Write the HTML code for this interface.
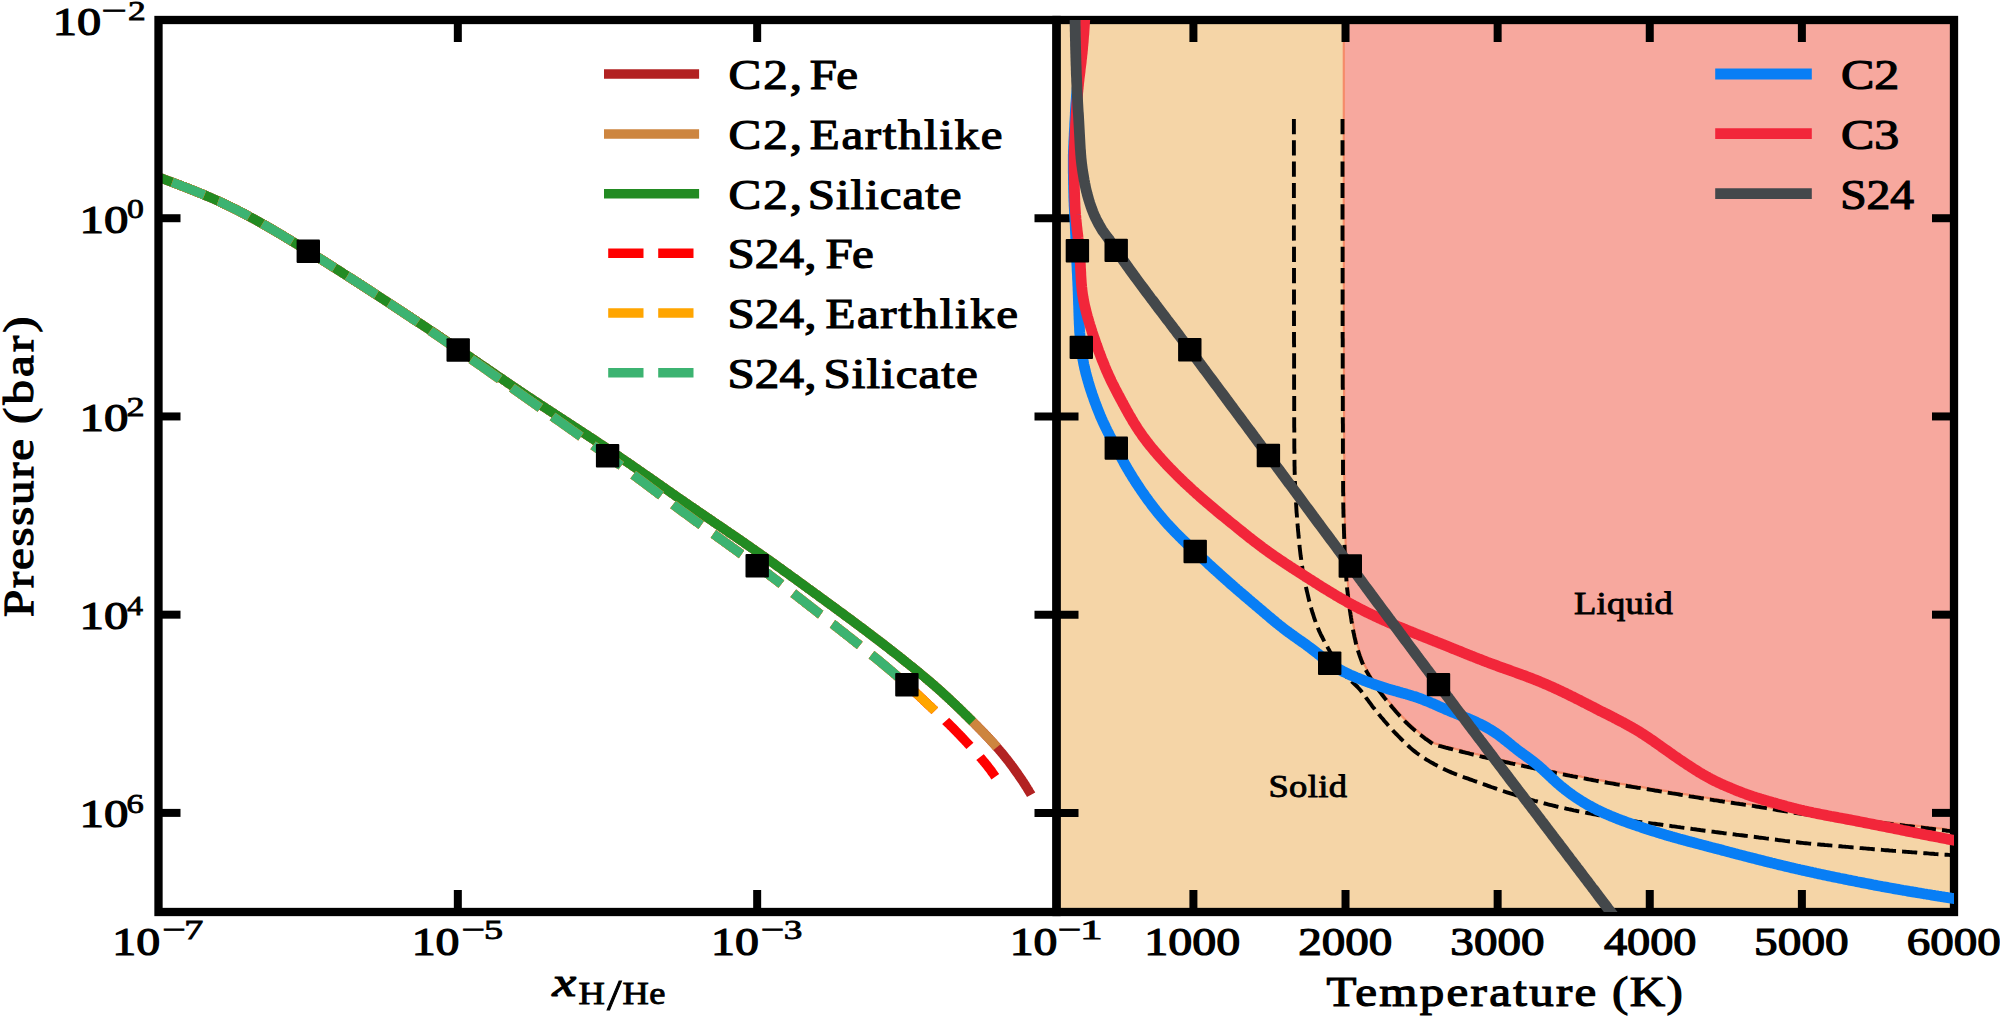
<!DOCTYPE html>
<html><head><meta charset="utf-8"><title>Pressure profiles</title>
<style>html,body{margin:0;padding:0;background:#fff}svg{display:block}</style></head>
<body>
<svg width="2000" height="1017" viewBox="0 0 2000 1017">
<defs>
<clipPath id="cl"><rect x="158.5" y="20.0" width="898.0" height="892.0"/></clipPath>
<clipPath id="cr"><rect x="1056.5" y="20.0" width="897.5" height="892.0"/></clipPath>
</defs>
<rect width="2000" height="1017" fill="#fff"/>
<rect x="1056.5" y="20.0" width="897.5" height="892.0" fill="#F5D5A7"/>
<path d="M1343.8,20.0 L1343.8,119.0 L1343.8,120.6 L1343.8,122.3 L1343.8,123.9 L1343.8,125.6 L1343.8,127.2 L1343.8,128.9 L1343.8,130.5 L1343.8,132.1 L1343.8,133.8 L1343.8,135.4 L1343.8,137.1 L1343.8,138.7 L1343.8,140.3 L1343.8,142.0 L1343.8,143.6 L1343.8,145.3 L1343.8,146.9 L1343.8,148.6 L1343.8,150.2 L1343.8,151.8 L1343.8,153.5 L1343.8,155.1 L1343.8,156.8 L1343.8,158.4 L1343.8,160.1 L1343.8,161.7 L1343.8,163.3 L1343.8,165.0 L1343.8,166.6 L1343.8,168.3 L1343.8,169.9 L1343.8,171.5 L1343.8,173.2 L1343.8,174.8 L1343.8,176.5 L1343.8,178.1 L1343.8,179.8 L1343.8,181.4 L1343.8,183.0 L1343.8,184.7 L1343.8,186.3 L1343.8,188.0 L1343.8,189.6 L1343.8,191.3 L1343.8,192.9 L1343.8,194.5 L1343.8,196.2 L1343.8,197.8 L1343.8,199.5 L1343.8,201.1 L1343.8,202.7 L1343.8,204.4 L1343.8,206.0 L1343.8,207.7 L1343.8,209.3 L1343.8,211.0 L1343.8,212.6 L1343.8,214.2 L1343.8,215.9 L1343.8,217.5 L1343.8,219.2 L1343.8,220.8 L1343.8,222.4 L1343.8,224.1 L1343.8,225.7 L1343.8,227.4 L1343.8,229.0 L1343.8,230.7 L1343.8,232.3 L1343.8,233.9 L1343.8,235.6 L1343.8,237.2 L1343.8,238.9 L1343.9,240.5 L1343.9,242.2 L1343.9,243.8 L1343.9,245.4 L1343.9,247.1 L1343.9,248.7 L1343.9,250.4 L1343.9,252.0 L1343.9,253.6 L1343.9,255.3 L1343.9,256.9 L1343.9,258.6 L1343.9,260.2 L1343.9,261.9 L1343.9,263.5 L1343.9,265.1 L1343.9,266.8 L1343.9,268.4 L1343.9,270.1 L1343.9,271.7 L1343.9,273.4 L1343.9,275.0 L1343.9,276.6 L1343.9,278.3 L1343.9,279.9 L1343.9,281.6 L1343.9,283.2 L1343.9,284.8 L1343.9,286.5 L1343.9,288.1 L1343.9,289.8 L1343.9,291.4 L1343.9,293.1 L1343.9,294.7 L1343.9,296.3 L1343.9,298.0 L1343.9,299.6 L1343.9,301.3 L1343.9,302.9 L1343.9,304.6 L1343.9,306.2 L1343.9,307.8 L1343.9,309.5 L1343.9,311.1 L1343.9,312.8 L1343.9,314.4 L1343.9,316.0 L1343.9,317.7 L1343.9,319.3 L1343.9,321.0 L1343.9,322.6 L1343.9,324.3 L1343.9,325.9 L1343.9,327.5 L1343.9,329.2 L1343.9,330.8 L1343.9,332.5 L1343.9,334.1 L1343.9,335.7 L1343.9,337.4 L1344.0,339.0 L1344.0,340.7 L1344.0,342.3 L1344.0,344.0 L1344.0,345.6 L1344.0,347.2 L1344.0,348.9 L1344.0,350.5 L1344.0,352.2 L1344.0,353.8 L1344.0,355.5 L1344.0,357.1 L1344.0,358.7 L1344.0,360.4 L1344.0,362.0 L1344.0,363.7 L1344.0,365.3 L1344.0,366.9 L1344.0,368.6 L1344.0,370.2 L1344.0,371.9 L1344.0,373.5 L1344.0,375.2 L1344.0,376.8 L1344.0,378.4 L1344.0,380.1 L1344.0,381.7 L1344.0,383.4 L1344.0,385.0 L1344.0,386.7 L1344.1,388.3 L1344.1,389.9 L1344.1,391.6 L1344.1,393.2 L1344.1,394.9 L1344.1,396.5 L1344.1,398.1 L1344.1,399.8 L1344.1,401.4 L1344.1,403.1 L1344.1,404.7 L1344.1,406.4 L1344.1,408.0 L1344.1,409.6 L1344.1,411.3 L1344.1,412.9 L1344.1,414.6 L1344.1,416.2 L1344.1,417.9 L1344.1,419.5 L1344.1,421.1 L1344.1,422.8 L1344.2,424.4 L1344.2,426.1 L1344.2,427.7 L1344.2,429.3 L1344.2,431.0 L1344.2,432.6 L1344.2,434.3 L1344.2,435.9 L1344.2,437.6 L1344.2,439.2 L1344.2,440.8 L1344.2,442.5 L1344.2,444.1 L1344.2,445.8 L1344.2,447.4 L1344.2,449.0 L1344.2,450.7 L1344.2,452.3 L1344.2,454.0 L1344.3,455.6 L1344.3,457.3 L1344.3,458.9 L1344.3,460.5 L1344.3,462.2 L1344.3,463.8 L1344.3,465.5 L1344.3,467.1 L1344.3,468.8 L1344.3,470.4 L1344.3,472.0 L1344.3,473.7 L1344.3,475.3 L1344.3,477.0 L1344.4,478.6 L1344.4,480.2 L1344.4,481.9 L1344.4,483.5 L1344.4,485.2 L1344.4,486.8 L1344.4,488.5 L1344.4,490.1 L1344.4,491.7 L1344.5,493.4 L1344.5,495.0 L1344.5,496.7 L1344.5,498.3 L1344.5,499.9 L1344.5,501.6 L1344.5,503.2 L1344.6,504.9 L1344.6,506.5 L1344.6,508.1 L1344.7,509.8 L1344.7,511.4 L1344.7,513.1 L1344.8,514.7 L1344.8,516.3 L1344.9,518.0 L1344.9,519.6 L1345.0,521.3 L1345.0,522.9 L1345.1,524.5 L1345.1,526.2 L1345.2,527.8 L1345.2,529.5 L1345.3,531.1 L1345.3,532.7 L1345.4,534.4 L1345.4,536.0 L1345.5,537.7 L1345.6,539.3 L1345.6,540.9 L1345.7,542.6 L1345.7,544.2 L1345.8,545.9 L1345.9,547.5 L1345.9,549.1 L1346.0,550.8 L1346.1,552.4 L1346.1,554.1 L1346.2,555.7 L1346.3,557.3 L1346.4,559.0 L1346.5,560.6 L1346.6,562.3 L1346.6,563.9 L1346.7,565.5 L1346.8,567.2 L1346.9,568.8 L1347.0,570.4 L1347.1,572.1 L1347.2,573.7 L1347.4,575.4 L1347.5,577.0 L1347.6,578.6 L1347.7,580.3 L1347.8,581.9 L1348.0,583.5 L1348.1,585.1 L1348.3,586.8 L1348.4,588.4 L1348.6,590.0 L1348.8,591.6 L1348.9,593.3 L1349.1,594.9 L1349.3,596.5 L1349.5,598.2 L1349.7,599.8 L1350.0,601.4 L1350.2,603.0 L1350.4,604.7 L1350.6,606.3 L1350.9,607.9 L1351.1,609.5 L1351.3,611.1 L1351.6,612.8 L1351.8,614.4 L1352.0,616.0 L1352.3,617.6 L1352.5,619.3 L1352.8,620.9 L1353.1,622.5 L1353.3,624.1 L1353.6,625.7 L1353.9,627.3 L1354.2,629.0 L1354.5,630.6 L1354.8,632.2 L1355.1,633.8 L1355.5,635.4 L1355.8,637.0 L1356.2,638.5 L1356.5,640.1 L1356.9,641.7 L1357.3,643.3 L1357.7,644.9 L1358.1,646.4 L1358.6,648.0 L1359.0,649.6 L1359.5,651.2 L1360.0,652.7 L1360.5,654.3 L1361.1,655.8 L1361.6,657.3 L1362.2,658.9 L1362.8,660.4 L1363.3,661.9 L1364.0,663.3 L1364.6,664.8 L1365.3,666.2 L1366.1,667.7 L1366.8,669.1 L1367.6,670.5 L1368.4,672.0 L1369.3,673.4 L1370.1,674.8 L1371.0,676.2 L1371.8,677.6 L1372.7,679.0 L1373.6,680.3 L1374.4,681.7 L1375.3,683.1 L1376.2,684.4 L1377.2,685.8 L1378.1,687.1 L1379.0,688.4 L1380.0,689.8 L1381.0,691.1 L1382.0,692.4 L1382.9,693.7 L1383.9,695.0 L1385.0,696.3 L1386.0,697.6 L1387.0,698.9 L1388.0,700.1 L1389.0,701.4 L1390.1,702.7 L1391.1,703.9 L1392.2,705.2 L1393.2,706.4 L1394.3,707.7 L1395.3,708.9 L1396.4,710.2 L1397.5,711.4 L1398.6,712.6 L1399.7,713.8 L1400.8,715.1 L1401.9,716.3 L1403.0,717.4 L1404.2,718.6 L1405.3,719.8 L1406.5,720.9 L1407.6,722.1 L1408.8,723.2 L1410.0,724.3 L1411.2,725.4 L1412.4,726.5 L1413.6,727.6 L1414.8,728.6 L1416.0,729.7 L1417.3,730.7 L1418.5,731.7 L1419.8,732.8 L1421.1,733.8 L1422.4,734.8 L1423.7,735.8 L1425.0,736.8 L1426.3,737.7 L1427.6,738.7 L1429.0,739.6 L1430.3,740.6 L1431.7,741.5 L1433.0,742.4 L1434.2,743.2 L1435.7,743.6 L1437.4,744.1 L1439.2,744.5 L1440.9,745.0 L1442.6,745.4 L1444.3,745.9 L1446.0,746.3 L1447.7,746.8 L1449.4,747.2 L1451.1,747.6 L1452.8,748.1 L1454.5,748.5 L1456.2,749.0 L1457.9,749.4 L1459.7,749.8 L1461.4,750.3 L1463.1,750.7 L1464.8,751.1 L1466.5,751.6 L1468.2,752.0 L1469.9,752.4 L1471.6,752.8 L1473.3,753.2 L1475.1,753.7 L1476.8,754.1 L1478.5,754.5 L1480.2,754.9 L1481.9,755.3 L1483.6,755.7 L1485.4,756.1 L1487.1,756.5 L1488.8,756.9 L1490.5,757.3 L1492.2,757.7 L1494.0,758.1 L1495.7,758.5 L1497.4,758.9 L1499.1,759.3 L1500.8,759.7 L1502.6,760.1 L1504.3,760.5 L1506.0,760.8 L1507.7,761.2 L1509.4,761.6 L1511.2,762.0 L1512.9,762.4 L1514.6,762.8 L1516.3,763.1 L1518.1,763.5 L1519.8,763.9 L1521.5,764.3 L1523.2,764.6 L1525.0,765.0 L1526.7,765.4 L1528.4,765.8 L1530.1,766.1 L1531.9,766.5 L1533.6,766.9 L1535.3,767.2 L1537.0,767.6 L1538.8,768.0 L1540.5,768.3 L1542.2,768.7 L1544.0,769.1 L1545.7,769.4 L1547.4,769.8 L1549.1,770.1 L1550.9,770.5 L1552.6,770.9 L1554.3,771.2 L1556.1,771.6 L1557.8,771.9 L1559.5,772.3 L1561.2,772.6 L1563.0,773.0 L1564.7,773.4 L1566.4,773.7 L1568.2,774.1 L1569.9,774.4 L1571.6,774.7 L1573.4,775.1 L1575.1,775.4 L1576.8,775.8 L1578.6,776.1 L1580.3,776.4 L1582.0,776.8 L1583.8,777.1 L1585.5,777.4 L1587.2,777.8 L1589.0,778.1 L1590.7,778.4 L1592.4,778.7 L1594.2,779.1 L1595.9,779.4 L1597.6,779.7 L1599.4,780.0 L1601.1,780.3 L1602.8,780.6 L1604.6,780.9 L1606.3,781.2 L1608.0,781.5 L1609.8,781.8 L1611.5,782.1 L1613.3,782.4 L1615.0,782.7 L1616.7,783.0 L1618.5,783.3 L1620.2,783.6 L1622.0,783.8 L1623.7,784.1 L1625.5,784.4 L1627.2,784.7 L1628.9,785.0 L1630.7,785.3 L1632.4,785.5 L1634.2,785.8 L1635.9,786.1 L1637.7,786.4 L1639.4,786.6 L1641.1,786.9 L1642.9,787.2 L1644.6,787.5 L1646.4,787.8 L1648.1,788.0 L1649.9,788.3 L1651.6,788.6 L1653.4,788.9 L1655.1,789.2 L1656.8,789.5 L1658.6,789.7 L1660.3,790.0 L1662.1,790.3 L1663.8,790.6 L1665.6,790.9 L1667.3,791.2 L1669.0,791.5 L1670.8,791.8 L1672.5,792.1 L1674.3,792.4 L1676.0,792.7 L1677.8,792.9 L1679.5,793.2 L1681.2,793.5 L1683.0,793.8 L1684.7,794.1 L1686.5,794.4 L1688.2,794.7 L1689.9,795.0 L1691.7,795.3 L1693.4,795.6 L1695.2,795.8 L1696.9,796.1 L1698.7,796.4 L1700.4,796.7 L1702.1,797.0 L1703.9,797.3 L1705.6,797.5 L1707.4,797.8 L1709.1,798.1 L1710.9,798.4 L1712.6,798.6 L1714.3,798.9 L1716.1,799.2 L1717.8,799.4 L1719.6,799.7 L1721.3,799.9 L1723.1,800.2 L1724.8,800.5 L1726.6,800.7 L1728.3,801.0 L1730.1,801.2 L1731.8,801.5 L1733.5,801.8 L1735.3,802.0 L1737.0,802.3 L1738.8,802.5 L1740.5,802.8 L1742.3,803.0 L1744.0,803.3 L1745.8,803.6 L1747.5,803.8 L1749.3,804.1 L1751.0,804.4 L1752.8,804.6 L1754.5,804.9 L1756.3,805.2 L1758.0,805.5 L1759.8,805.7 L1761.5,806.0 L1763.2,806.3 L1765.0,806.6 L1766.7,806.9 L1768.5,807.2 L1770.2,807.5 L1772.0,807.8 L1773.7,808.1 L1775.4,808.4 L1777.2,808.7 L1778.9,809.0 L1780.7,809.3 L1782.4,809.6 L1784.1,809.8 L1785.9,810.1 L1787.6,810.4 L1789.4,810.7 L1791.1,811.0 L1792.8,811.2 L1794.6,811.5 L1796.3,811.8 L1798.1,812.0 L1799.8,812.3 L1801.6,812.5 L1803.3,812.7 L1805.1,813.0 L1806.8,813.2 L1808.5,813.4 L1810.3,813.6 L1812.0,813.8 L1813.8,814.0 L1815.6,814.2 L1817.3,814.4 L1819.1,814.6 L1820.8,814.8 L1822.6,815.0 L1824.3,815.2 L1826.1,815.4 L1827.8,815.6 L1829.6,815.8 L1831.3,816.0 L1833.1,816.2 L1834.9,816.4 L1836.6,816.6 L1838.4,816.7 L1840.1,816.9 L1841.9,817.1 L1843.6,817.3 L1845.4,817.5 L1847.1,817.7 L1848.9,817.9 L1850.7,818.1 L1852.4,818.3 L1854.2,818.5 L1855.9,818.7 L1857.7,818.9 L1859.4,819.1 L1861.2,819.3 L1862.9,819.5 L1864.7,819.7 L1866.5,819.9 L1868.2,820.1 L1870.0,820.3 L1871.7,820.5 L1873.5,820.7 L1875.2,820.9 L1877.0,821.1 L1878.7,821.3 L1880.5,821.5 L1882.2,821.7 L1884.0,821.9 L1885.8,822.1 L1887.5,822.3 L1889.3,822.5 L1891.0,822.7 L1892.8,822.9 L1894.5,823.1 L1896.3,823.3 L1898.0,823.5 L1899.8,823.7 L1901.5,823.9 L1903.3,824.2 L1905.1,824.4 L1906.8,824.6 L1908.6,824.8 L1910.3,825.0 L1912.1,825.2 L1913.8,825.4 L1915.6,825.6 L1917.3,825.8 L1919.1,826.0 L1920.8,826.2 L1922.6,826.4 L1924.3,826.6 L1926.1,826.8 L1927.9,827.1 L1929.6,827.3 L1931.4,827.5 L1933.1,827.7 L1934.9,827.9 L1936.6,828.1 L1938.4,828.3 L1940.1,828.5 L1941.9,828.7 L1943.6,828.9 L1945.4,829.2 L1947.1,829.4 L1948.9,829.6 L1950.6,829.8 L1952.4,830.0 L1954.2,830.2 L1974.0,833.2 L1974.0,20.0Z" fill="#F7A89E" stroke="#F58C69" stroke-width="2.2" clip-path="url(#cr)"/>
<path d="M1293.9,119.0 L1293.9,120.7 L1293.9,122.5 L1293.9,124.2 L1293.9,126.0 L1293.9,127.7 L1293.9,129.5 L1293.9,131.2 L1293.9,133.0 L1293.9,134.7 L1293.9,136.5 L1293.9,138.2 L1293.9,140.0 L1293.9,141.7 L1293.9,143.5 L1293.9,145.2 L1293.9,147.0 L1293.9,148.7 L1293.9,150.5 L1293.9,152.2 L1293.9,154.0 L1293.9,155.7 L1293.9,157.5 L1293.9,159.2 L1293.9,161.0 L1293.9,162.7 L1293.9,164.5 L1293.9,166.2 L1293.9,168.0 L1293.9,169.7 L1293.9,171.5 L1293.9,173.2 L1293.9,175.0 L1293.9,176.7 L1293.9,178.5 L1293.9,180.2 L1293.9,182.0 L1293.9,183.7 L1293.9,185.5 L1293.9,187.2 L1293.9,189.0 L1293.9,190.7 L1293.9,192.5 L1293.9,194.2 L1293.9,196.0 L1293.9,197.7 L1293.9,199.5 L1293.9,201.2 L1293.9,203.0 L1293.9,204.7 L1293.9,206.5 L1293.9,208.2 L1293.9,210.0 L1293.9,211.7 L1293.9,213.5 L1293.9,215.2 L1293.9,217.0 L1293.9,218.7 L1293.9,220.5 L1293.9,222.2 L1293.9,224.0 L1293.9,225.7 L1293.9,227.5 L1293.9,229.2 L1293.9,231.0 L1293.9,232.7 L1293.9,234.5 L1293.9,236.2 L1293.9,238.0 L1293.9,239.7 L1294.0,241.5 L1294.0,243.2 L1294.0,245.0 L1294.0,246.7 L1294.0,248.5 L1294.0,250.2 L1294.0,252.0 L1294.0,253.7 L1294.0,255.5 L1294.0,257.2 L1294.0,259.0 L1294.0,260.7 L1294.0,262.5 L1294.0,264.2 L1294.0,266.0 L1294.0,267.7 L1294.0,269.5 L1294.0,271.2 L1294.0,273.0 L1294.0,274.7 L1294.0,276.5 L1294.0,278.2 L1294.0,280.0 L1294.0,281.7 L1294.0,283.5 L1294.0,285.2 L1294.0,287.0 L1294.0,288.7 L1294.0,290.5 L1294.0,292.2 L1294.0,294.0 L1294.0,295.7 L1294.0,297.5 L1294.0,299.2 L1294.0,301.0 L1294.0,302.7 L1294.0,304.5 L1294.0,306.2 L1294.0,308.0 L1294.0,309.7 L1294.0,311.5 L1294.0,313.2 L1294.0,315.0 L1294.0,316.7 L1294.0,318.5 L1294.0,320.2 L1294.0,322.0 L1294.0,323.7 L1294.0,325.5 L1294.0,327.2 L1294.0,329.0 L1294.0,330.7 L1294.0,332.5 L1294.0,334.2 L1294.0,336.0 L1294.0,337.7 L1294.0,339.5 L1294.0,341.2 L1294.0,343.0 L1294.1,344.7 L1294.1,346.5 L1294.1,348.2 L1294.1,350.0 L1294.1,351.7 L1294.1,353.5 L1294.1,355.2 L1294.1,357.0 L1294.1,358.7 L1294.1,360.5 L1294.1,362.2 L1294.1,364.0 L1294.1,365.7 L1294.1,367.5 L1294.1,369.2 L1294.1,371.0 L1294.1,372.7 L1294.1,374.5 L1294.1,376.2 L1294.1,378.0 L1294.1,379.7 L1294.1,381.5 L1294.1,383.2 L1294.1,385.0 L1294.1,386.7 L1294.1,388.5 L1294.1,390.2 L1294.1,392.0 L1294.1,393.7 L1294.2,395.5 L1294.2,397.2 L1294.2,399.0 L1294.2,400.7 L1294.2,402.5 L1294.2,404.2 L1294.2,406.0 L1294.2,407.7 L1294.2,409.5 L1294.2,411.2 L1294.2,413.0 L1294.2,414.7 L1294.2,416.5 L1294.2,418.2 L1294.2,420.0 L1294.2,421.7 L1294.2,423.5 L1294.2,425.2 L1294.2,426.9 L1294.3,428.7 L1294.3,430.4 L1294.3,432.2 L1294.3,433.9 L1294.3,435.7 L1294.3,437.4 L1294.3,439.2 L1294.3,440.9 L1294.3,442.7 L1294.3,444.4 L1294.3,446.2 L1294.3,447.9 L1294.4,449.7 L1294.4,451.4 L1294.4,453.2 L1294.4,454.9 L1294.4,456.7 L1294.4,458.4 L1294.5,460.2 L1294.5,461.9 L1294.5,463.7 L1294.5,465.4 L1294.6,467.2 L1294.6,468.9 L1294.6,470.7 L1294.7,472.4 L1294.7,474.2 L1294.8,475.9 L1294.8,477.7 L1294.9,479.4 L1294.9,481.2 L1295.0,482.9 L1295.1,484.7 L1295.2,486.4 L1295.2,488.2 L1295.3,489.9 L1295.4,491.7 L1295.5,493.4 L1295.6,495.2 L1295.7,496.9 L1295.8,498.7 L1295.9,500.4 L1296.0,502.2 L1296.1,503.9 L1296.2,505.6 L1296.3,507.4 L1296.4,509.1 L1296.5,510.9 L1296.6,512.6 L1296.8,514.4 L1296.9,516.1 L1297.0,517.9 L1297.2,519.6 L1297.3,521.4 L1297.4,523.1 L1297.6,524.8 L1297.7,526.6 L1297.9,528.3 L1298.0,530.1 L1298.2,531.8 L1298.4,533.6 L1298.5,535.3 L1298.7,537.0 L1298.8,538.8 L1299.0,540.5 L1299.2,542.3 L1299.4,544.0 L1299.5,545.8 L1299.7,547.5 L1299.9,549.2 L1300.1,551.0 L1300.3,552.7 L1300.5,554.5 L1300.7,556.2 L1301.0,557.9 L1301.2,559.7 L1301.4,561.4 L1301.7,563.1 L1301.9,564.9 L1302.2,566.6 L1302.4,568.3 L1302.7,570.0 L1303.0,571.8 L1303.3,573.5 L1303.6,575.2 L1303.9,576.9 L1304.2,578.7 L1304.6,580.4 L1304.9,582.1 L1305.3,583.8 L1305.6,585.5 L1306.0,587.2 L1306.4,589.0 L1306.8,590.7 L1307.2,592.4 L1307.6,594.1 L1308.0,595.8 L1308.4,597.5 L1308.8,599.2 L1309.2,600.9 L1309.7,602.6 L1310.1,604.2 L1310.6,605.9 L1311.1,607.6 L1311.5,609.3 L1312.0,611.0 L1312.5,612.7 L1313.1,614.4 L1313.6,616.0 L1314.1,617.7 L1314.7,619.4 L1315.3,621.0 L1315.8,622.7 L1316.4,624.3 L1317.0,625.9 L1317.7,627.5 L1318.4,629.1 L1319.0,630.7 L1319.8,632.3 L1320.5,633.9 L1321.3,635.5 L1322.1,637.0 L1322.9,638.6 L1323.7,640.2 L1324.5,641.7 L1325.4,643.3 L1326.2,644.8 L1327.1,646.3 L1327.9,647.9 L1328.8,649.4 L1329.6,650.9 L1330.5,652.4 L1331.4,654.0 L1332.2,655.5 L1333.1,657.1 L1334.0,658.6 L1334.9,660.1 L1335.8,661.6 L1336.7,663.1 L1337.6,664.6 L1338.6,666.1 L1339.5,667.6 L1340.5,669.0 L1341.5,670.5 L1342.5,671.9 L1343.6,673.2 L1344.7,674.6 L1345.8,675.9 L1346.9,677.1 L1348.2,678.4 L1349.5,679.6 L1350.8,680.7 L1352.1,681.9 L1353.4,683.1 L1354.7,684.3 L1356.0,685.5 L1357.3,686.7 L1358.4,688.0 L1359.6,689.3 L1360.7,690.6 L1361.8,692.0 L1362.9,693.4 L1363.9,694.7 L1365.0,696.1 L1366.0,697.6 L1367.0,699.0 L1368.1,700.4 L1369.1,701.8 L1370.1,703.2 L1371.2,704.7 L1372.2,706.1 L1373.3,707.5 L1374.4,708.8 L1375.5,710.2 L1376.6,711.6 L1377.7,712.9 L1378.8,714.3 L1379.9,715.6 L1381.0,717.0 L1382.2,718.3 L1383.3,719.6 L1384.4,721.0 L1385.6,722.3 L1386.7,723.6 L1387.9,725.0 L1389.0,726.3 L1390.2,727.6 L1391.4,728.9 L1392.6,730.2 L1393.7,731.4 L1394.9,732.7 L1396.2,734.0 L1397.4,735.2 L1398.6,736.5 L1399.8,737.7 L1401.1,739.0 L1402.3,740.2 L1403.6,741.5 L1404.8,742.7 L1406.1,743.9 L1407.4,745.1 L1408.7,746.3 L1410.0,747.5 L1411.3,748.6 L1412.6,749.8 L1414.0,750.9 L1415.3,751.9 L1416.7,753.0 L1418.1,754.0 L1419.5,755.0 L1420.9,756.0 L1422.4,756.9 L1423.8,757.9 L1425.3,758.8 L1426.8,759.8 L1428.3,760.7 L1429.8,761.6 L1431.4,762.5 L1432.9,763.3 L1434.4,764.2 L1436.0,765.0 L1437.6,765.9 L1439.1,766.7 L1440.7,767.5 L1442.3,768.3 L1443.8,769.0 L1445.4,769.8 L1447.0,770.5 L1448.6,771.2 L1450.2,771.9 L1451.8,772.6 L1453.4,773.2 L1455.0,773.9 L1456.6,774.5 L1458.3,775.1 L1459.9,775.8 L1461.5,776.4 L1463.2,777.0 L1464.9,777.6 L1466.5,778.1 L1468.2,778.7 L1469.8,779.3 L1471.5,779.9 L1473.1,780.5 L1474.8,781.1 L1476.4,781.6 L1478.1,782.2 L1479.7,782.8 L1481.4,783.4 L1483.0,784.0 L1484.7,784.6 L1486.3,785.2 L1488.0,785.8 L1489.6,786.4 L1491.3,787.0 L1492.9,787.5 L1494.6,788.1 L1496.2,788.7 L1497.9,789.3 L1499.5,789.8 L1501.2,790.4 L1502.8,791.0 L1504.5,791.5 L1506.2,792.1 L1507.8,792.6 L1509.5,793.1 L1511.2,793.7 L1512.8,794.2 L1514.5,794.7 L1516.2,795.3 L1517.8,795.8 L1519.5,796.3 L1521.2,796.8 L1522.8,797.3 L1524.5,797.8 L1526.2,798.3 L1527.9,798.8 L1529.6,799.3 L1531.2,799.8 L1532.9,800.3 L1534.6,800.8 L1536.3,801.2 L1538.0,801.7 L1539.7,802.1 L1541.4,802.6 L1543.0,803.0 L1544.7,803.5 L1546.4,803.9 L1548.1,804.4 L1549.8,804.8 L1551.5,805.2 L1553.2,805.6 L1554.9,806.0 L1556.6,806.5 L1558.3,806.9 L1560.0,807.3 L1561.7,807.6 L1563.5,808.0 L1565.2,808.4 L1566.9,808.8 L1568.6,809.2 L1570.3,809.5 L1572.0,809.9 L1573.7,810.3 L1575.4,810.6 L1577.1,811.0 L1578.9,811.3 L1580.6,811.6 L1582.3,812.0 L1584.0,812.3 L1585.7,812.7 L1587.4,813.0 L1589.2,813.3 L1590.9,813.6 L1592.6,814.0 L1594.3,814.3 L1596.0,814.6 L1597.8,815.0 L1599.5,815.3 L1601.2,815.6 L1602.9,816.0 L1604.6,816.3 L1606.3,816.6 L1608.1,817.0 L1609.8,817.3 L1611.5,817.6 L1613.2,817.9 L1614.9,818.2 L1616.7,818.5 L1618.4,818.9 L1620.1,819.1 L1621.8,819.4 L1623.6,819.7 L1625.3,820.0 L1627.0,820.2 L1628.8,820.5 L1630.5,820.7 L1632.2,821.0 L1633.9,821.2 L1635.7,821.4 L1637.4,821.7 L1639.2,821.9 L1640.9,822.1 L1642.6,822.3 L1644.4,822.5 L1646.1,822.8 L1647.8,823.0 L1649.6,823.2 L1651.3,823.4 L1653.1,823.6 L1654.8,823.8 L1656.5,824.0 L1658.3,824.3 L1660.0,824.5 L1661.7,824.7 L1663.5,825.0 L1665.2,825.2 L1666.9,825.4 L1668.7,825.7 L1670.4,825.9 L1672.1,826.2 L1673.9,826.4 L1675.6,826.6 L1677.3,826.9 L1679.1,827.1 L1680.8,827.4 L1682.5,827.6 L1684.3,827.9 L1686.0,828.1 L1687.7,828.3 L1689.5,828.6 L1691.2,828.8 L1692.9,829.1 L1694.7,829.3 L1696.4,829.5 L1698.1,829.8 L1699.9,830.0 L1701.6,830.3 L1703.3,830.5 L1705.1,830.7 L1706.8,830.9 L1708.5,831.2 L1710.3,831.4 L1712.0,831.6 L1713.7,831.8 L1715.5,832.1 L1717.2,832.3 L1718.9,832.5 L1720.7,832.7 L1722.4,832.9 L1724.2,833.2 L1725.9,833.4 L1727.6,833.6 L1729.4,833.8 L1731.1,834.0 L1732.8,834.2 L1734.6,834.4 L1736.3,834.7 L1738.0,834.9 L1739.8,835.1 L1741.5,835.3 L1743.3,835.5 L1745.0,835.7 L1746.7,835.9 L1748.5,836.2 L1750.2,836.4 L1751.9,836.6 L1753.7,836.8 L1755.4,837.0 L1757.1,837.2 L1758.9,837.5 L1760.6,837.7 L1762.3,837.9 L1764.1,838.1 L1765.8,838.4 L1767.6,838.6 L1769.3,838.8 L1771.0,839.1 L1772.8,839.3 L1774.5,839.5 L1776.2,839.7 L1778.0,840.0 L1779.7,840.2 L1781.4,840.4 L1783.2,840.6 L1784.9,840.9 L1786.6,841.1 L1788.4,841.3 L1790.1,841.5 L1791.9,841.7 L1793.6,841.9 L1795.3,842.1 L1797.1,842.3 L1798.8,842.5 L1800.5,842.7 L1802.3,842.9 L1804.0,843.1 L1805.8,843.2 L1807.5,843.4 L1809.2,843.6 L1811.0,843.7 L1812.7,843.9 L1814.5,844.1 L1816.2,844.2 L1818.0,844.4 L1819.7,844.5 L1821.4,844.7 L1823.2,844.8 L1824.9,845.0 L1826.7,845.1 L1828.4,845.3 L1830.2,845.4 L1831.9,845.6 L1833.6,845.7 L1835.4,845.9 L1837.1,846.0 L1838.9,846.2 L1840.6,846.3 L1842.4,846.5 L1844.1,846.6 L1845.9,846.8 L1847.6,846.9 L1849.3,847.1 L1851.1,847.2 L1852.8,847.4 L1854.6,847.5 L1856.3,847.7 L1858.1,847.8 L1859.8,848.0 L1861.5,848.1 L1863.3,848.3 L1865.0,848.4 L1866.8,848.6 L1868.5,848.7 L1870.3,848.9 L1872.0,849.0 L1873.7,849.2 L1875.5,849.3 L1877.2,849.5 L1879.0,849.6 L1880.7,849.8 L1882.5,849.9 L1884.2,850.1 L1886.0,850.2 L1887.7,850.3 L1889.4,850.5 L1891.2,850.6 L1892.9,850.8 L1894.7,850.9 L1896.4,851.0 L1898.2,851.2 L1899.9,851.3 L1901.6,851.5 L1903.4,851.6 L1905.1,851.7 L1906.9,851.9 L1908.6,852.0 L1910.4,852.1 L1912.1,852.3 L1913.9,852.4 L1915.6,852.5 L1917.4,852.7 L1919.1,852.8 L1920.8,852.9 L1922.6,853.1 L1924.3,853.2 L1926.1,853.3 L1927.8,853.4 L1929.6,853.6 L1931.3,853.7 L1933.1,853.8 L1934.8,854.0 L1936.5,854.1 L1938.3,854.2 L1940.0,854.3 L1941.8,854.5 L1943.5,854.6 L1945.3,854.7 L1947.0,854.8 L1948.8,854.9 L1950.5,855.1 L1952.3,855.2 L1954.0,855.3" fill="none" stroke="#000" stroke-width="3.9" stroke-dasharray="15.2 6.1" clip-path="url(#cr)"/>
<path d="M1342.5,119.0 L1342.5,120.6 L1342.5,122.3 L1342.5,123.9 L1342.5,125.6 L1342.5,127.2 L1342.5,128.9 L1342.5,130.5 L1342.5,132.1 L1342.5,133.8 L1342.5,135.4 L1342.5,137.1 L1342.5,138.7 L1342.5,140.3 L1342.5,142.0 L1342.5,143.6 L1342.5,145.3 L1342.5,146.9 L1342.5,148.6 L1342.5,150.2 L1342.5,151.8 L1342.5,153.5 L1342.5,155.1 L1342.5,156.8 L1342.5,158.4 L1342.5,160.1 L1342.5,161.7 L1342.5,163.3 L1342.5,165.0 L1342.5,166.6 L1342.5,168.3 L1342.5,169.9 L1342.5,171.5 L1342.5,173.2 L1342.5,174.8 L1342.5,176.5 L1342.5,178.1 L1342.5,179.8 L1342.5,181.4 L1342.5,183.0 L1342.5,184.7 L1342.5,186.3 L1342.5,188.0 L1342.5,189.6 L1342.5,191.3 L1342.5,192.9 L1342.5,194.5 L1342.5,196.2 L1342.5,197.8 L1342.5,199.5 L1342.5,201.1 L1342.5,202.7 L1342.5,204.4 L1342.5,206.0 L1342.5,207.7 L1342.5,209.3 L1342.5,211.0 L1342.5,212.6 L1342.5,214.2 L1342.5,215.9 L1342.5,217.5 L1342.5,219.2 L1342.5,220.8 L1342.5,222.4 L1342.5,224.1 L1342.5,225.7 L1342.5,227.4 L1342.5,229.0 L1342.5,230.7 L1342.5,232.3 L1342.5,233.9 L1342.5,235.6 L1342.5,237.2 L1342.5,238.9 L1342.6,240.5 L1342.6,242.2 L1342.6,243.8 L1342.6,245.4 L1342.6,247.1 L1342.6,248.7 L1342.6,250.4 L1342.6,252.0 L1342.6,253.6 L1342.6,255.3 L1342.6,256.9 L1342.6,258.6 L1342.6,260.2 L1342.6,261.9 L1342.6,263.5 L1342.6,265.1 L1342.6,266.8 L1342.6,268.4 L1342.6,270.1 L1342.6,271.7 L1342.6,273.4 L1342.6,275.0 L1342.6,276.6 L1342.6,278.3 L1342.6,279.9 L1342.6,281.6 L1342.6,283.2 L1342.6,284.8 L1342.6,286.5 L1342.6,288.1 L1342.6,289.8 L1342.6,291.4 L1342.6,293.1 L1342.6,294.7 L1342.6,296.3 L1342.6,298.0 L1342.6,299.6 L1342.6,301.3 L1342.6,302.9 L1342.6,304.6 L1342.6,306.2 L1342.6,307.8 L1342.6,309.5 L1342.6,311.1 L1342.6,312.8 L1342.6,314.4 L1342.6,316.0 L1342.6,317.7 L1342.6,319.3 L1342.6,321.0 L1342.6,322.6 L1342.6,324.3 L1342.6,325.9 L1342.6,327.5 L1342.6,329.2 L1342.6,330.8 L1342.6,332.5 L1342.6,334.1 L1342.6,335.8 L1342.6,337.4 L1342.7,339.0 L1342.7,340.7 L1342.7,342.3 L1342.7,344.0 L1342.7,345.6 L1342.7,347.2 L1342.7,348.9 L1342.7,350.5 L1342.7,352.2 L1342.7,353.8 L1342.7,355.5 L1342.7,357.1 L1342.7,358.7 L1342.7,360.4 L1342.7,362.0 L1342.7,363.7 L1342.7,365.3 L1342.7,367.0 L1342.7,368.6 L1342.7,370.2 L1342.7,371.9 L1342.7,373.5 L1342.7,375.2 L1342.7,376.8 L1342.7,378.4 L1342.7,380.1 L1342.7,381.7 L1342.7,383.4 L1342.7,385.0 L1342.7,386.7 L1342.8,388.3 L1342.8,389.9 L1342.8,391.6 L1342.8,393.2 L1342.8,394.9 L1342.8,396.5 L1342.8,398.2 L1342.8,399.8 L1342.8,401.4 L1342.8,403.1 L1342.8,404.7 L1342.8,406.4 L1342.8,408.0 L1342.8,409.6 L1342.8,411.3 L1342.8,412.9 L1342.8,414.6 L1342.8,416.2 L1342.8,417.9 L1342.8,419.5 L1342.8,421.1 L1342.8,422.8 L1342.9,424.4 L1342.9,426.1 L1342.9,427.7 L1342.9,429.3 L1342.9,431.0 L1342.9,432.6 L1342.9,434.3 L1342.9,435.9 L1342.9,437.6 L1342.9,439.2 L1342.9,440.8 L1342.9,442.5 L1342.9,444.1 L1342.9,445.8 L1342.9,447.4 L1342.9,449.1 L1342.9,450.7 L1342.9,452.3 L1342.9,454.0 L1343.0,455.6 L1343.0,457.3 L1343.0,458.9 L1343.0,460.5 L1343.0,462.2 L1343.0,463.8 L1343.0,465.5 L1343.0,467.1 L1343.0,468.8 L1343.0,470.4 L1343.0,472.0 L1343.0,473.7 L1343.0,475.3 L1343.0,477.0 L1343.1,478.6 L1343.1,480.3 L1343.1,481.9 L1343.1,483.5 L1343.1,485.2 L1343.1,486.8 L1343.1,488.5 L1343.1,490.1 L1343.1,491.7 L1343.2,493.4 L1343.2,495.0 L1343.2,496.7 L1343.2,498.3 L1343.2,500.0 L1343.2,501.6 L1343.2,503.2 L1343.3,504.9 L1343.3,506.5 L1343.3,508.2 L1343.4,509.8 L1343.4,511.4 L1343.4,513.1 L1343.5,514.7 L1343.5,516.4 L1343.6,518.0 L1343.6,519.7 L1343.7,521.3 L1343.7,522.9 L1343.8,524.6 L1343.8,526.2 L1343.9,527.9 L1343.9,529.5 L1344.0,531.1 L1344.0,532.8 L1344.1,534.4 L1344.1,536.1 L1344.2,537.7 L1344.3,539.4 L1344.3,541.0 L1344.4,542.6 L1344.4,544.3 L1344.5,545.9 L1344.6,547.6 L1344.6,549.2 L1344.7,550.8 L1344.8,552.5 L1344.8,554.1 L1344.9,555.8 L1345.0,557.4 L1345.1,559.0 L1345.2,560.7 L1345.3,562.3 L1345.3,564.0 L1345.4,565.6 L1345.5,567.2 L1345.6,568.9 L1345.7,570.5 L1345.8,572.2 L1345.9,573.8 L1346.1,575.4 L1346.2,577.1 L1346.3,578.7 L1346.4,580.3 L1346.5,582.0 L1346.7,583.6 L1346.8,585.3 L1347.0,586.9 L1347.1,588.5 L1347.3,590.2 L1347.5,591.8 L1347.7,593.4 L1347.8,595.1 L1348.0,596.7 L1348.2,598.3 L1348.5,599.9 L1348.7,601.6 L1348.9,603.2 L1349.1,604.8 L1349.3,606.5 L1349.6,608.1 L1349.8,609.7 L1350.0,611.3 L1350.3,613.0 L1350.5,614.6 L1350.8,616.2 L1351.0,617.8 L1351.3,619.5 L1351.5,621.1 L1351.8,622.7 L1352.1,624.3 L1352.3,626.0 L1352.6,627.6 L1352.9,629.2 L1353.2,630.8 L1353.5,632.4 L1353.9,634.0 L1354.2,635.6 L1354.5,637.2 L1354.9,638.8 L1355.3,640.4 L1355.6,642.0 L1356.0,643.6 L1356.4,645.2 L1356.9,646.8 L1357.3,648.4 L1357.8,650.0 L1358.3,651.6 L1358.8,653.1 L1359.3,654.7 L1359.8,656.2 L1360.4,657.8 L1361.0,659.3 L1361.5,660.8 L1362.1,662.4 L1362.8,663.8 L1363.5,665.3 L1364.2,666.8 L1364.9,668.3 L1365.7,669.7 L1366.5,671.2 L1367.3,672.6 L1368.1,674.0 L1369.0,675.5 L1369.9,676.9 L1370.7,678.3 L1371.6,679.7 L1372.5,681.0 L1373.3,682.4 L1374.2,683.8 L1375.2,685.1 L1376.1,686.5 L1377.0,687.8 L1378.0,689.2 L1378.9,690.5 L1379.9,691.8 L1380.9,693.2 L1381.9,694.5 L1382.9,695.8 L1383.9,697.1 L1384.9,698.4 L1386.0,699.7 L1387.0,700.9 L1388.0,702.2 L1389.1,703.5 L1390.1,704.7 L1391.2,706.0 L1392.2,707.3 L1393.3,708.5 L1394.4,709.8 L1395.4,711.0 L1396.5,712.3 L1397.6,713.5 L1398.7,714.7 L1399.8,715.9 L1401.0,717.1 L1402.1,718.3 L1403.2,719.5 L1404.4,720.7 L1405.5,721.9 L1406.7,723.0 L1407.9,724.1 L1409.1,725.3 L1410.3,726.4 L1411.5,727.5 L1412.7,728.5 L1413.9,729.6 L1415.2,730.7 L1416.4,731.7 L1417.7,732.7 L1419.0,733.8 L1420.3,734.8 L1421.6,735.8 L1422.9,736.8 L1424.2,737.8 L1425.5,738.8 L1426.9,739.7 L1428.2,740.7 L1429.6,741.6 L1430.9,742.6 L1432.3,743.5 L1433.7,744.4 L1435.4,744.9 L1437.1,745.3 L1438.8,745.8 L1440.5,746.2 L1442.2,746.7 L1443.9,747.1 L1445.7,747.6 L1447.4,748.0 L1449.1,748.5 L1450.8,748.9 L1452.5,749.3 L1454.2,749.8 L1455.9,750.2 L1457.6,750.7 L1459.3,751.1 L1461.0,751.5 L1462.8,752.0 L1464.5,752.4 L1466.2,752.8 L1467.9,753.2 L1469.6,753.7 L1471.3,754.1 L1473.0,754.5 L1474.8,754.9 L1476.5,755.3 L1478.2,755.7 L1479.9,756.2 L1481.6,756.6 L1483.3,757.0 L1485.1,757.4 L1486.8,757.8 L1488.5,758.2 L1490.2,758.6 L1491.9,759.0 L1493.7,759.4 L1495.4,759.8 L1497.1,760.2 L1498.8,760.6 L1500.5,761.0 L1502.3,761.3 L1504.0,761.7 L1505.7,762.1 L1507.4,762.5 L1509.2,762.9 L1510.9,763.3 L1512.6,763.7 L1514.3,764.0 L1516.1,764.4 L1517.8,764.8 L1519.5,765.2 L1521.2,765.5 L1523.0,765.9 L1524.7,766.3 L1526.4,766.7 L1528.1,767.0 L1529.9,767.4 L1531.6,767.8 L1533.3,768.1 L1535.1,768.5 L1536.8,768.9 L1538.5,769.2 L1540.2,769.6 L1542.0,770.0 L1543.7,770.3 L1545.4,770.7 L1547.1,771.1 L1548.9,771.4 L1550.6,771.8 L1552.3,772.1 L1554.1,772.5 L1555.8,772.9 L1557.5,773.2 L1559.3,773.6 L1561.0,773.9 L1562.7,774.3 L1564.4,774.6 L1566.2,775.0 L1567.9,775.3 L1569.6,775.7 L1571.4,776.0 L1573.1,776.4 L1574.8,776.7 L1576.6,777.0 L1578.3,777.4 L1580.0,777.7 L1581.8,778.1 L1583.5,778.4 L1585.2,778.7 L1587.0,779.0 L1588.7,779.4 L1590.4,779.7 L1592.2,780.0 L1593.9,780.3 L1595.7,780.7 L1597.4,781.0 L1599.1,781.3 L1600.9,781.6 L1602.6,781.9 L1604.3,782.2 L1606.1,782.5 L1607.8,782.8 L1609.6,783.1 L1611.3,783.4 L1613.1,783.7 L1614.8,784.0 L1616.5,784.3 L1618.3,784.6 L1620.0,784.8 L1621.8,785.1 L1623.5,785.4 L1625.2,785.7 L1627.0,786.0 L1628.7,786.3 L1630.5,786.5 L1632.2,786.8 L1634.0,787.1 L1635.7,787.4 L1637.5,787.7 L1639.2,787.9 L1640.9,788.2 L1642.7,788.5 L1644.4,788.8 L1646.2,789.1 L1647.9,789.3 L1649.7,789.6 L1651.4,789.9 L1653.1,790.2 L1654.9,790.5 L1656.6,790.7 L1658.4,791.0 L1660.1,791.3 L1661.9,791.6 L1663.6,791.9 L1665.3,792.2 L1667.1,792.5 L1668.8,792.8 L1670.6,793.1 L1672.3,793.4 L1674.1,793.6 L1675.8,793.9 L1677.5,794.2 L1679.3,794.5 L1681.0,794.8 L1682.8,795.1 L1684.5,795.4 L1686.2,795.7 L1688.0,796.0 L1689.7,796.3 L1691.5,796.6 L1693.2,796.8 L1695.0,797.1 L1696.7,797.4 L1698.4,797.7 L1700.2,798.0 L1701.9,798.3 L1703.7,798.5 L1705.4,798.8 L1707.2,799.1 L1708.9,799.4 L1710.7,799.6 L1712.4,799.9 L1714.1,800.2 L1715.9,800.4 L1717.6,800.7 L1719.4,801.0 L1721.1,801.2 L1722.9,801.5 L1724.6,801.7 L1726.4,802.0 L1728.1,802.3 L1729.9,802.5 L1731.6,802.8 L1733.4,803.0 L1735.1,803.3 L1736.9,803.6 L1738.6,803.8 L1740.3,804.1 L1742.1,804.3 L1743.8,804.6 L1745.6,804.9 L1747.3,805.1 L1749.1,805.4 L1750.8,805.6 L1752.6,805.9 L1754.3,806.2 L1756.1,806.5 L1757.8,806.7 L1759.5,807.0 L1761.3,807.3 L1763.0,807.6 L1764.8,807.9 L1766.5,808.2 L1768.3,808.5 L1770.0,808.8 L1771.7,809.1 L1773.5,809.4 L1775.2,809.7 L1777.0,810.0 L1778.7,810.3 L1780.4,810.6 L1782.2,810.8 L1783.9,811.1 L1785.7,811.4 L1787.4,811.7 L1789.2,812.0 L1790.9,812.3 L1792.7,812.5 L1794.4,812.8 L1796.1,813.0 L1797.9,813.3 L1799.6,813.5 L1801.4,813.8 L1803.1,814.0 L1804.9,814.2 L1806.6,814.5 L1808.4,814.7 L1810.1,814.9 L1811.9,815.1 L1813.6,815.3 L1815.4,815.5 L1817.2,815.7 L1818.9,815.9 L1820.7,816.1 L1822.4,816.3 L1824.2,816.5 L1825.9,816.7 L1827.7,816.9 L1829.4,817.1 L1831.2,817.3 L1833.0,817.5 L1834.7,817.7 L1836.5,817.8 L1838.2,818.0 L1840.0,818.2 L1841.7,818.4 L1843.5,818.6 L1845.2,818.8 L1847.0,819.0 L1848.8,819.2 L1850.5,819.4 L1852.3,819.6 L1854.0,819.8 L1855.8,820.0 L1857.5,820.2 L1859.3,820.4 L1861.0,820.6 L1862.8,820.8 L1864.5,821.0 L1866.3,821.2 L1868.1,821.4 L1869.8,821.6 L1871.6,821.8 L1873.3,822.0 L1875.1,822.2 L1876.8,822.4 L1878.6,822.6 L1880.3,822.8 L1882.1,823.0 L1883.9,823.2 L1885.6,823.4 L1887.4,823.6 L1889.1,823.8 L1890.9,824.0 L1892.6,824.2 L1894.4,824.4 L1896.1,824.6 L1897.9,824.8 L1899.6,825.0 L1901.4,825.2 L1903.1,825.4 L1904.9,825.7 L1906.7,825.9 L1908.4,826.1 L1910.2,826.3 L1911.9,826.5 L1913.7,826.7 L1915.4,826.9 L1917.2,827.1 L1918.9,827.3 L1920.7,827.5 L1922.4,827.7 L1924.2,827.9 L1925.9,828.1 L1927.7,828.3 L1929.5,828.6 L1931.2,828.8 L1933.0,829.0 L1934.7,829.2 L1936.5,829.4 L1938.2,829.6 L1940.0,829.8 L1941.7,830.0 L1943.5,830.2 L1945.2,830.4 L1947.0,830.7 L1948.7,830.9 L1950.5,831.1 L1952.2,831.3 L1954.0,831.5" fill="none" stroke="#000" stroke-width="3.9" stroke-dasharray="15.2 6.1" clip-path="url(#cr)"/>
<g clip-path="url(#cl)" fill="none" stroke-linejoin="round">
<path d="M140.0,170.0 L141.1,170.4 L142.3,170.9 L143.4,171.3 L144.5,171.8 L145.7,172.2 L146.8,172.7 L147.9,173.1 L149.1,173.5 L150.2,174.0 L151.4,174.4 L152.5,174.9 L153.6,175.3 L154.8,175.7 L155.9,176.2 L157.1,176.6 L158.2,177.0 L159.3,177.4 L160.5,177.9 L161.6,178.3 L162.8,178.7 L163.9,179.2 L165.0,179.6 L166.2,180.0 L167.3,180.5 L168.5,180.9 L169.6,181.3 L170.8,181.7 L171.9,182.2 L173.0,182.6 L174.2,183.0 L175.3,183.5 L176.5,183.9 L177.6,184.3 L178.7,184.8 L179.9,185.2 L181.0,185.6 L182.2,186.1 L183.3,186.5 L184.4,186.9 L185.6,187.4 L186.7,187.8 L187.8,188.3 L189.0,188.7 L190.1,189.2 L191.3,189.6 L192.4,190.1 L193.5,190.5 L194.7,191.0 L195.8,191.4 L196.9,191.9 L198.0,192.3 L199.2,192.8 L200.3,193.2 L201.4,193.7 L202.6,194.2 L203.7,194.6 L204.8,195.1 L205.9,195.6 L207.0,196.1 L208.2,196.6 L209.3,197.0 L210.4,197.5 L211.5,198.0 L212.6,198.5 L213.8,199.0 L214.9,199.5 L216.0,200.0 L217.1,200.5 L218.2,201.0 L219.3,201.5 L220.4,202.0 L221.5,202.5 L222.6,203.1 L223.7,203.6 L224.8,204.1 L225.9,204.6 L227.0,205.2 L228.1,205.7 L229.2,206.2 L230.3,206.8 L231.4,207.3 L232.5,207.8 L233.6,208.4 L234.7,208.9 L235.8,209.5 L236.9,210.0 L238.0,210.6 L239.0,211.1 L240.1,211.7 L241.2,212.2 L242.3,212.8 L243.4,213.4 L244.5,213.9 L245.5,214.5 L246.6,215.1 L247.7,215.7 L248.8,216.2 L249.8,216.8 L250.9,217.4 L252.0,218.0 L253.1,218.5 L254.1,219.1 L255.2,219.7 L256.3,220.3 L257.3,220.9 L258.4,221.5 L259.5,222.1 L260.5,222.7 L261.6,223.3 L262.6,223.9 L263.7,224.5 L264.8,225.1 L265.8,225.7 L266.9,226.3 L267.9,226.9 L269.0,227.5 L270.1,228.1 L271.1,228.7 L272.2,229.3 L273.2,230.0 L274.3,230.6 L275.3,231.2 L276.4,231.8 L277.4,232.4 L278.5,233.1 L279.5,233.7 L280.6,234.3 L281.6,234.9 L282.7,235.6 L283.7,236.2 L284.7,236.8 L285.8,237.4 L286.8,238.1 L287.9,238.7 L288.9,239.3 L290.0,240.0 L291.0,240.6 L292.0,241.2 L293.1,241.9 L294.1,242.5 L295.2,243.2 L296.2,243.8 L297.2,244.4 L298.3,245.1 L299.3,245.7 L300.4,246.4 L301.4,247.0 L302.4,247.6 L303.5,248.3 L304.5,248.9 L305.5,249.6 L306.6,250.2 L307.6,250.9 L308.6,251.5 L309.7,252.2 L310.7,252.8 L311.7,253.4 L312.8,254.1 L313.8,254.7 L314.8,255.4 L315.9,256.0 L316.9,256.7 L317.9,257.3 L319.0,258.0 L320.0,258.6 L321.0,259.3 L322.1,259.9 L323.1,260.6 L324.1,261.2 L325.2,261.9 L326.2,262.5 L327.2,263.2 L328.2,263.8 L329.3,264.5 L330.3,265.2 L331.3,265.8 L332.4,266.5 L333.4,267.1 L334.4,267.8 L335.4,268.4 L336.5,269.1 L337.5,269.7 L338.5,270.4 L339.6,271.0 L340.6,271.7 L341.6,272.4 L342.6,273.0 L343.7,273.7 L344.7,274.3 L345.7,275.0 L346.7,275.6 L347.8,276.3 L348.8,277.0 L349.8,277.6 L350.9,278.3 L351.9,278.9 L352.9,279.6 L353.9,280.3 L355.0,280.9 L356.0,281.6 L357.0,282.2 L358.0,282.9 L359.1,283.6 L360.1,284.2 L361.1,284.9 L362.1,285.5 L363.1,286.2 L364.2,286.9 L365.2,287.5 L366.2,288.2 L367.2,288.9 L368.3,289.5 L369.3,290.2 L370.3,290.8 L371.3,291.5 L372.4,292.2 L373.4,292.8 L374.4,293.5 L375.4,294.2 L376.4,294.8 L377.5,295.5 L378.5,296.2 L379.5,296.8 L380.5,297.5 L381.6,298.2 L382.6,298.8 L383.6,299.5 L384.6,300.2 L385.6,300.8 L386.7,301.5 L387.7,302.2 L388.7,302.8 L389.7,303.5 L390.7,304.2 L391.8,304.8 L392.8,305.5 L393.8,306.2 L394.8,306.8 L395.8,307.5 L396.9,308.2 L397.9,308.8 L398.9,309.5 L399.9,310.2 L400.9,310.8 L402.0,311.5 L403.0,312.2 L404.0,312.9 L405.0,313.5 L406.0,314.2 L407.1,314.9 L408.1,315.5 L409.1,316.2 L410.1,316.9 L411.1,317.5 L412.1,318.2 L413.2,318.9 L414.2,319.6 L415.2,320.2 L416.2,320.9 L417.2,321.6 L418.2,322.3 L419.3,322.9 L420.3,323.6 L421.3,324.3 L422.3,324.9 L423.3,325.6 L424.3,326.3 L425.4,327.0 L426.4,327.6 L427.4,328.3 L428.4,329.0 L429.4,329.7 L430.4,330.3 L431.4,331.0 L432.5,331.7 L433.5,332.4 L434.5,333.1 L435.5,333.7 L436.5,334.4 L437.5,335.1 L438.5,335.8 L439.6,336.4 L440.6,337.1 L441.6,337.8 L442.6,338.5 L443.6,339.2 L444.6,339.8 L445.6,340.5 L446.6,341.2 L447.7,341.9 L448.7,342.6 L449.7,343.2 L450.7,343.9 L451.7,344.6 L452.7,345.3 L453.7,346.0 L454.7,346.6 L455.7,347.3 L456.8,348.0 L457.8,348.7 L458.8,349.4 L459.8,350.1 L460.8,350.8 L461.8,351.4 L462.8,352.1 L463.8,352.8 L464.8,353.5 L465.8,354.2 L466.8,354.9 L467.8,355.6 L468.9,356.2 L469.9,356.9 L470.9,357.6 L471.9,358.3 L472.9,359.0 L473.9,359.7 L474.9,360.4 L475.9,361.1 L476.9,361.7 L477.9,362.4 L478.9,363.1 L479.9,363.8 L480.9,364.5 L481.9,365.2 L482.9,365.9 L484.0,366.6 L485.0,367.2 L486.0,367.9 L487.0,368.6 L488.0,369.3 L489.0,370.0 L490.0,370.7 L491.0,371.4 L492.0,372.1 L493.0,372.8 L494.0,373.4 L495.0,374.1 L496.0,374.8 L497.0,375.5 L498.0,376.2 L499.1,376.9 L500.1,377.6 L501.1,378.3 L502.1,378.9 L503.1,379.6 L504.1,380.3 L505.1,381.0 L506.1,381.7 L507.1,382.4 L508.1,383.1 L509.1,383.7 L510.1,384.4 L511.2,385.1 L512.2,385.8 L513.2,386.5 L514.2,387.2 L515.2,387.8 L516.2,388.5 L517.2,389.2 L518.2,389.9 L519.2,390.6 L520.2,391.2 L521.3,391.9 L522.3,392.6 L523.3,393.3 L524.3,394.0 L525.3,394.6 L526.3,395.3 L527.3,396.0 L528.3,396.7 L529.4,397.4 L530.4,398.0 L531.4,398.7 L532.4,399.4 L533.4,400.1 L534.4,400.7 L535.5,401.4 L536.5,402.1 L537.5,402.7 L538.5,403.4 L539.5,404.1 L540.5,404.8 L541.6,405.4 L542.6,406.1 L543.6,406.8 L544.6,407.4 L545.6,408.1 L546.7,408.8 L547.7,409.4 L548.7,410.1 L549.7,410.8 L550.7,411.4 L551.8,412.1 L552.8,412.8 L553.8,413.4 L554.8,414.1 L555.8,414.8 L556.9,415.4 L557.9,416.1 L558.9,416.8 L559.9,417.4 L561.0,418.1 L562.0,418.8 L563.0,419.4 L564.0,420.1 L565.0,420.8 L566.1,421.4 L567.1,422.1 L568.1,422.8 L569.1,423.4 L570.2,424.1 L571.2,424.8 L572.2,425.4 L573.2,426.1 L574.2,426.8 L575.3,427.4 L576.3,428.1 L577.3,428.8 L578.3,429.4 L579.3,430.1 L580.4,430.8 L581.4,431.4 L582.4,432.1 L583.4,432.8 L584.4,433.4 L585.5,434.1 L586.5,434.8 L587.5,435.4 L588.5,436.1 L589.5,436.8 L590.6,437.4 L591.6,438.1 L592.6,438.8 L593.6,439.4 L594.6,440.1 L595.6,440.8 L596.7,441.5 L597.7,442.1 L598.7,442.8 L599.7,443.5 L600.7,444.2 L601.7,444.8 L602.8,445.5 L603.8,446.2 L604.8,446.9 L605.8,447.6 L606.8,448.2 L607.8,448.9 L608.8,449.6 L609.8,450.3 L610.9,451.0 L611.9,451.6 L612.9,452.3 L613.9,453.0 L614.9,453.7 L615.9,454.4 L616.9,455.1 L617.9,455.7 L618.9,456.4 L619.9,457.1 L620.9,457.8 L621.9,458.5 L622.9,459.2 L623.9,459.9 L625.0,460.6 L626.0,461.3 L627.0,462.0 L628.0,462.6 L629.0,463.3 L630.0,464.0 L631.0,464.7 L632.0,465.4 L633.0,466.1 L634.0,466.8 L635.0,467.5 L636.0,468.2 L637.0,468.9 L638.0,469.6 L639.0,470.3 L640.0,471.0 L641.0,471.7 L642.0,472.4 L643.0,473.1 L644.0,473.8 L645.0,474.5 L646.0,475.2 L647.0,475.9 L648.0,476.5 L649.0,477.2 L650.0,477.9 L651.0,478.6 L652.0,479.3 L653.0,480.0 L654.0,480.7 L655.0,481.4 L656.0,482.1 L657.0,482.8 L658.0,483.5 L659.0,484.2 L660.0,484.9 L661.0,485.6 L662.0,486.3 L663.0,487.0 L664.0,487.7 L665.0,488.4 L666.0,489.1 L667.0,489.8 L668.0,490.5 L669.0,491.2 L670.0,491.9 L671.0,492.6 L672.0,493.3 L673.0,494.0 L674.0,494.7 L675.0,495.4 L676.0,496.1 L677.0,496.8 L678.0,497.5 L679.0,498.2 L680.0,498.9 L681.0,499.6 L682.0,500.3 L683.0,500.9 L684.0,501.6 L685.0,502.3 L686.0,503.0 L687.0,503.7 L688.0,504.4 L689.0,505.1 L690.0,505.8 L691.0,506.5 L692.1,507.2 L693.1,507.9 L694.1,508.5 L695.1,509.2 L696.1,509.9 L697.1,510.6 L698.1,511.3 L699.1,512.0 L700.1,512.7 L701.1,513.4 L702.1,514.0 L703.1,514.7 L704.1,515.4 L705.1,516.1 L706.1,516.8 L707.2,517.5 L708.2,518.2 L709.2,518.9 L710.2,519.5 L711.2,520.2 L712.2,520.9 L713.2,521.6 L714.2,522.3 L715.2,523.0 L716.2,523.6 L717.2,524.3 L718.2,525.0 L719.3,525.7 L720.3,526.4 L721.3,527.1 L722.3,527.8 L723.3,528.4 L724.3,529.1 L725.3,529.8 L726.3,530.5 L727.3,531.2 L728.3,531.9 L729.3,532.6 L730.3,533.3 L731.4,533.9 L732.4,534.6 L733.4,535.3 L734.4,536.0 L735.4,536.7 L736.4,537.4 L737.4,538.1 L738.4,538.8 L739.4,539.4 L740.4,540.1 L741.4,540.8 L742.4,541.5 L743.4,542.2 L744.4,542.9 L745.4,543.6 L746.4,544.3 L747.4,545.0 L748.4,545.7 L749.4,546.4 L750.4,547.1 L751.4,547.8 L752.4,548.5 L753.4,549.2 L754.4,549.9 L755.4,550.6 L756.4,551.3 L757.4,552.0 L758.4,552.7 L759.4,553.4 L760.4,554.1 L761.4,554.8 L762.4,555.5 L763.4,556.2 L764.4,556.9 L765.4,557.6 L766.4,558.3 L767.4,559.0 L768.4,559.7 L769.4,560.4 L770.4,561.1 L771.4,561.8 L772.4,562.5 L773.3,563.2 L774.3,563.9 L775.3,564.7 L776.3,565.4 L777.3,566.1 L778.3,566.8 L779.3,567.5 L780.3,568.2 L781.3,568.9 L782.3,569.6 L783.2,570.4 L784.2,571.1 L785.2,571.8 L786.2,572.5 L787.2,573.2 L788.2,573.9 L789.2,574.6 L790.2,575.4 L791.1,576.1 L792.1,576.8 L793.1,577.5 L794.1,578.2 L795.1,578.9 L796.1,579.7 L797.1,580.4 L798.1,581.1 L799.0,581.8 L800.0,582.5 L801.0,583.2 L802.0,584.0 L803.0,584.7 L804.0,585.4 L805.0,586.1 L805.9,586.8 L806.9,587.5 L807.9,588.3 L808.9,589.0 L809.9,589.7 L810.9,590.4 L811.9,591.1 L812.8,591.8 L813.8,592.6 L814.8,593.3 L815.8,594.0 L816.8,594.7 L817.8,595.4 L818.8,596.1 L819.7,596.9 L820.7,597.6 L821.7,598.3 L822.7,599.0 L823.7,599.7 L824.7,600.5 L825.7,601.2 L826.6,601.9 L827.6,602.6 L828.6,603.3 L829.6,604.0 L830.6,604.8 L831.6,605.5 L832.6,606.2 L833.5,606.9 L834.5,607.6 L835.5,608.4 L836.5,609.1 L837.5,609.8 L838.5,610.5 L839.4,611.3 L840.4,612.0 L841.4,612.7 L842.4,613.4 L843.4,614.1 L844.3,614.9 L845.3,615.6 L846.3,616.3 L847.3,617.0 L848.3,617.8 L849.3,618.5 L850.2,619.2 L851.2,619.9 L852.2,620.7 L853.2,621.4 L854.1,622.1 L855.1,622.8 L856.1,623.6 L857.1,624.3 L858.1,625.0 L859.0,625.8 L860.0,626.5 L861.0,627.2 L862.0,628.0 L862.9,628.7 L863.9,629.4 L864.9,630.2 L865.9,630.9 L866.8,631.6 L867.8,632.4 L868.8,633.1 L869.8,633.8 L870.7,634.6 L871.7,635.3 L872.7,636.0 L873.6,636.8 L874.6,637.5 L875.6,638.3 L876.5,639.0 L877.5,639.7 L878.5,640.5 L879.5,641.2 L880.4,642.0 L881.4,642.7 L882.4,643.4 L883.3,644.2 L884.3,644.9 L885.2,645.7 L886.2,646.4 L887.2,647.2 L888.1,647.9 L889.1,648.7 L890.1,649.4 L891.0,650.2 L892.0,650.9 L892.9,651.7 L893.9,652.4 L894.9,653.2 L895.8,653.9 L896.8,654.7 L897.7,655.4 L898.7,656.2 L899.7,656.9 L900.6,657.7 L901.6,658.5 L902.5,659.2 L903.5,660.0 L904.4,660.7 L905.4,661.5 L906.3,662.3 L907.3,663.0 L908.2,663.8 L909.2,664.5 L910.1,665.3 L911.1,666.1 L912.0,666.8 L913.0,667.6 L913.9,668.4 L914.9,669.2 L915.8,669.9 L916.8,670.7 L917.7,671.5 L918.7,672.2 L919.6,673.0 L920.5,673.8 L921.5,674.6 L922.4,675.4 L923.3,676.1 L924.3,676.9 L925.2,677.7 L926.1,678.5 L927.1,679.3 L928.0,680.1 L928.9,680.9 L929.9,681.6 L930.8,682.4 L931.7,683.2 L932.6,684.0 L933.6,684.8 L934.5,685.6 L935.4,686.4 L936.3,687.2 L937.2,688.0 L938.1,688.8 L939.1,689.7 L940.0,690.5 L940.9,691.3 L941.8,692.1 L942.7,692.9 L943.6,693.7 L944.5,694.6 L945.4,695.4 L946.3,696.2 L947.2,697.0 L948.1,697.9 L949.0,698.7 L949.9,699.5 L950.7,700.4 L951.6,701.2 L952.5,702.0 L953.4,702.9 L954.3,703.7 L955.2,704.5 L956.1,705.4 L956.9,706.2 L957.8,707.1 L958.7,707.9 L959.6,708.8 L960.4,709.6 L961.3,710.5 L962.2,711.3 L963.1,712.2 L963.9,713.0 L964.8,713.9 L965.7,714.7 L966.5,715.6 L967.4,716.4 L968.3,717.3 L969.1,718.2 L970.0,719.0 L970.9,719.9 L971.7,720.7 L972.6,721.6 L973.5,722.5 L974.3,723.3 L975.2,724.2 L976.1,725.1 L976.9,725.9 L977.8,726.8 L978.6,727.7 L979.5,728.5 L980.3,729.4 L981.2,730.3 L982.0,731.2 L982.9,732.0 L983.7,732.9 L984.6,733.8 L985.4,734.7 L986.3,735.6 L987.1,736.4 L987.9,737.3 L988.8,738.2 L989.6,739.1 L990.4,740.0 L991.2,740.9 L992.1,741.8 L992.9,742.7 L993.7,743.6 L994.5,744.5 L995.3,745.4 L996.1,746.3 L996.9,747.3 L997.7,748.2 L998.5,749.1 L999.3,750.0 L1000.1,751.0 L1000.9,751.9 L1001.7,752.8 L1002.5,753.8 L1003.2,754.7 L1004.0,755.7 L1004.8,756.6 L1005.5,757.6 L1006.3,758.5 L1007.1,759.5 L1007.8,760.4 L1008.6,761.4 L1009.3,762.4 L1010.0,763.3 L1010.8,764.3 L1011.5,765.3 L1012.2,766.2 L1013.0,767.2 L1013.7,768.2 L1014.4,769.2 L1015.1,770.2 L1015.8,771.2 L1016.5,772.2 L1017.3,773.2 L1018.0,774.2 L1018.6,775.2 L1019.3,776.2 L1020.0,777.2 L1020.7,778.2 L1021.4,779.2 L1022.1,780.2 L1022.7,781.2 L1023.4,782.3 L1024.1,783.3 L1024.7,784.3 L1025.4,785.3 L1026.0,786.4 L1026.7,787.4 L1027.3,788.4 L1028.0,789.5 L1028.6,790.5 L1029.2,791.6 L1029.9,792.6 L1030.5,793.6 L1031.1,794.7" stroke="#B22222" stroke-width="9.4"/>
<path d="M140.0,170.0 L141.1,170.4 L142.3,170.9 L143.4,171.3 L144.5,171.8 L145.7,172.2 L146.8,172.7 L147.9,173.1 L149.1,173.5 L150.2,174.0 L151.4,174.4 L152.5,174.9 L153.6,175.3 L154.8,175.7 L155.9,176.2 L157.1,176.6 L158.2,177.0 L159.3,177.4 L160.5,177.9 L161.6,178.3 L162.8,178.7 L163.9,179.2 L165.0,179.6 L166.2,180.0 L167.3,180.5 L168.5,180.9 L169.6,181.3 L170.8,181.7 L171.9,182.2 L173.0,182.6 L174.2,183.0 L175.3,183.5 L176.5,183.9 L177.6,184.3 L178.7,184.8 L179.9,185.2 L181.0,185.6 L182.2,186.1 L183.3,186.5 L184.4,186.9 L185.6,187.4 L186.7,187.8 L187.8,188.3 L189.0,188.7 L190.1,189.2 L191.3,189.6 L192.4,190.1 L193.5,190.5 L194.7,191.0 L195.8,191.4 L196.9,191.9 L198.0,192.3 L199.2,192.8 L200.3,193.2 L201.4,193.7 L202.6,194.2 L203.7,194.6 L204.8,195.1 L205.9,195.6 L207.0,196.1 L208.2,196.6 L209.3,197.0 L210.4,197.5 L211.5,198.0 L212.6,198.5 L213.8,199.0 L214.9,199.5 L216.0,200.0 L217.1,200.5 L218.2,201.0 L219.3,201.5 L220.4,202.0 L221.5,202.5 L222.6,203.1 L223.7,203.6 L224.8,204.1 L225.9,204.6 L227.0,205.2 L228.1,205.7 L229.2,206.2 L230.3,206.8 L231.4,207.3 L232.5,207.8 L233.6,208.4 L234.7,208.9 L235.8,209.5 L236.9,210.0 L238.0,210.6 L239.0,211.1 L240.1,211.7 L241.2,212.2 L242.3,212.8 L243.4,213.4 L244.5,213.9 L245.5,214.5 L246.6,215.1 L247.7,215.7 L248.8,216.2 L249.8,216.8 L250.9,217.4 L252.0,218.0 L253.1,218.5 L254.1,219.1 L255.2,219.7 L256.3,220.3 L257.3,220.9 L258.4,221.5 L259.5,222.1 L260.5,222.7 L261.6,223.3 L262.6,223.9 L263.7,224.5 L264.8,225.1 L265.8,225.7 L266.9,226.3 L267.9,226.9 L269.0,227.5 L270.1,228.1 L271.1,228.7 L272.2,229.3 L273.2,230.0 L274.3,230.6 L275.3,231.2 L276.4,231.8 L277.4,232.4 L278.5,233.1 L279.5,233.7 L280.6,234.3 L281.6,234.9 L282.7,235.6 L283.7,236.2 L284.7,236.8 L285.8,237.4 L286.8,238.1 L287.9,238.7 L288.9,239.3 L290.0,240.0 L291.0,240.6 L292.0,241.2 L293.1,241.9 L294.1,242.5 L295.2,243.2 L296.2,243.8 L297.2,244.4 L298.3,245.1 L299.3,245.7 L300.4,246.4 L301.4,247.0 L302.4,247.6 L303.5,248.3 L304.5,248.9 L305.5,249.6 L306.6,250.2 L307.6,250.9 L308.6,251.5 L309.7,252.2 L310.7,252.8 L311.7,253.4 L312.8,254.1 L313.8,254.7 L314.8,255.4 L315.9,256.0 L316.9,256.7 L317.9,257.3 L319.0,258.0 L320.0,258.6 L321.0,259.3 L322.1,259.9 L323.1,260.6 L324.1,261.2 L325.2,261.9 L326.2,262.5 L327.2,263.2 L328.2,263.8 L329.3,264.5 L330.3,265.2 L331.3,265.8 L332.4,266.5 L333.4,267.1 L334.4,267.8 L335.4,268.4 L336.5,269.1 L337.5,269.7 L338.5,270.4 L339.6,271.0 L340.6,271.7 L341.6,272.4 L342.6,273.0 L343.7,273.7 L344.7,274.3 L345.7,275.0 L346.7,275.6 L347.8,276.3 L348.8,277.0 L349.8,277.6 L350.9,278.3 L351.9,278.9 L352.9,279.6 L353.9,280.3 L355.0,280.9 L356.0,281.6 L357.0,282.2 L358.0,282.9 L359.1,283.6 L360.1,284.2 L361.1,284.9 L362.1,285.5 L363.1,286.2 L364.2,286.9 L365.2,287.5 L366.2,288.2 L367.2,288.9 L368.3,289.5 L369.3,290.2 L370.3,290.8 L371.3,291.5 L372.4,292.2 L373.4,292.8 L374.4,293.5 L375.4,294.2 L376.4,294.8 L377.5,295.5 L378.5,296.2 L379.5,296.8 L380.5,297.5 L381.6,298.2 L382.6,298.8 L383.6,299.5 L384.6,300.2 L385.6,300.8 L386.7,301.5 L387.7,302.2 L388.7,302.8 L389.7,303.5 L390.7,304.2 L391.8,304.8 L392.8,305.5 L393.8,306.2 L394.8,306.8 L395.8,307.5 L396.9,308.2 L397.9,308.8 L398.9,309.5 L399.9,310.2 L400.9,310.8 L402.0,311.5 L403.0,312.2 L404.0,312.9 L405.0,313.5 L406.0,314.2 L407.1,314.9 L408.1,315.5 L409.1,316.2 L410.1,316.9 L411.1,317.5 L412.1,318.2 L413.2,318.9 L414.2,319.6 L415.2,320.2 L416.2,320.9 L417.2,321.6 L418.2,322.3 L419.3,322.9 L420.3,323.6 L421.3,324.3 L422.3,324.9 L423.3,325.6 L424.3,326.3 L425.4,327.0 L426.4,327.6 L427.4,328.3 L428.4,329.0 L429.4,329.7 L430.4,330.3 L431.4,331.0 L432.5,331.7 L433.5,332.4 L434.5,333.1 L435.5,333.7 L436.5,334.4 L437.5,335.1 L438.5,335.8 L439.6,336.4 L440.6,337.1 L441.6,337.8 L442.6,338.5 L443.6,339.2 L444.6,339.8 L445.6,340.5 L446.6,341.2 L447.7,341.9 L448.7,342.6 L449.7,343.2 L450.7,343.9 L451.7,344.6 L452.7,345.3 L453.7,346.0 L454.7,346.6 L455.7,347.3 L456.8,348.0 L457.8,348.7 L458.8,349.4 L459.8,350.1 L460.8,350.8 L461.8,351.4 L462.8,352.1 L463.8,352.8 L464.8,353.5 L465.8,354.2 L466.8,354.9 L467.8,355.6 L468.9,356.2 L469.9,356.9 L470.9,357.6 L471.9,358.3 L472.9,359.0 L473.9,359.7 L474.9,360.4 L475.9,361.1 L476.9,361.7 L477.9,362.4 L478.9,363.1 L479.9,363.8 L480.9,364.5 L481.9,365.2 L482.9,365.9 L484.0,366.6 L485.0,367.2 L486.0,367.9 L487.0,368.6 L488.0,369.3 L489.0,370.0 L490.0,370.7 L491.0,371.4 L492.0,372.1 L493.0,372.8 L494.0,373.4 L495.0,374.1 L496.0,374.8 L497.0,375.5 L498.0,376.2 L499.1,376.9 L500.1,377.6 L501.1,378.3 L502.1,378.9 L503.1,379.6 L504.1,380.3 L505.1,381.0 L506.1,381.7 L507.1,382.4 L508.1,383.1 L509.1,383.7 L510.1,384.4 L511.2,385.1 L512.2,385.8 L513.2,386.5 L514.2,387.2 L515.2,387.8 L516.2,388.5 L517.2,389.2 L518.2,389.9 L519.2,390.6 L520.2,391.2 L521.3,391.9 L522.3,392.6 L523.3,393.3 L524.3,394.0 L525.3,394.6 L526.3,395.3 L527.3,396.0 L528.3,396.7 L529.4,397.4 L530.4,398.0 L531.4,398.7 L532.4,399.4 L533.4,400.1 L534.4,400.7 L535.5,401.4 L536.5,402.1 L537.5,402.7 L538.5,403.4 L539.5,404.1 L540.5,404.8 L541.6,405.4 L542.6,406.1 L543.6,406.8 L544.6,407.4 L545.6,408.1 L546.7,408.8 L547.7,409.4 L548.7,410.1 L549.7,410.8 L550.7,411.4 L551.8,412.1 L552.8,412.8 L553.8,413.4 L554.8,414.1 L555.8,414.8 L556.9,415.4 L557.9,416.1 L558.9,416.8 L559.9,417.4 L561.0,418.1 L562.0,418.8 L563.0,419.4 L564.0,420.1 L565.0,420.8 L566.1,421.4 L567.1,422.1 L568.1,422.8 L569.1,423.4 L570.2,424.1 L571.2,424.8 L572.2,425.4 L573.2,426.1 L574.2,426.8 L575.3,427.4 L576.3,428.1 L577.3,428.8 L578.3,429.4 L579.3,430.1 L580.4,430.8 L581.4,431.4 L582.4,432.1 L583.4,432.8 L584.4,433.4 L585.5,434.1 L586.5,434.8 L587.5,435.4 L588.5,436.1 L589.5,436.8 L590.6,437.4 L591.6,438.1 L592.6,438.8 L593.6,439.4 L594.6,440.1 L595.6,440.8 L596.7,441.5 L597.7,442.1 L598.7,442.8 L599.7,443.5 L600.7,444.2 L601.7,444.8 L602.8,445.5 L603.8,446.2 L604.8,446.9 L605.8,447.6 L606.8,448.2 L607.8,448.9 L608.8,449.6 L609.8,450.3 L610.9,451.0 L611.9,451.6 L612.9,452.3 L613.9,453.0 L614.9,453.7 L615.9,454.4 L616.9,455.1 L617.9,455.7 L618.9,456.4 L619.9,457.1 L620.9,457.8 L621.9,458.5 L622.9,459.2 L623.9,459.9 L625.0,460.6 L626.0,461.3 L627.0,462.0 L628.0,462.6 L629.0,463.3 L630.0,464.0 L631.0,464.7 L632.0,465.4 L633.0,466.1 L634.0,466.8 L635.0,467.5 L636.0,468.2 L637.0,468.9 L638.0,469.6 L639.0,470.3 L640.0,471.0 L641.0,471.7 L642.0,472.4 L643.0,473.1 L644.0,473.8 L645.0,474.5 L646.0,475.2 L647.0,475.9 L648.0,476.5 L649.0,477.2 L650.0,477.9 L651.0,478.6 L652.0,479.3 L653.0,480.0 L654.0,480.7 L655.0,481.4 L656.0,482.1 L657.0,482.8 L658.0,483.5 L659.0,484.2 L660.0,484.9 L661.0,485.6 L662.0,486.3 L663.0,487.0 L664.0,487.7 L665.0,488.4 L666.0,489.1 L667.0,489.8 L668.0,490.5 L669.0,491.2 L670.0,491.9 L671.0,492.6 L672.0,493.3 L673.0,494.0 L674.0,494.7 L675.0,495.4 L676.0,496.1 L677.0,496.8 L678.0,497.5 L679.0,498.2 L680.0,498.9 L681.0,499.6 L682.0,500.3 L683.0,500.9 L684.0,501.6 L685.0,502.3 L686.0,503.0 L687.0,503.7 L688.0,504.4 L689.0,505.1 L690.0,505.8 L691.0,506.5 L692.1,507.2 L693.1,507.9 L694.1,508.5 L695.1,509.2 L696.1,509.9 L697.1,510.6 L698.1,511.3 L699.1,512.0 L700.1,512.7 L701.1,513.4 L702.1,514.0 L703.1,514.7 L704.1,515.4 L705.1,516.1 L706.1,516.8 L707.2,517.5 L708.2,518.2 L709.2,518.9 L710.2,519.5 L711.2,520.2 L712.2,520.9 L713.2,521.6 L714.2,522.3 L715.2,523.0 L716.2,523.6 L717.2,524.3 L718.2,525.0 L719.3,525.7 L720.3,526.4 L721.3,527.1 L722.3,527.8 L723.3,528.4 L724.3,529.1 L725.3,529.8 L726.3,530.5 L727.3,531.2 L728.3,531.9 L729.3,532.6 L730.3,533.3 L731.4,533.9 L732.4,534.6 L733.4,535.3 L734.4,536.0 L735.4,536.7 L736.4,537.4 L737.4,538.1 L738.4,538.8 L739.4,539.4 L740.4,540.1 L741.4,540.8 L742.4,541.5 L743.4,542.2 L744.4,542.9 L745.4,543.6 L746.4,544.3 L747.4,545.0 L748.4,545.7 L749.4,546.4 L750.4,547.1 L751.4,547.8 L752.4,548.5 L753.4,549.2 L754.4,549.9 L755.4,550.6 L756.4,551.3 L757.4,552.0 L758.4,552.7 L759.4,553.4 L760.4,554.1 L761.4,554.8 L762.4,555.5 L763.4,556.2 L764.4,556.9 L765.4,557.6 L766.4,558.3 L767.4,559.0 L768.4,559.7 L769.4,560.4 L770.4,561.1 L771.4,561.8 L772.4,562.5 L773.3,563.2 L774.3,563.9 L775.3,564.7 L776.3,565.4 L777.3,566.1 L778.3,566.8 L779.3,567.5 L780.3,568.2 L781.3,568.9 L782.3,569.6 L783.2,570.4 L784.2,571.1 L785.2,571.8 L786.2,572.5 L787.2,573.2 L788.2,573.9 L789.2,574.6 L790.2,575.4 L791.1,576.1 L792.1,576.8 L793.1,577.5 L794.1,578.2 L795.1,578.9 L796.1,579.7 L797.1,580.4 L798.1,581.1 L799.0,581.8 L800.0,582.5 L801.0,583.2 L802.0,584.0 L803.0,584.7 L804.0,585.4 L805.0,586.1 L805.9,586.8 L806.9,587.5 L807.9,588.3 L808.9,589.0 L809.9,589.7 L810.9,590.4 L811.9,591.1 L812.8,591.8 L813.8,592.6 L814.8,593.3 L815.8,594.0 L816.8,594.7 L817.8,595.4 L818.8,596.1 L819.7,596.9 L820.7,597.6 L821.7,598.3 L822.7,599.0 L823.7,599.7 L824.7,600.5 L825.7,601.2 L826.6,601.9 L827.6,602.6 L828.6,603.3 L829.6,604.0 L830.6,604.8 L831.6,605.5 L832.6,606.2 L833.5,606.9 L834.5,607.6 L835.5,608.4 L836.5,609.1 L837.5,609.8 L838.5,610.5 L839.4,611.3 L840.4,612.0 L841.4,612.7 L842.4,613.4 L843.4,614.1 L844.3,614.9 L845.3,615.6 L846.3,616.3 L847.3,617.0 L848.3,617.8 L849.3,618.5 L850.2,619.2 L851.2,619.9 L852.2,620.7 L853.2,621.4 L854.1,622.1 L855.1,622.8 L856.1,623.6 L857.1,624.3 L858.1,625.0 L859.0,625.8 L860.0,626.5 L861.0,627.2 L862.0,628.0 L862.9,628.7 L863.9,629.4 L864.9,630.2 L865.9,630.9 L866.8,631.6 L867.8,632.4 L868.8,633.1 L869.8,633.8 L870.7,634.6 L871.7,635.3 L872.7,636.0 L873.6,636.8 L874.6,637.5 L875.6,638.3 L876.5,639.0 L877.5,639.7 L878.5,640.5 L879.5,641.2 L880.4,642.0 L881.4,642.7 L882.4,643.4 L883.3,644.2 L884.3,644.9 L885.2,645.7 L886.2,646.4 L887.2,647.2 L888.1,647.9 L889.1,648.7 L890.1,649.4 L891.0,650.2 L892.0,650.9 L892.9,651.7 L893.9,652.4 L894.9,653.2 L895.8,653.9 L896.8,654.7 L897.7,655.4 L898.7,656.2 L899.7,656.9 L900.6,657.7 L901.6,658.5 L902.5,659.2 L903.5,660.0 L904.4,660.7 L905.4,661.5 L906.3,662.3 L907.3,663.0 L908.2,663.8 L909.2,664.5 L910.1,665.3 L911.1,666.1 L912.0,666.8 L913.0,667.6 L913.9,668.4 L914.9,669.2 L915.8,669.9 L916.8,670.7 L917.7,671.5 L918.7,672.2 L919.6,673.0 L920.5,673.8 L921.5,674.6 L922.4,675.4 L923.3,676.1 L924.3,676.9 L925.2,677.7 L926.1,678.5 L927.1,679.3 L928.0,680.1 L928.9,680.9 L929.9,681.6 L930.8,682.4 L931.7,683.2 L932.6,684.0 L933.6,684.8 L934.5,685.6 L935.4,686.4 L936.3,687.2 L937.2,688.0 L938.1,688.8 L939.1,689.7 L940.0,690.5 L940.9,691.3 L941.8,692.1 L942.7,692.9 L943.6,693.7 L944.5,694.6 L945.4,695.4 L946.3,696.2 L947.2,697.0 L948.1,697.9 L949.0,698.7 L949.9,699.5 L950.7,700.4 L951.6,701.2 L952.5,702.0 L953.4,702.9 L954.3,703.7 L955.2,704.5 L956.1,705.4 L956.9,706.2 L957.8,707.1 L958.7,707.9 L959.6,708.8 L960.4,709.6 L961.3,710.5 L962.2,711.3 L963.1,712.2 L963.9,713.0 L964.8,713.9 L965.7,714.7 L966.5,715.6 L967.4,716.4 L968.3,717.3 L969.1,718.2 L970.0,719.0 L970.9,719.9 L971.7,720.7 L972.6,721.6 L973.5,722.5 L974.3,723.3 L975.2,724.2 L976.1,725.1 L976.9,725.9 L977.8,726.8 L978.6,727.7 L979.5,728.5 L980.3,729.4 L981.2,730.3 L982.0,731.2 L982.9,732.0 L983.7,732.9 L984.6,733.8 L985.4,734.7 L986.3,735.6 L987.1,736.4 L987.9,737.3 L988.8,738.2 L989.6,739.1 L990.4,740.0 L991.2,740.9 L992.1,741.8 L992.9,742.7 L993.7,743.6 L994.5,744.5 L995.3,745.4 L996.1,746.3 L996.9,747.3" stroke="#CD853F" stroke-width="9.4"/>
<path d="M140.0,170.0 L141.1,170.4 L142.3,170.9 L143.4,171.3 L144.5,171.8 L145.7,172.2 L146.8,172.7 L147.9,173.1 L149.1,173.5 L150.2,174.0 L151.4,174.4 L152.5,174.9 L153.6,175.3 L154.8,175.7 L155.9,176.2 L157.1,176.6 L158.2,177.0 L159.3,177.4 L160.5,177.9 L161.6,178.3 L162.8,178.7 L163.9,179.2 L165.0,179.6 L166.2,180.0 L167.3,180.5 L168.5,180.9 L169.6,181.3 L170.8,181.7 L171.9,182.2 L173.0,182.6 L174.2,183.0 L175.3,183.5 L176.5,183.9 L177.6,184.3 L178.7,184.8 L179.9,185.2 L181.0,185.6 L182.2,186.1 L183.3,186.5 L184.4,186.9 L185.6,187.4 L186.7,187.8 L187.8,188.3 L189.0,188.7 L190.1,189.2 L191.3,189.6 L192.4,190.1 L193.5,190.5 L194.7,191.0 L195.8,191.4 L196.9,191.9 L198.0,192.3 L199.2,192.8 L200.3,193.2 L201.4,193.7 L202.6,194.2 L203.7,194.6 L204.8,195.1 L205.9,195.6 L207.0,196.1 L208.2,196.6 L209.3,197.0 L210.4,197.5 L211.5,198.0 L212.6,198.5 L213.8,199.0 L214.9,199.5 L216.0,200.0 L217.1,200.5 L218.2,201.0 L219.3,201.5 L220.4,202.0 L221.5,202.5 L222.6,203.1 L223.7,203.6 L224.8,204.1 L225.9,204.6 L227.0,205.2 L228.1,205.7 L229.2,206.2 L230.3,206.8 L231.4,207.3 L232.5,207.8 L233.6,208.4 L234.7,208.9 L235.8,209.5 L236.9,210.0 L238.0,210.6 L239.0,211.1 L240.1,211.7 L241.2,212.2 L242.3,212.8 L243.4,213.4 L244.5,213.9 L245.5,214.5 L246.6,215.1 L247.7,215.7 L248.8,216.2 L249.8,216.8 L250.9,217.4 L252.0,218.0 L253.1,218.5 L254.1,219.1 L255.2,219.7 L256.3,220.3 L257.3,220.9 L258.4,221.5 L259.5,222.1 L260.5,222.7 L261.6,223.3 L262.6,223.9 L263.7,224.5 L264.8,225.1 L265.8,225.7 L266.9,226.3 L267.9,226.9 L269.0,227.5 L270.1,228.1 L271.1,228.7 L272.2,229.3 L273.2,230.0 L274.3,230.6 L275.3,231.2 L276.4,231.8 L277.4,232.4 L278.5,233.1 L279.5,233.7 L280.6,234.3 L281.6,234.9 L282.7,235.6 L283.7,236.2 L284.7,236.8 L285.8,237.4 L286.8,238.1 L287.9,238.7 L288.9,239.3 L290.0,240.0 L291.0,240.6 L292.0,241.2 L293.1,241.9 L294.1,242.5 L295.2,243.2 L296.2,243.8 L297.2,244.4 L298.3,245.1 L299.3,245.7 L300.4,246.4 L301.4,247.0 L302.4,247.6 L303.5,248.3 L304.5,248.9 L305.5,249.6 L306.6,250.2 L307.6,250.9 L308.6,251.5 L309.7,252.2 L310.7,252.8 L311.7,253.4 L312.8,254.1 L313.8,254.7 L314.8,255.4 L315.9,256.0 L316.9,256.7 L317.9,257.3 L319.0,258.0 L320.0,258.6 L321.0,259.3 L322.1,259.9 L323.1,260.6 L324.1,261.2 L325.2,261.9 L326.2,262.5 L327.2,263.2 L328.2,263.8 L329.3,264.5 L330.3,265.2 L331.3,265.8 L332.4,266.5 L333.4,267.1 L334.4,267.8 L335.4,268.4 L336.5,269.1 L337.5,269.7 L338.5,270.4 L339.6,271.0 L340.6,271.7 L341.6,272.4 L342.6,273.0 L343.7,273.7 L344.7,274.3 L345.7,275.0 L346.7,275.6 L347.8,276.3 L348.8,277.0 L349.8,277.6 L350.9,278.3 L351.9,278.9 L352.9,279.6 L353.9,280.3 L355.0,280.9 L356.0,281.6 L357.0,282.2 L358.0,282.9 L359.1,283.6 L360.1,284.2 L361.1,284.9 L362.1,285.5 L363.1,286.2 L364.2,286.9 L365.2,287.5 L366.2,288.2 L367.2,288.9 L368.3,289.5 L369.3,290.2 L370.3,290.8 L371.3,291.5 L372.4,292.2 L373.4,292.8 L374.4,293.5 L375.4,294.2 L376.4,294.8 L377.5,295.5 L378.5,296.2 L379.5,296.8 L380.5,297.5 L381.6,298.2 L382.6,298.8 L383.6,299.5 L384.6,300.2 L385.6,300.8 L386.7,301.5 L387.7,302.2 L388.7,302.8 L389.7,303.5 L390.7,304.2 L391.8,304.8 L392.8,305.5 L393.8,306.2 L394.8,306.8 L395.8,307.5 L396.9,308.2 L397.9,308.8 L398.9,309.5 L399.9,310.2 L400.9,310.8 L402.0,311.5 L403.0,312.2 L404.0,312.9 L405.0,313.5 L406.0,314.2 L407.1,314.9 L408.1,315.5 L409.1,316.2 L410.1,316.9 L411.1,317.5 L412.1,318.2 L413.2,318.9 L414.2,319.6 L415.2,320.2 L416.2,320.9 L417.2,321.6 L418.2,322.3 L419.3,322.9 L420.3,323.6 L421.3,324.3 L422.3,324.9 L423.3,325.6 L424.3,326.3 L425.4,327.0 L426.4,327.6 L427.4,328.3 L428.4,329.0 L429.4,329.7 L430.4,330.3 L431.4,331.0 L432.5,331.7 L433.5,332.4 L434.5,333.1 L435.5,333.7 L436.5,334.4 L437.5,335.1 L438.5,335.8 L439.6,336.4 L440.6,337.1 L441.6,337.8 L442.6,338.5 L443.6,339.2 L444.6,339.8 L445.6,340.5 L446.6,341.2 L447.7,341.9 L448.7,342.6 L449.7,343.2 L450.7,343.9 L451.7,344.6 L452.7,345.3 L453.7,346.0 L454.7,346.6 L455.7,347.3 L456.8,348.0 L457.8,348.7 L458.8,349.4 L459.8,350.1 L460.8,350.8 L461.8,351.4 L462.8,352.1 L463.8,352.8 L464.8,353.5 L465.8,354.2 L466.8,354.9 L467.8,355.6 L468.9,356.2 L469.9,356.9 L470.9,357.6 L471.9,358.3 L472.9,359.0 L473.9,359.7 L474.9,360.4 L475.9,361.1 L476.9,361.7 L477.9,362.4 L478.9,363.1 L479.9,363.8 L480.9,364.5 L481.9,365.2 L482.9,365.9 L484.0,366.6 L485.0,367.2 L486.0,367.9 L487.0,368.6 L488.0,369.3 L489.0,370.0 L490.0,370.7 L491.0,371.4 L492.0,372.1 L493.0,372.8 L494.0,373.4 L495.0,374.1 L496.0,374.8 L497.0,375.5 L498.0,376.2 L499.1,376.9 L500.1,377.6 L501.1,378.3 L502.1,378.9 L503.1,379.6 L504.1,380.3 L505.1,381.0 L506.1,381.7 L507.1,382.4 L508.1,383.1 L509.1,383.7 L510.1,384.4 L511.2,385.1 L512.2,385.8 L513.2,386.5 L514.2,387.2 L515.2,387.8 L516.2,388.5 L517.2,389.2 L518.2,389.9 L519.2,390.6 L520.2,391.2 L521.3,391.9 L522.3,392.6 L523.3,393.3 L524.3,394.0 L525.3,394.6 L526.3,395.3 L527.3,396.0 L528.3,396.7 L529.4,397.4 L530.4,398.0 L531.4,398.7 L532.4,399.4 L533.4,400.1 L534.4,400.7 L535.5,401.4 L536.5,402.1 L537.5,402.7 L538.5,403.4 L539.5,404.1 L540.5,404.8 L541.6,405.4 L542.6,406.1 L543.6,406.8 L544.6,407.4 L545.6,408.1 L546.7,408.8 L547.7,409.4 L548.7,410.1 L549.7,410.8 L550.7,411.4 L551.8,412.1 L552.8,412.8 L553.8,413.4 L554.8,414.1 L555.8,414.8 L556.9,415.4 L557.9,416.1 L558.9,416.8 L559.9,417.4 L561.0,418.1 L562.0,418.8 L563.0,419.4 L564.0,420.1 L565.0,420.8 L566.1,421.4 L567.1,422.1 L568.1,422.8 L569.1,423.4 L570.2,424.1 L571.2,424.8 L572.2,425.4 L573.2,426.1 L574.2,426.8 L575.3,427.4 L576.3,428.1 L577.3,428.8 L578.3,429.4 L579.3,430.1 L580.4,430.8 L581.4,431.4 L582.4,432.1 L583.4,432.8 L584.4,433.4 L585.5,434.1 L586.5,434.8 L587.5,435.4 L588.5,436.1 L589.5,436.8 L590.6,437.4 L591.6,438.1 L592.6,438.8 L593.6,439.4 L594.6,440.1 L595.6,440.8 L596.7,441.5 L597.7,442.1 L598.7,442.8 L599.7,443.5 L600.7,444.2 L601.7,444.8 L602.8,445.5 L603.8,446.2 L604.8,446.9 L605.8,447.6 L606.8,448.2 L607.8,448.9 L608.8,449.6 L609.8,450.3 L610.9,451.0 L611.9,451.6 L612.9,452.3 L613.9,453.0 L614.9,453.7 L615.9,454.4 L616.9,455.1 L617.9,455.7 L618.9,456.4 L619.9,457.1 L620.9,457.8 L621.9,458.5 L622.9,459.2 L623.9,459.9 L625.0,460.6 L626.0,461.3 L627.0,462.0 L628.0,462.6 L629.0,463.3 L630.0,464.0 L631.0,464.7 L632.0,465.4 L633.0,466.1 L634.0,466.8 L635.0,467.5 L636.0,468.2 L637.0,468.9 L638.0,469.6 L639.0,470.3 L640.0,471.0 L641.0,471.7 L642.0,472.4 L643.0,473.1 L644.0,473.8 L645.0,474.5 L646.0,475.2 L647.0,475.9 L648.0,476.5 L649.0,477.2 L650.0,477.9 L651.0,478.6 L652.0,479.3 L653.0,480.0 L654.0,480.7 L655.0,481.4 L656.0,482.1 L657.0,482.8 L658.0,483.5 L659.0,484.2 L660.0,484.9 L661.0,485.6 L662.0,486.3 L663.0,487.0 L664.0,487.7 L665.0,488.4 L666.0,489.1 L667.0,489.8 L668.0,490.5 L669.0,491.2 L670.0,491.9 L671.0,492.6 L672.0,493.3 L673.0,494.0 L674.0,494.7 L675.0,495.4 L676.0,496.1 L677.0,496.8 L678.0,497.5 L679.0,498.2 L680.0,498.9 L681.0,499.6 L682.0,500.3 L683.0,500.9 L684.0,501.6 L685.0,502.3 L686.0,503.0 L687.0,503.7 L688.0,504.4 L689.0,505.1 L690.0,505.8 L691.0,506.5 L692.1,507.2 L693.1,507.9 L694.1,508.5 L695.1,509.2 L696.1,509.9 L697.1,510.6 L698.1,511.3 L699.1,512.0 L700.1,512.7 L701.1,513.4 L702.1,514.0 L703.1,514.7 L704.1,515.4 L705.1,516.1 L706.1,516.8 L707.2,517.5 L708.2,518.2 L709.2,518.9 L710.2,519.5 L711.2,520.2 L712.2,520.9 L713.2,521.6 L714.2,522.3 L715.2,523.0 L716.2,523.6 L717.2,524.3 L718.2,525.0 L719.3,525.7 L720.3,526.4 L721.3,527.1 L722.3,527.8 L723.3,528.4 L724.3,529.1 L725.3,529.8 L726.3,530.5 L727.3,531.2 L728.3,531.9 L729.3,532.6 L730.3,533.3 L731.4,533.9 L732.4,534.6 L733.4,535.3 L734.4,536.0 L735.4,536.7 L736.4,537.4 L737.4,538.1 L738.4,538.8 L739.4,539.4 L740.4,540.1 L741.4,540.8 L742.4,541.5 L743.4,542.2 L744.4,542.9 L745.4,543.6 L746.4,544.3 L747.4,545.0 L748.4,545.7 L749.4,546.4 L750.4,547.1 L751.4,547.8 L752.4,548.5 L753.4,549.2 L754.4,549.9 L755.4,550.6 L756.4,551.3 L757.4,552.0 L758.4,552.7 L759.4,553.4 L760.4,554.1 L761.4,554.8 L762.4,555.5 L763.4,556.2 L764.4,556.9 L765.4,557.6 L766.4,558.3 L767.4,559.0 L768.4,559.7 L769.4,560.4 L770.4,561.1 L771.4,561.8 L772.4,562.5 L773.3,563.2 L774.3,563.9 L775.3,564.7 L776.3,565.4 L777.3,566.1 L778.3,566.8 L779.3,567.5 L780.3,568.2 L781.3,568.9 L782.3,569.6 L783.2,570.4 L784.2,571.1 L785.2,571.8 L786.2,572.5 L787.2,573.2 L788.2,573.9 L789.2,574.6 L790.2,575.4 L791.1,576.1 L792.1,576.8 L793.1,577.5 L794.1,578.2 L795.1,578.9 L796.1,579.7 L797.1,580.4 L798.1,581.1 L799.0,581.8 L800.0,582.5 L801.0,583.2 L802.0,584.0 L803.0,584.7 L804.0,585.4 L805.0,586.1 L805.9,586.8 L806.9,587.5 L807.9,588.3 L808.9,589.0 L809.9,589.7 L810.9,590.4 L811.9,591.1 L812.8,591.8 L813.8,592.6 L814.8,593.3 L815.8,594.0 L816.8,594.7 L817.8,595.4 L818.8,596.1 L819.7,596.9 L820.7,597.6 L821.7,598.3 L822.7,599.0 L823.7,599.7 L824.7,600.5 L825.7,601.2 L826.6,601.9 L827.6,602.6 L828.6,603.3 L829.6,604.0 L830.6,604.8 L831.6,605.5 L832.6,606.2 L833.5,606.9 L834.5,607.6 L835.5,608.4 L836.5,609.1 L837.5,609.8 L838.5,610.5 L839.4,611.3 L840.4,612.0 L841.4,612.7 L842.4,613.4 L843.4,614.1 L844.3,614.9 L845.3,615.6 L846.3,616.3 L847.3,617.0 L848.3,617.8 L849.3,618.5 L850.2,619.2 L851.2,619.9 L852.2,620.7 L853.2,621.4 L854.1,622.1 L855.1,622.8 L856.1,623.6 L857.1,624.3 L858.1,625.0 L859.0,625.8 L860.0,626.5 L861.0,627.2 L862.0,628.0 L862.9,628.7 L863.9,629.4 L864.9,630.2 L865.9,630.9 L866.8,631.6 L867.8,632.4 L868.8,633.1 L869.8,633.8 L870.7,634.6 L871.7,635.3 L872.7,636.0 L873.6,636.8 L874.6,637.5 L875.6,638.3 L876.5,639.0 L877.5,639.7 L878.5,640.5 L879.5,641.2 L880.4,642.0 L881.4,642.7 L882.4,643.4 L883.3,644.2 L884.3,644.9 L885.2,645.7 L886.2,646.4 L887.2,647.2 L888.1,647.9 L889.1,648.7 L890.1,649.4 L891.0,650.2 L892.0,650.9 L892.9,651.7 L893.9,652.4 L894.9,653.2 L895.8,653.9 L896.8,654.7 L897.7,655.4 L898.7,656.2 L899.7,656.9 L900.6,657.7 L901.6,658.5 L902.5,659.2 L903.5,660.0 L904.4,660.7 L905.4,661.5 L906.3,662.3 L907.3,663.0 L908.2,663.8 L909.2,664.5 L910.1,665.3 L911.1,666.1 L912.0,666.8 L913.0,667.6 L913.9,668.4 L914.9,669.2 L915.8,669.9 L916.8,670.7 L917.7,671.5 L918.7,672.2 L919.6,673.0 L920.5,673.8 L921.5,674.6 L922.4,675.4 L923.3,676.1 L924.3,676.9 L925.2,677.7 L926.1,678.5 L927.1,679.3 L928.0,680.1 L928.9,680.9 L929.9,681.6 L930.8,682.4 L931.7,683.2 L932.6,684.0 L933.6,684.8 L934.5,685.6 L935.4,686.4 L936.3,687.2 L937.2,688.0 L938.1,688.8 L939.1,689.7 L940.0,690.5 L940.9,691.3 L941.8,692.1 L942.7,692.9 L943.6,693.7 L944.5,694.6 L945.4,695.4 L946.3,696.2 L947.2,697.0 L948.1,697.9 L949.0,698.7 L949.9,699.5 L950.7,700.4 L951.6,701.2 L952.5,702.0 L953.4,702.9 L954.3,703.7 L955.2,704.5 L956.1,705.4 L956.9,706.2 L957.8,707.1 L958.7,707.9 L959.6,708.8 L960.4,709.6 L961.3,710.5 L962.2,711.3 L963.1,712.2 L963.9,713.0 L964.8,713.9 L965.7,714.7 L966.5,715.6 L967.4,716.4 L968.3,717.3 L969.1,718.2 L970.0,719.0 L970.9,719.9 L971.7,720.7 L972.6,721.6" stroke="#228B22" stroke-width="9.4"/>
<path d="M140.0,170.0 L141.1,170.4 L142.2,170.9 L143.3,171.3 L144.4,171.7 L145.5,172.1 L146.6,172.6 L147.6,173.0 L148.7,173.4 L149.8,173.8 L150.9,174.3 L152.0,174.7 L153.1,175.1 L154.2,175.5 L155.3,175.9 L156.4,176.3 L157.5,176.8 L158.6,177.2 L159.7,177.6 L160.8,178.0 L161.9,178.4 L163.0,178.8 L164.1,179.2 L165.2,179.7 L166.3,180.1 L167.4,180.5 L168.5,180.9 L169.6,181.3 L170.7,181.7 L171.8,182.1 L172.9,182.5 L174.0,183.0 L175.1,183.4 L176.2,183.8 L177.3,184.2 L178.4,184.6 L179.5,185.0 L180.6,185.5 L181.7,185.9 L182.8,186.3 L183.9,186.7 L185.0,187.1 L186.0,187.6 L187.1,188.0 L188.2,188.4 L189.3,188.8 L190.4,189.3 L191.5,189.7 L192.6,190.1 L193.7,190.6 L194.8,191.0 L195.9,191.4 L197.0,191.9 L198.0,192.3 L199.1,192.8 L200.2,193.2 L201.3,193.7 L202.4,194.1 L203.5,194.6 L204.5,195.0 L205.6,195.5 L206.7,195.9 L207.8,196.4 L208.9,196.9 L209.9,197.3 L211.0,197.8 L212.1,198.3 L213.2,198.7 L214.2,199.2 L215.3,199.7 L216.4,200.2 L217.4,200.7 L218.5,201.1 L219.6,201.6 L220.6,202.1 L221.7,202.6 L222.8,203.1 L223.8,203.6 L224.9,204.1 L225.9,204.6 L227.0,205.1 L228.1,205.7 L229.1,206.2 L230.2,206.7 L231.2,207.2 L232.3,207.7 L233.3,208.2 L234.4,208.8 L235.4,209.3 L236.5,209.8 L237.5,210.4 L238.6,210.9 L239.6,211.4 L240.7,212.0 L241.7,212.5 L242.7,213.0 L243.8,213.6 L244.8,214.1 L245.9,214.7 L246.9,215.2 L247.9,215.8 L249.0,216.3 L250.0,216.9 L251.0,217.4 L252.1,218.0 L253.1,218.6 L254.1,219.1 L255.1,219.7 L256.2,220.3 L257.2,220.8 L258.2,221.4 L259.3,222.0 L260.3,222.5 L261.3,223.1 L262.3,223.7 L263.3,224.3 L264.4,224.9 L265.4,225.4 L266.4,226.0 L267.4,226.6 L268.4,227.2 L269.5,227.8 L270.5,228.4 L271.5,229.0 L272.5,229.5 L273.5,230.1 L274.5,230.7 L275.5,231.3 L276.5,231.9 L277.5,232.5 L278.6,233.1 L279.6,233.7 L280.6,234.3 L281.6,234.9 L282.6,235.5 L283.6,236.1 L284.6,236.7 L285.6,237.3 L286.6,238.0 L287.6,238.6 L288.6,239.2 L289.6,239.8 L290.6,240.4 L291.6,241.0 L292.6,241.6 L293.6,242.2 L294.6,242.8 L295.6,243.5 L296.6,244.1 L297.6,244.7 L298.6,245.3 L299.6,245.9 L300.6,246.5 L301.6,247.1 L302.6,247.8 L303.6,248.4 L304.6,249.0 L305.6,249.6 L306.6,250.2 L307.6,250.9 L308.6,251.5 L309.6,252.1 L310.6,252.7 L311.6,253.3 L312.6,254.0 L313.6,254.6 L314.6,255.2 L315.6,255.8 L316.6,256.5 L317.5,257.1 L318.5,257.7 L319.5,258.3 L320.5,258.9 L321.5,259.6 L322.5,260.2 L323.5,260.8 L324.5,261.4 L325.5,262.1 L326.5,262.7 L327.5,263.3 L328.5,264.0 L329.5,264.6 L330.5,265.2 L331.4,265.8 L332.4,266.5 L333.4,267.1 L334.4,267.7 L335.4,268.3 L336.4,269.0 L337.4,269.6 L338.4,270.2 L339.4,270.9 L340.4,271.5 L341.3,272.1 L342.3,272.8 L343.3,273.4 L344.3,274.0 L345.3,274.7 L346.3,275.3 L347.3,275.9 L348.3,276.6 L349.3,277.2 L350.2,277.8 L351.2,278.5 L352.2,279.1 L353.2,279.7 L354.2,280.4 L355.2,281.0 L356.2,281.6 L357.1,282.3 L358.1,282.9 L359.1,283.5 L360.1,284.2 L361.1,284.8 L362.1,285.4 L363.1,286.1 L364.0,286.7 L365.0,287.4 L366.0,288.0 L367.0,288.6 L368.0,289.3 L369.0,289.9 L369.9,290.6 L370.9,291.2 L371.9,291.8 L372.9,292.5 L373.9,293.1 L374.9,293.8 L375.8,294.4 L376.8,295.0 L377.8,295.7 L378.8,296.3 L379.8,297.0 L380.7,297.6 L381.7,298.3 L382.7,298.9 L383.7,299.6 L384.7,300.2 L385.6,300.8 L386.6,301.5 L387.6,302.1 L388.6,302.8 L389.6,303.4 L390.5,304.1 L391.5,304.7 L392.5,305.4 L393.5,306.0 L394.5,306.7 L395.4,307.3 L396.4,308.0 L397.4,308.6 L398.4,309.3 L399.3,309.9 L400.3,310.6 L401.3,311.2 L402.3,311.9 L403.2,312.5 L404.2,313.2 L405.2,313.8 L406.2,314.5 L407.1,315.1 L408.1,315.8 L409.1,316.4 L410.1,317.1 L411.0,317.8 L412.0,318.4 L413.0,319.1 L414.0,319.7 L414.9,320.4 L415.9,321.0 L416.9,321.7 L417.8,322.3 L418.8,323.0 L419.8,323.7 L420.8,324.3 L421.7,325.0 L422.7,325.6 L423.7,326.3 L424.6,326.9 L425.6,327.6 L426.6,328.3 L427.6,328.9 L428.5,329.6 L429.5,330.2 L430.5,330.9 L431.4,331.6 L432.4,332.2 L433.4,332.9 L434.3,333.6 L435.3,334.2 L436.3,334.9 L437.2,335.5 L438.2,336.2 L439.2,336.9 L440.1,337.5 L441.1,338.2 L442.1,338.9 L443.1,339.5 L444.0,340.2 L445.0,340.9 L445.9,341.5 L446.9,342.2 L447.9,342.9 L448.8,343.5 L449.8,344.2 L450.8,344.9 L451.7,345.5 L452.7,346.2 L453.7,346.9 L454.6,347.5 L455.6,348.2 L456.6,348.9 L457.5,349.5 L458.5,350.2 L459.5,350.9 L460.4,351.5 L461.4,352.2 L462.3,352.9 L463.3,353.6 L464.3,354.2 L465.2,354.9 L466.2,355.6 L467.2,356.2 L468.1,356.9 L469.1,357.6 L470.0,358.3 L471.0,358.9 L472.0,359.6 L472.9,360.3 L473.9,361.0 L474.8,361.6 L475.8,362.3 L476.8,363.0 L477.7,363.6 L478.7,364.3 L479.6,365.0 L480.6,365.7 L481.6,366.3 L482.5,367.0 L483.5,367.7 L484.4,368.4 L485.4,369.0 L486.4,369.7 L487.3,370.4 L488.3,371.1 L489.2,371.8 L490.2,372.4 L491.1,373.1 L492.1,373.8 L493.1,374.5 L494.0,375.1 L495.0,375.8 L495.9,376.5 L496.9,377.2 L497.9,377.8 L498.8,378.5 L499.8,379.2 L500.7,379.9 L501.7,380.6 L502.6,381.2 L503.6,381.9 L504.6,382.6 L505.5,383.3 L506.5,383.9 L507.4,384.6 L508.4,385.3 L509.3,386.0 L510.3,386.7 L511.3,387.3 L512.2,388.0 L513.2,388.7 L514.1,389.4 L515.1,390.0 L516.0,390.7 L517.0,391.4 L518.0,392.1 L518.9,392.8 L519.9,393.4 L520.8,394.1 L521.8,394.8 L522.8,395.5 L523.7,396.1 L524.7,396.8 L525.6,397.5 L526.6,398.2 L527.5,398.9 L528.5,399.5 L529.5,400.2 L530.4,400.9 L531.4,401.6 L532.3,402.2 L533.3,402.9 L534.3,403.6 L535.2,404.3 L536.2,404.9 L537.1,405.6 L538.1,406.3 L539.0,407.0 L540.0,407.6 L541.0,408.3 L541.9,409.0 L542.9,409.7 L543.8,410.3 L544.8,411.0 L545.8,411.7 L546.7,412.4 L547.7,413.1 L548.6,413.7 L549.6,414.4 L550.6,415.1 L551.5,415.8 L552.5,416.4 L553.4,417.1 L554.4,417.8 L555.3,418.5 L556.3,419.1 L557.3,419.8 L558.2,420.5 L559.2,421.2 L560.1,421.8 L561.1,422.5 L562.1,423.2 L563.0,423.9 L564.0,424.5 L564.9,425.2 L565.9,425.9 L566.8,426.6 L567.8,427.3 L568.8,427.9 L569.7,428.6 L570.7,429.3 L571.6,430.0 L572.6,430.7 L573.6,431.3 L574.5,432.0 L575.5,432.7 L576.4,433.4 L577.4,434.0 L578.3,434.7 L579.3,435.4 L580.2,436.1 L581.2,436.8 L582.2,437.5 L583.1,438.1 L584.1,438.8 L585.0,439.5 L586.0,440.2 L586.9,440.9 L587.9,441.5 L588.8,442.2 L589.8,442.9 L590.7,443.6 L591.7,444.3 L592.6,445.0 L593.6,445.7 L594.5,446.3 L595.5,447.0 L596.5,447.7 L597.4,448.4 L598.4,449.1 L599.3,449.8 L600.3,450.5 L601.2,451.1 L602.2,451.8 L603.1,452.5 L604.1,453.2 L605.0,453.9 L605.9,454.6 L606.9,455.3 L607.8,456.0 L608.8,456.7 L609.7,457.4 L610.7,458.1 L611.6,458.8 L612.6,459.4 L613.5,460.1 L614.5,460.8 L615.4,461.5 L616.4,462.2 L617.3,462.9 L618.2,463.6 L619.2,464.3 L620.1,465.0 L621.1,465.7 L622.0,466.4 L623.0,467.1 L623.9,467.8 L624.8,468.5 L625.8,469.2 L626.7,469.9 L627.7,470.6 L628.6,471.3 L629.6,472.0 L630.5,472.7 L631.4,473.4 L632.4,474.1 L633.3,474.8 L634.3,475.5 L635.2,476.2 L636.1,476.9 L637.1,477.6 L638.0,478.3 L639.0,479.0 L639.9,479.7 L640.8,480.4 L641.8,481.1 L642.7,481.8 L643.7,482.5 L644.6,483.2 L645.5,483.9 L646.5,484.6 L647.4,485.3 L648.4,486.0 L649.3,486.7 L650.2,487.5 L651.2,488.2 L652.1,488.9 L653.1,489.6 L654.0,490.3 L654.9,491.0 L655.9,491.7 L656.8,492.4 L657.7,493.1 L658.7,493.8 L659.6,494.5 L660.6,495.2 L661.5,495.9 L662.4,496.6 L663.4,497.3 L664.3,498.0 L665.3,498.7 L666.2,499.4 L667.2,500.1 L668.1,500.8 L669.0,501.5 L670.0,502.2 L670.9,502.9 L671.9,503.6 L672.8,504.3 L673.7,505.0 L674.7,505.7 L675.6,506.4 L676.6,507.1 L677.5,507.8 L678.5,508.5 L679.4,509.2 L680.3,509.9 L681.3,510.6 L682.2,511.3 L683.2,512.0 L684.1,512.7 L685.1,513.3 L686.0,514.0 L687.0,514.7 L687.9,515.4 L688.9,516.1 L689.8,516.8 L690.7,517.5 L691.7,518.2 L692.6,518.9 L693.6,519.6 L694.5,520.3 L695.5,521.0 L696.4,521.7 L697.4,522.3 L698.3,523.0 L699.3,523.7 L700.2,524.4 L701.2,525.1 L702.1,525.8 L703.1,526.5 L704.0,527.2 L705.0,527.8 L705.9,528.5 L706.9,529.2 L707.8,529.9 L708.8,530.6 L709.7,531.3 L710.7,532.0 L711.6,532.7 L712.6,533.3 L713.6,534.0 L714.5,534.7 L715.5,535.4 L716.4,536.1 L717.4,536.8 L718.3,537.5 L719.3,538.1 L720.2,538.8 L721.2,539.5 L722.1,540.2 L723.1,540.9 L724.0,541.6 L725.0,542.3 L725.9,542.9 L726.9,543.6 L727.8,544.3 L728.8,545.0 L729.7,545.7 L730.7,546.4 L731.6,547.1 L732.6,547.8 L733.5,548.4 L734.5,549.1 L735.4,549.8 L736.4,550.5 L737.3,551.2 L738.3,551.9 L739.2,552.6 L740.2,553.3 L741.1,554.0 L742.1,554.7 L743.0,555.3 L744.0,556.0 L744.9,556.7 L745.9,557.4 L746.8,558.1 L747.7,558.8 L748.7,559.5 L749.6,560.2 L750.6,560.9 L751.5,561.6 L752.5,562.3 L753.4,563.0 L754.4,563.7 L755.3,564.4 L756.2,565.1 L757.2,565.8 L758.1,566.5 L759.1,567.2 L760.0,567.9 L760.9,568.6 L761.9,569.3 L762.8,570.0 L763.8,570.7 L764.7,571.4 L765.6,572.1 L766.6,572.8 L767.5,573.5 L768.4,574.2 L769.4,574.9 L770.3,575.7 L771.2,576.4 L772.2,577.1 L773.1,577.8 L774.1,578.5 L775.0,579.2 L775.9,579.9 L776.9,580.6 L777.8,581.3 L778.7,582.0 L779.6,582.8 L780.6,583.5 L781.5,584.2 L782.4,584.9 L783.4,585.6 L784.3,586.3 L785.2,587.0 L786.2,587.8 L787.1,588.5 L788.0,589.2 L788.9,589.9 L789.9,590.6 L790.8,591.3 L791.7,592.1 L792.7,592.8 L793.6,593.5 L794.5,594.2 L795.4,594.9 L796.4,595.7 L797.3,596.4 L798.2,597.1 L799.2,597.8 L800.1,598.5 L801.0,599.3 L801.9,600.0 L802.9,600.7 L803.8,601.4 L804.7,602.1 L805.6,602.9 L806.6,603.6 L807.5,604.3 L808.4,605.0 L809.3,605.7 L810.3,606.5 L811.2,607.2 L812.1,607.9 L813.0,608.6 L814.0,609.3 L814.9,610.1 L815.8,610.8 L816.7,611.5 L817.7,612.2 L818.6,613.0 L819.5,613.7 L820.4,614.4 L821.4,615.1 L822.3,615.8 L823.2,616.6 L824.1,617.3 L825.1,618.0 L826.0,618.7 L826.9,619.5 L827.8,620.2 L828.7,620.9 L829.7,621.6 L830.6,622.4 L831.5,623.1 L832.4,623.8 L833.4,624.5 L834.3,625.3 L835.2,626.0 L836.1,626.7 L837.1,627.4 L838.0,628.1 L838.9,628.9 L839.8,629.6 L840.7,630.3 L841.7,631.0 L842.6,631.8 L843.5,632.5 L844.4,633.2 L845.4,633.9 L846.3,634.7 L847.2,635.4 L848.1,636.1 L849.1,636.9 L850.0,637.6 L850.9,638.3 L851.8,639.0 L852.7,639.8 L853.7,640.5 L854.6,641.2 L855.5,641.9 L856.4,642.7 L857.3,643.4 L858.3,644.1 L859.2,644.9 L860.1,645.6 L861.0,646.3 L861.9,647.0 L862.9,647.8 L863.8,648.5 L864.7,649.2 L865.6,650.0 L866.5,650.7 L867.4,651.4 L868.4,652.2 L869.3,652.9 L870.2,653.6 L871.1,654.4 L872.0,655.1 L872.9,655.9 L873.8,656.6 L874.8,657.3 L875.7,658.1 L876.6,658.8 L877.5,659.6 L878.4,660.3 L879.3,661.0 L880.2,661.8 L881.1,662.5 L882.0,663.3 L882.9,664.0 L883.8,664.8 L884.7,665.5 L885.6,666.3 L886.5,667.0 L887.4,667.8 L888.3,668.5 L889.2,669.3 L890.1,670.1 L891.0,670.8 L891.9,671.6 L892.8,672.3 L893.7,673.1 L894.6,673.9 L895.5,674.6 L896.4,675.4 L897.2,676.2 L898.1,676.9 L899.0,677.7 L899.9,678.5 L900.8,679.3 L901.7,680.0 L902.5,680.8 L903.4,681.6 L904.3,682.4 L905.2,683.1 L906.0,683.9 L906.9,684.7 L907.8,685.5 L908.6,686.3 L909.5,687.1 L910.4,687.9 L911.2,688.7 L912.1,689.4 L913.0,690.2 L913.8,691.0 L914.7,691.8 L915.6,692.6 L916.4,693.4 L917.3,694.2 L918.1,695.0 L919.0,695.8 L919.8,696.6 L920.7,697.4 L921.6,698.2 L922.4,699.0 L923.3,699.8 L924.1,700.7 L925.0,701.5 L925.8,702.3 L926.7,703.1 L927.5,703.9 L928.4,704.7 L929.2,705.5 L930.1,706.3 L931.0,707.1 L931.8,707.9 L932.7,708.7 L933.5,709.5 L934.4,710.3 L935.2,711.1 L936.1,711.9 L936.9,712.7 L937.8,713.5 L938.7,714.3 L939.5,715.1 L940.4,715.9 L941.2,716.7 L942.1,717.5 L942.9,718.3 L943.8,719.1 L944.6,719.9 L945.5,720.7 L946.3,721.6 L947.2,722.4 L948.0,723.2 L948.9,724.0 L949.7,724.8 L950.5,725.7 L951.4,726.5 L952.2,727.3 L953.0,728.1 L953.8,729.0 L954.7,729.8 L955.5,730.7 L956.3,731.5 L957.1,732.3 L957.9,733.2 L958.8,734.0 L959.6,734.9 L960.4,735.7 L961.2,736.6 L962.0,737.4 L962.8,738.3 L963.6,739.1 L964.4,740.0 L965.2,740.8 L966.0,741.7 L966.8,742.5 L967.6,743.4 L968.4,744.3 L969.2,745.1 L970.0,746.0 L970.8,746.8 L971.6,747.7 L972.4,748.6 L973.2,749.4 L974.0,750.3 L974.8,751.2 L975.6,752.0 L976.4,752.9 L977.1,753.8 L977.9,754.7 L978.7,755.5 L979.5,756.4 L980.2,757.3 L981.0,758.2 L981.8,759.1 L982.5,760.0 L983.3,760.9 L984.0,761.8 L984.8,762.7 L985.5,763.6 L986.3,764.5 L987.0,765.4 L987.7,766.3 L988.4,767.3 L989.1,768.2 L989.9,769.1 L990.6,770.1 L991.3,771.0 L991.9,772.0 L992.6,772.9 L993.3,773.9 L994.0,774.8 L994.6,775.8 L995.3,776.8" stroke="#FF0000" stroke-width="9.4" stroke-dasharray="34.8 15.0" stroke-dashoffset="15.40"/>
<path d="M140.0,170.0 L141.1,170.4 L142.2,170.9 L143.3,171.3 L144.4,171.7 L145.5,172.1 L146.6,172.6 L147.6,173.0 L148.7,173.4 L149.8,173.8 L150.9,174.3 L152.0,174.7 L153.1,175.1 L154.2,175.5 L155.3,175.9 L156.4,176.3 L157.5,176.8 L158.6,177.2 L159.7,177.6 L160.8,178.0 L161.9,178.4 L163.0,178.8 L164.1,179.2 L165.2,179.7 L166.3,180.1 L167.4,180.5 L168.5,180.9 L169.6,181.3 L170.7,181.7 L171.8,182.1 L172.9,182.5 L174.0,183.0 L175.1,183.4 L176.2,183.8 L177.3,184.2 L178.4,184.6 L179.5,185.0 L180.6,185.5 L181.7,185.9 L182.8,186.3 L183.9,186.7 L185.0,187.1 L186.0,187.6 L187.1,188.0 L188.2,188.4 L189.3,188.8 L190.4,189.3 L191.5,189.7 L192.6,190.1 L193.7,190.6 L194.8,191.0 L195.9,191.4 L197.0,191.9 L198.0,192.3 L199.1,192.8 L200.2,193.2 L201.3,193.7 L202.4,194.1 L203.5,194.6 L204.5,195.0 L205.6,195.5 L206.7,195.9 L207.8,196.4 L208.9,196.9 L209.9,197.3 L211.0,197.8 L212.1,198.3 L213.2,198.7 L214.2,199.2 L215.3,199.7 L216.4,200.2 L217.4,200.7 L218.5,201.1 L219.6,201.6 L220.6,202.1 L221.7,202.6 L222.8,203.1 L223.8,203.6 L224.9,204.1 L225.9,204.6 L227.0,205.1 L228.1,205.7 L229.1,206.2 L230.2,206.7 L231.2,207.2 L232.3,207.7 L233.3,208.2 L234.4,208.8 L235.4,209.3 L236.5,209.8 L237.5,210.4 L238.6,210.9 L239.6,211.4 L240.7,212.0 L241.7,212.5 L242.7,213.0 L243.8,213.6 L244.8,214.1 L245.9,214.7 L246.9,215.2 L247.9,215.8 L249.0,216.3 L250.0,216.9 L251.0,217.4 L252.1,218.0 L253.1,218.6 L254.1,219.1 L255.1,219.7 L256.2,220.3 L257.2,220.8 L258.2,221.4 L259.3,222.0 L260.3,222.5 L261.3,223.1 L262.3,223.7 L263.3,224.3 L264.4,224.9 L265.4,225.4 L266.4,226.0 L267.4,226.6 L268.4,227.2 L269.5,227.8 L270.5,228.4 L271.5,229.0 L272.5,229.5 L273.5,230.1 L274.5,230.7 L275.5,231.3 L276.5,231.9 L277.5,232.5 L278.6,233.1 L279.6,233.7 L280.6,234.3 L281.6,234.9 L282.6,235.5 L283.6,236.1 L284.6,236.7 L285.6,237.3 L286.6,238.0 L287.6,238.6 L288.6,239.2 L289.6,239.8 L290.6,240.4 L291.6,241.0 L292.6,241.6 L293.6,242.2 L294.6,242.8 L295.6,243.5 L296.6,244.1 L297.6,244.7 L298.6,245.3 L299.6,245.9 L300.6,246.5 L301.6,247.1 L302.6,247.8 L303.6,248.4 L304.6,249.0 L305.6,249.6 L306.6,250.2 L307.6,250.9 L308.6,251.5 L309.6,252.1 L310.6,252.7 L311.6,253.3 L312.6,254.0 L313.6,254.6 L314.6,255.2 L315.6,255.8 L316.6,256.5 L317.5,257.1 L318.5,257.7 L319.5,258.3 L320.5,258.9 L321.5,259.6 L322.5,260.2 L323.5,260.8 L324.5,261.4 L325.5,262.1 L326.5,262.7 L327.5,263.3 L328.5,264.0 L329.5,264.6 L330.5,265.2 L331.4,265.8 L332.4,266.5 L333.4,267.1 L334.4,267.7 L335.4,268.3 L336.4,269.0 L337.4,269.6 L338.4,270.2 L339.4,270.9 L340.4,271.5 L341.3,272.1 L342.3,272.8 L343.3,273.4 L344.3,274.0 L345.3,274.7 L346.3,275.3 L347.3,275.9 L348.3,276.6 L349.3,277.2 L350.2,277.8 L351.2,278.5 L352.2,279.1 L353.2,279.7 L354.2,280.4 L355.2,281.0 L356.2,281.6 L357.1,282.3 L358.1,282.9 L359.1,283.5 L360.1,284.2 L361.1,284.8 L362.1,285.4 L363.1,286.1 L364.0,286.7 L365.0,287.4 L366.0,288.0 L367.0,288.6 L368.0,289.3 L369.0,289.9 L369.9,290.6 L370.9,291.2 L371.9,291.8 L372.9,292.5 L373.9,293.1 L374.9,293.8 L375.8,294.4 L376.8,295.0 L377.8,295.7 L378.8,296.3 L379.8,297.0 L380.7,297.6 L381.7,298.3 L382.7,298.9 L383.7,299.6 L384.7,300.2 L385.6,300.8 L386.6,301.5 L387.6,302.1 L388.6,302.8 L389.6,303.4 L390.5,304.1 L391.5,304.7 L392.5,305.4 L393.5,306.0 L394.5,306.7 L395.4,307.3 L396.4,308.0 L397.4,308.6 L398.4,309.3 L399.3,309.9 L400.3,310.6 L401.3,311.2 L402.3,311.9 L403.2,312.5 L404.2,313.2 L405.2,313.8 L406.2,314.5 L407.1,315.1 L408.1,315.8 L409.1,316.4 L410.1,317.1 L411.0,317.8 L412.0,318.4 L413.0,319.1 L414.0,319.7 L414.9,320.4 L415.9,321.0 L416.9,321.7 L417.8,322.3 L418.8,323.0 L419.8,323.7 L420.8,324.3 L421.7,325.0 L422.7,325.6 L423.7,326.3 L424.6,326.9 L425.6,327.6 L426.6,328.3 L427.6,328.9 L428.5,329.6 L429.5,330.2 L430.5,330.9 L431.4,331.6 L432.4,332.2 L433.4,332.9 L434.3,333.6 L435.3,334.2 L436.3,334.9 L437.2,335.5 L438.2,336.2 L439.2,336.9 L440.1,337.5 L441.1,338.2 L442.1,338.9 L443.1,339.5 L444.0,340.2 L445.0,340.9 L445.9,341.5 L446.9,342.2 L447.9,342.9 L448.8,343.5 L449.8,344.2 L450.8,344.9 L451.7,345.5 L452.7,346.2 L453.7,346.9 L454.6,347.5 L455.6,348.2 L456.6,348.9 L457.5,349.5 L458.5,350.2 L459.5,350.9 L460.4,351.5 L461.4,352.2 L462.3,352.9 L463.3,353.6 L464.3,354.2 L465.2,354.9 L466.2,355.6 L467.2,356.2 L468.1,356.9 L469.1,357.6 L470.0,358.3 L471.0,358.9 L472.0,359.6 L472.9,360.3 L473.9,361.0 L474.8,361.6 L475.8,362.3 L476.8,363.0 L477.7,363.6 L478.7,364.3 L479.6,365.0 L480.6,365.7 L481.6,366.3 L482.5,367.0 L483.5,367.7 L484.4,368.4 L485.4,369.0 L486.4,369.7 L487.3,370.4 L488.3,371.1 L489.2,371.8 L490.2,372.4 L491.1,373.1 L492.1,373.8 L493.1,374.5 L494.0,375.1 L495.0,375.8 L495.9,376.5 L496.9,377.2 L497.9,377.8 L498.8,378.5 L499.8,379.2 L500.7,379.9 L501.7,380.6 L502.6,381.2 L503.6,381.9 L504.6,382.6 L505.5,383.3 L506.5,383.9 L507.4,384.6 L508.4,385.3 L509.3,386.0 L510.3,386.7 L511.3,387.3 L512.2,388.0 L513.2,388.7 L514.1,389.4 L515.1,390.0 L516.0,390.7 L517.0,391.4 L518.0,392.1 L518.9,392.8 L519.9,393.4 L520.8,394.1 L521.8,394.8 L522.8,395.5 L523.7,396.1 L524.7,396.8 L525.6,397.5 L526.6,398.2 L527.5,398.9 L528.5,399.5 L529.5,400.2 L530.4,400.9 L531.4,401.6 L532.3,402.2 L533.3,402.9 L534.3,403.6 L535.2,404.3 L536.2,404.9 L537.1,405.6 L538.1,406.3 L539.0,407.0 L540.0,407.6 L541.0,408.3 L541.9,409.0 L542.9,409.7 L543.8,410.3 L544.8,411.0 L545.8,411.7 L546.7,412.4 L547.7,413.1 L548.6,413.7 L549.6,414.4 L550.6,415.1 L551.5,415.8 L552.5,416.4 L553.4,417.1 L554.4,417.8 L555.3,418.5 L556.3,419.1 L557.3,419.8 L558.2,420.5 L559.2,421.2 L560.1,421.8 L561.1,422.5 L562.1,423.2 L563.0,423.9 L564.0,424.5 L564.9,425.2 L565.9,425.9 L566.8,426.6 L567.8,427.3 L568.8,427.9 L569.7,428.6 L570.7,429.3 L571.6,430.0 L572.6,430.7 L573.6,431.3 L574.5,432.0 L575.5,432.7 L576.4,433.4 L577.4,434.0 L578.3,434.7 L579.3,435.4 L580.2,436.1 L581.2,436.8 L582.2,437.5 L583.1,438.1 L584.1,438.8 L585.0,439.5 L586.0,440.2 L586.9,440.9 L587.9,441.5 L588.8,442.2 L589.8,442.9 L590.7,443.6 L591.7,444.3 L592.6,445.0 L593.6,445.7 L594.5,446.3 L595.5,447.0 L596.5,447.7 L597.4,448.4 L598.4,449.1 L599.3,449.8 L600.3,450.5 L601.2,451.1 L602.2,451.8 L603.1,452.5 L604.1,453.2 L605.0,453.9 L605.9,454.6 L606.9,455.3 L607.8,456.0 L608.8,456.7 L609.7,457.4 L610.7,458.1 L611.6,458.8 L612.6,459.4 L613.5,460.1 L614.5,460.8 L615.4,461.5 L616.4,462.2 L617.3,462.9 L618.2,463.6 L619.2,464.3 L620.1,465.0 L621.1,465.7 L622.0,466.4 L623.0,467.1 L623.9,467.8 L624.8,468.5 L625.8,469.2 L626.7,469.9 L627.7,470.6 L628.6,471.3 L629.6,472.0 L630.5,472.7 L631.4,473.4 L632.4,474.1 L633.3,474.8 L634.3,475.5 L635.2,476.2 L636.1,476.9 L637.1,477.6 L638.0,478.3 L639.0,479.0 L639.9,479.7 L640.8,480.4 L641.8,481.1 L642.7,481.8 L643.7,482.5 L644.6,483.2 L645.5,483.9 L646.5,484.6 L647.4,485.3 L648.4,486.0 L649.3,486.7 L650.2,487.5 L651.2,488.2 L652.1,488.9 L653.1,489.6 L654.0,490.3 L654.9,491.0 L655.9,491.7 L656.8,492.4 L657.7,493.1 L658.7,493.8 L659.6,494.5 L660.6,495.2 L661.5,495.9 L662.4,496.6 L663.4,497.3 L664.3,498.0 L665.3,498.7 L666.2,499.4 L667.2,500.1 L668.1,500.8 L669.0,501.5 L670.0,502.2 L670.9,502.9 L671.9,503.6 L672.8,504.3 L673.7,505.0 L674.7,505.7 L675.6,506.4 L676.6,507.1 L677.5,507.8 L678.5,508.5 L679.4,509.2 L680.3,509.9 L681.3,510.6 L682.2,511.3 L683.2,512.0 L684.1,512.7 L685.1,513.3 L686.0,514.0 L687.0,514.7 L687.9,515.4 L688.9,516.1 L689.8,516.8 L690.7,517.5 L691.7,518.2 L692.6,518.9 L693.6,519.6 L694.5,520.3 L695.5,521.0 L696.4,521.7 L697.4,522.3 L698.3,523.0 L699.3,523.7 L700.2,524.4 L701.2,525.1 L702.1,525.8 L703.1,526.5 L704.0,527.2 L705.0,527.8 L705.9,528.5 L706.9,529.2 L707.8,529.9 L708.8,530.6 L709.7,531.3 L710.7,532.0 L711.6,532.7 L712.6,533.3 L713.6,534.0 L714.5,534.7 L715.5,535.4 L716.4,536.1 L717.4,536.8 L718.3,537.5 L719.3,538.1 L720.2,538.8 L721.2,539.5 L722.1,540.2 L723.1,540.9 L724.0,541.6 L725.0,542.3 L725.9,542.9 L726.9,543.6 L727.8,544.3 L728.8,545.0 L729.7,545.7 L730.7,546.4 L731.6,547.1 L732.6,547.8 L733.5,548.4 L734.5,549.1 L735.4,549.8 L736.4,550.5 L737.3,551.2 L738.3,551.9 L739.2,552.6 L740.2,553.3 L741.1,554.0 L742.1,554.7 L743.0,555.3 L744.0,556.0 L744.9,556.7 L745.9,557.4 L746.8,558.1 L747.7,558.8 L748.7,559.5 L749.6,560.2 L750.6,560.9 L751.5,561.6 L752.5,562.3 L753.4,563.0 L754.4,563.7 L755.3,564.4 L756.2,565.1 L757.2,565.8 L758.1,566.5 L759.1,567.2 L760.0,567.9 L760.9,568.6 L761.9,569.3 L762.8,570.0 L763.8,570.7 L764.7,571.4 L765.6,572.1 L766.6,572.8 L767.5,573.5 L768.4,574.2 L769.4,574.9 L770.3,575.7 L771.2,576.4 L772.2,577.1 L773.1,577.8 L774.1,578.5 L775.0,579.2 L775.9,579.9 L776.9,580.6 L777.8,581.3 L778.7,582.0 L779.6,582.8 L780.6,583.5 L781.5,584.2 L782.4,584.9 L783.4,585.6 L784.3,586.3 L785.2,587.0 L786.2,587.8 L787.1,588.5 L788.0,589.2 L788.9,589.9 L789.9,590.6 L790.8,591.3 L791.7,592.1 L792.7,592.8 L793.6,593.5 L794.5,594.2 L795.4,594.9 L796.4,595.7 L797.3,596.4 L798.2,597.1 L799.2,597.8 L800.1,598.5 L801.0,599.3 L801.9,600.0 L802.9,600.7 L803.8,601.4 L804.7,602.1 L805.6,602.9 L806.6,603.6 L807.5,604.3 L808.4,605.0 L809.3,605.7 L810.3,606.5 L811.2,607.2 L812.1,607.9 L813.0,608.6 L814.0,609.3 L814.9,610.1 L815.8,610.8 L816.7,611.5 L817.7,612.2 L818.6,613.0 L819.5,613.7 L820.4,614.4 L821.4,615.1 L822.3,615.8 L823.2,616.6 L824.1,617.3 L825.1,618.0 L826.0,618.7 L826.9,619.5 L827.8,620.2 L828.7,620.9 L829.7,621.6 L830.6,622.4 L831.5,623.1 L832.4,623.8 L833.4,624.5 L834.3,625.3 L835.2,626.0 L836.1,626.7 L837.1,627.4 L838.0,628.1 L838.9,628.9 L839.8,629.6 L840.7,630.3 L841.7,631.0 L842.6,631.8 L843.5,632.5 L844.4,633.2 L845.4,633.9 L846.3,634.7 L847.2,635.4 L848.1,636.1 L849.1,636.9 L850.0,637.6 L850.9,638.3 L851.8,639.0 L852.7,639.8 L853.7,640.5 L854.6,641.2 L855.5,641.9 L856.4,642.7 L857.3,643.4 L858.3,644.1 L859.2,644.9 L860.1,645.6 L861.0,646.3 L861.9,647.0 L862.9,647.8 L863.8,648.5 L864.7,649.2 L865.6,650.0 L866.5,650.7 L867.4,651.4 L868.4,652.2 L869.3,652.9 L870.2,653.6 L871.1,654.4 L872.0,655.1 L872.9,655.9 L873.8,656.6 L874.8,657.3 L875.7,658.1 L876.6,658.8 L877.5,659.6 L878.4,660.3 L879.3,661.0 L880.2,661.8 L881.1,662.5 L882.0,663.3 L882.9,664.0 L883.8,664.8 L884.7,665.5 L885.6,666.3 L886.5,667.0 L887.4,667.8 L888.3,668.5 L889.2,669.3 L890.1,670.1 L891.0,670.8 L891.9,671.6 L892.8,672.3 L893.7,673.1 L894.6,673.9 L895.5,674.6 L896.4,675.4 L897.2,676.2 L898.1,676.9 L899.0,677.7 L899.9,678.5 L900.8,679.3 L901.7,680.0 L902.5,680.8 L903.4,681.6 L904.3,682.4 L905.2,683.1 L906.0,683.9 L906.9,684.7 L907.8,685.5 L908.6,686.3 L909.5,687.1 L910.4,687.9 L911.2,688.7 L912.1,689.4 L913.0,690.2 L913.8,691.0 L914.7,691.8 L915.6,692.6 L916.4,693.4 L917.3,694.2 L918.1,695.0 L919.0,695.8 L919.8,696.6 L920.7,697.4 L921.6,698.2 L922.4,699.0 L923.3,699.8 L924.1,700.7 L925.0,701.5 L925.8,702.3 L926.7,703.1 L927.5,703.9 L928.4,704.7 L929.2,705.5 L930.1,706.3 L931.0,707.1 L931.8,707.9 L932.7,708.7 L933.5,709.5 L934.4,710.3 L935.2,711.1 L936.1,711.9 L936.9,712.7 L937.8,713.5 L938.7,714.3 L939.5,715.1 L940.4,715.9 L941.2,716.7" stroke="#FFA500" stroke-width="9.4" stroke-dasharray="34.8 15.0" stroke-dashoffset="15.40"/>
<path d="M140.0,170.0 L141.1,170.4 L142.2,170.9 L143.3,171.3 L144.4,171.7 L145.5,172.1 L146.6,172.6 L147.6,173.0 L148.7,173.4 L149.8,173.8 L150.9,174.3 L152.0,174.7 L153.1,175.1 L154.2,175.5 L155.3,175.9 L156.4,176.3 L157.5,176.8 L158.6,177.2 L159.7,177.6 L160.8,178.0 L161.9,178.4 L163.0,178.8 L164.1,179.2 L165.2,179.7 L166.3,180.1 L167.4,180.5 L168.5,180.9 L169.6,181.3 L170.7,181.7 L171.8,182.1 L172.9,182.5 L174.0,183.0 L175.1,183.4 L176.2,183.8 L177.3,184.2 L178.4,184.6 L179.5,185.0 L180.6,185.5 L181.7,185.9 L182.8,186.3 L183.9,186.7 L185.0,187.1 L186.0,187.6 L187.1,188.0 L188.2,188.4 L189.3,188.8 L190.4,189.3 L191.5,189.7 L192.6,190.1 L193.7,190.6 L194.8,191.0 L195.9,191.4 L197.0,191.9 L198.0,192.3 L199.1,192.8 L200.2,193.2 L201.3,193.7 L202.4,194.1 L203.5,194.6 L204.5,195.0 L205.6,195.5 L206.7,195.9 L207.8,196.4 L208.9,196.9 L209.9,197.3 L211.0,197.8 L212.1,198.3 L213.2,198.7 L214.2,199.2 L215.3,199.7 L216.4,200.2 L217.4,200.7 L218.5,201.1 L219.6,201.6 L220.6,202.1 L221.7,202.6 L222.8,203.1 L223.8,203.6 L224.9,204.1 L225.9,204.6 L227.0,205.1 L228.1,205.7 L229.1,206.2 L230.2,206.7 L231.2,207.2 L232.3,207.7 L233.3,208.2 L234.4,208.8 L235.4,209.3 L236.5,209.8 L237.5,210.4 L238.6,210.9 L239.6,211.4 L240.7,212.0 L241.7,212.5 L242.7,213.0 L243.8,213.6 L244.8,214.1 L245.9,214.7 L246.9,215.2 L247.9,215.8 L249.0,216.3 L250.0,216.9 L251.0,217.4 L252.1,218.0 L253.1,218.6 L254.1,219.1 L255.1,219.7 L256.2,220.3 L257.2,220.8 L258.2,221.4 L259.3,222.0 L260.3,222.5 L261.3,223.1 L262.3,223.7 L263.3,224.3 L264.4,224.9 L265.4,225.4 L266.4,226.0 L267.4,226.6 L268.4,227.2 L269.5,227.8 L270.5,228.4 L271.5,229.0 L272.5,229.5 L273.5,230.1 L274.5,230.7 L275.5,231.3 L276.5,231.9 L277.5,232.5 L278.6,233.1 L279.6,233.7 L280.6,234.3 L281.6,234.9 L282.6,235.5 L283.6,236.1 L284.6,236.7 L285.6,237.3 L286.6,238.0 L287.6,238.6 L288.6,239.2 L289.6,239.8 L290.6,240.4 L291.6,241.0 L292.6,241.6 L293.6,242.2 L294.6,242.8 L295.6,243.5 L296.6,244.1 L297.6,244.7 L298.6,245.3 L299.6,245.9 L300.6,246.5 L301.6,247.1 L302.6,247.8 L303.6,248.4 L304.6,249.0 L305.6,249.6 L306.6,250.2 L307.6,250.9 L308.6,251.5 L309.6,252.1 L310.6,252.7 L311.6,253.3 L312.6,254.0 L313.6,254.6 L314.6,255.2 L315.6,255.8 L316.6,256.5 L317.5,257.1 L318.5,257.7 L319.5,258.3 L320.5,258.9 L321.5,259.6 L322.5,260.2 L323.5,260.8 L324.5,261.4 L325.5,262.1 L326.5,262.7 L327.5,263.3 L328.5,264.0 L329.5,264.6 L330.5,265.2 L331.4,265.8 L332.4,266.5 L333.4,267.1 L334.4,267.7 L335.4,268.3 L336.4,269.0 L337.4,269.6 L338.4,270.2 L339.4,270.9 L340.4,271.5 L341.3,272.1 L342.3,272.8 L343.3,273.4 L344.3,274.0 L345.3,274.7 L346.3,275.3 L347.3,275.9 L348.3,276.6 L349.3,277.2 L350.2,277.8 L351.2,278.5 L352.2,279.1 L353.2,279.7 L354.2,280.4 L355.2,281.0 L356.2,281.6 L357.1,282.3 L358.1,282.9 L359.1,283.5 L360.1,284.2 L361.1,284.8 L362.1,285.4 L363.1,286.1 L364.0,286.7 L365.0,287.4 L366.0,288.0 L367.0,288.6 L368.0,289.3 L369.0,289.9 L369.9,290.6 L370.9,291.2 L371.9,291.8 L372.9,292.5 L373.9,293.1 L374.9,293.8 L375.8,294.4 L376.8,295.0 L377.8,295.7 L378.8,296.3 L379.8,297.0 L380.7,297.6 L381.7,298.3 L382.7,298.9 L383.7,299.6 L384.7,300.2 L385.6,300.8 L386.6,301.5 L387.6,302.1 L388.6,302.8 L389.6,303.4 L390.5,304.1 L391.5,304.7 L392.5,305.4 L393.5,306.0 L394.5,306.7 L395.4,307.3 L396.4,308.0 L397.4,308.6 L398.4,309.3 L399.3,309.9 L400.3,310.6 L401.3,311.2 L402.3,311.9 L403.2,312.5 L404.2,313.2 L405.2,313.8 L406.2,314.5 L407.1,315.1 L408.1,315.8 L409.1,316.4 L410.1,317.1 L411.0,317.8 L412.0,318.4 L413.0,319.1 L414.0,319.7 L414.9,320.4 L415.9,321.0 L416.9,321.7 L417.8,322.3 L418.8,323.0 L419.8,323.7 L420.8,324.3 L421.7,325.0 L422.7,325.6 L423.7,326.3 L424.6,326.9 L425.6,327.6 L426.6,328.3 L427.6,328.9 L428.5,329.6 L429.5,330.2 L430.5,330.9 L431.4,331.6 L432.4,332.2 L433.4,332.9 L434.3,333.6 L435.3,334.2 L436.3,334.9 L437.2,335.5 L438.2,336.2 L439.2,336.9 L440.1,337.5 L441.1,338.2 L442.1,338.9 L443.1,339.5 L444.0,340.2 L445.0,340.9 L445.9,341.5 L446.9,342.2 L447.9,342.9 L448.8,343.5 L449.8,344.2 L450.8,344.9 L451.7,345.5 L452.7,346.2 L453.7,346.9 L454.6,347.5 L455.6,348.2 L456.6,348.9 L457.5,349.5 L458.5,350.2 L459.5,350.9 L460.4,351.5 L461.4,352.2 L462.3,352.9 L463.3,353.6 L464.3,354.2 L465.2,354.9 L466.2,355.6 L467.2,356.2 L468.1,356.9 L469.1,357.6 L470.0,358.3 L471.0,358.9 L472.0,359.6 L472.9,360.3 L473.9,361.0 L474.8,361.6 L475.8,362.3 L476.8,363.0 L477.7,363.6 L478.7,364.3 L479.6,365.0 L480.6,365.7 L481.6,366.3 L482.5,367.0 L483.5,367.7 L484.4,368.4 L485.4,369.0 L486.4,369.7 L487.3,370.4 L488.3,371.1 L489.2,371.8 L490.2,372.4 L491.1,373.1 L492.1,373.8 L493.1,374.5 L494.0,375.1 L495.0,375.8 L495.9,376.5 L496.9,377.2 L497.9,377.8 L498.8,378.5 L499.8,379.2 L500.7,379.9 L501.7,380.6 L502.6,381.2 L503.6,381.9 L504.6,382.6 L505.5,383.3 L506.5,383.9 L507.4,384.6 L508.4,385.3 L509.3,386.0 L510.3,386.7 L511.3,387.3 L512.2,388.0 L513.2,388.7 L514.1,389.4 L515.1,390.0 L516.0,390.7 L517.0,391.4 L518.0,392.1 L518.9,392.8 L519.9,393.4 L520.8,394.1 L521.8,394.8 L522.8,395.5 L523.7,396.1 L524.7,396.8 L525.6,397.5 L526.6,398.2 L527.5,398.9 L528.5,399.5 L529.5,400.2 L530.4,400.9 L531.4,401.6 L532.3,402.2 L533.3,402.9 L534.3,403.6 L535.2,404.3 L536.2,404.9 L537.1,405.6 L538.1,406.3 L539.0,407.0 L540.0,407.6 L541.0,408.3 L541.9,409.0 L542.9,409.7 L543.8,410.3 L544.8,411.0 L545.8,411.7 L546.7,412.4 L547.7,413.1 L548.6,413.7 L549.6,414.4 L550.6,415.1 L551.5,415.8 L552.5,416.4 L553.4,417.1 L554.4,417.8 L555.3,418.5 L556.3,419.1 L557.3,419.8 L558.2,420.5 L559.2,421.2 L560.1,421.8 L561.1,422.5 L562.1,423.2 L563.0,423.9 L564.0,424.5 L564.9,425.2 L565.9,425.9 L566.8,426.6 L567.8,427.3 L568.8,427.9 L569.7,428.6 L570.7,429.3 L571.6,430.0 L572.6,430.7 L573.6,431.3 L574.5,432.0 L575.5,432.7 L576.4,433.4 L577.4,434.0 L578.3,434.7 L579.3,435.4 L580.2,436.1 L581.2,436.8 L582.2,437.5 L583.1,438.1 L584.1,438.8 L585.0,439.5 L586.0,440.2 L586.9,440.9 L587.9,441.5 L588.8,442.2 L589.8,442.9 L590.7,443.6 L591.7,444.3 L592.6,445.0 L593.6,445.7 L594.5,446.3 L595.5,447.0 L596.5,447.7 L597.4,448.4 L598.4,449.1 L599.3,449.8 L600.3,450.5 L601.2,451.1 L602.2,451.8 L603.1,452.5 L604.1,453.2 L605.0,453.9 L605.9,454.6 L606.9,455.3 L607.8,456.0 L608.8,456.7 L609.7,457.4 L610.7,458.1 L611.6,458.8 L612.6,459.4 L613.5,460.1 L614.5,460.8 L615.4,461.5 L616.4,462.2 L617.3,462.9 L618.2,463.6 L619.2,464.3 L620.1,465.0 L621.1,465.7 L622.0,466.4 L623.0,467.1 L623.9,467.8 L624.8,468.5 L625.8,469.2 L626.7,469.9 L627.7,470.6 L628.6,471.3 L629.6,472.0 L630.5,472.7 L631.4,473.4 L632.4,474.1 L633.3,474.8 L634.3,475.5 L635.2,476.2 L636.1,476.9 L637.1,477.6 L638.0,478.3 L639.0,479.0 L639.9,479.7 L640.8,480.4 L641.8,481.1 L642.7,481.8 L643.7,482.5 L644.6,483.2 L645.5,483.9 L646.5,484.6 L647.4,485.3 L648.4,486.0 L649.3,486.7 L650.2,487.5 L651.2,488.2 L652.1,488.9 L653.1,489.6 L654.0,490.3 L654.9,491.0 L655.9,491.7 L656.8,492.4 L657.7,493.1 L658.7,493.8 L659.6,494.5 L660.6,495.2 L661.5,495.9 L662.4,496.6 L663.4,497.3 L664.3,498.0 L665.3,498.7 L666.2,499.4 L667.2,500.1 L668.1,500.8 L669.0,501.5 L670.0,502.2 L670.9,502.9 L671.9,503.6 L672.8,504.3 L673.7,505.0 L674.7,505.7 L675.6,506.4 L676.6,507.1 L677.5,507.8 L678.5,508.5 L679.4,509.2 L680.3,509.9 L681.3,510.6 L682.2,511.3 L683.2,512.0 L684.1,512.7 L685.1,513.3 L686.0,514.0 L687.0,514.7 L687.9,515.4 L688.9,516.1 L689.8,516.8 L690.7,517.5 L691.7,518.2 L692.6,518.9 L693.6,519.6 L694.5,520.3 L695.5,521.0 L696.4,521.7 L697.4,522.3 L698.3,523.0 L699.3,523.7 L700.2,524.4 L701.2,525.1 L702.1,525.8 L703.1,526.5 L704.0,527.2 L705.0,527.8 L705.9,528.5 L706.9,529.2 L707.8,529.9 L708.8,530.6 L709.7,531.3 L710.7,532.0 L711.6,532.7 L712.6,533.3 L713.6,534.0 L714.5,534.7 L715.5,535.4 L716.4,536.1 L717.4,536.8 L718.3,537.5 L719.3,538.1 L720.2,538.8 L721.2,539.5 L722.1,540.2 L723.1,540.9 L724.0,541.6 L725.0,542.3 L725.9,542.9 L726.9,543.6 L727.8,544.3 L728.8,545.0 L729.7,545.7 L730.7,546.4 L731.6,547.1 L732.6,547.8 L733.5,548.4 L734.5,549.1 L735.4,549.8 L736.4,550.5 L737.3,551.2 L738.3,551.9 L739.2,552.6 L740.2,553.3 L741.1,554.0 L742.1,554.7 L743.0,555.3 L744.0,556.0 L744.9,556.7 L745.9,557.4 L746.8,558.1 L747.7,558.8 L748.7,559.5 L749.6,560.2 L750.6,560.9 L751.5,561.6 L752.5,562.3 L753.4,563.0 L754.4,563.7 L755.3,564.4 L756.2,565.1 L757.2,565.8 L758.1,566.5 L759.1,567.2 L760.0,567.9 L760.9,568.6 L761.9,569.3 L762.8,570.0 L763.8,570.7 L764.7,571.4 L765.6,572.1 L766.6,572.8 L767.5,573.5 L768.4,574.2 L769.4,574.9 L770.3,575.7 L771.2,576.4 L772.2,577.1 L773.1,577.8 L774.1,578.5 L775.0,579.2 L775.9,579.9 L776.9,580.6 L777.8,581.3 L778.7,582.0 L779.6,582.8 L780.6,583.5 L781.5,584.2 L782.4,584.9 L783.4,585.6 L784.3,586.3 L785.2,587.0 L786.2,587.8 L787.1,588.5 L788.0,589.2 L788.9,589.9 L789.9,590.6 L790.8,591.3 L791.7,592.1 L792.7,592.8 L793.6,593.5 L794.5,594.2 L795.4,594.9 L796.4,595.7 L797.3,596.4 L798.2,597.1 L799.2,597.8 L800.1,598.5 L801.0,599.3 L801.9,600.0 L802.9,600.7 L803.8,601.4 L804.7,602.1 L805.6,602.9 L806.6,603.6 L807.5,604.3 L808.4,605.0 L809.3,605.7 L810.3,606.5 L811.2,607.2 L812.1,607.9 L813.0,608.6 L814.0,609.3 L814.9,610.1 L815.8,610.8 L816.7,611.5 L817.7,612.2 L818.6,613.0 L819.5,613.7 L820.4,614.4 L821.4,615.1 L822.3,615.8 L823.2,616.6 L824.1,617.3 L825.1,618.0 L826.0,618.7 L826.9,619.5 L827.8,620.2 L828.7,620.9 L829.7,621.6 L830.6,622.4 L831.5,623.1 L832.4,623.8 L833.4,624.5 L834.3,625.3 L835.2,626.0 L836.1,626.7 L837.1,627.4 L838.0,628.1 L838.9,628.9 L839.8,629.6 L840.7,630.3 L841.7,631.0 L842.6,631.8 L843.5,632.5 L844.4,633.2 L845.4,633.9 L846.3,634.7 L847.2,635.4 L848.1,636.1 L849.1,636.9 L850.0,637.6 L850.9,638.3 L851.8,639.0 L852.7,639.8 L853.7,640.5 L854.6,641.2 L855.5,641.9 L856.4,642.7 L857.3,643.4 L858.3,644.1 L859.2,644.9 L860.1,645.6 L861.0,646.3 L861.9,647.0 L862.9,647.8 L863.8,648.5 L864.7,649.2 L865.6,650.0 L866.5,650.7 L867.4,651.4 L868.4,652.2 L869.3,652.9 L870.2,653.6 L871.1,654.4 L872.0,655.1 L872.9,655.9 L873.8,656.6 L874.8,657.3 L875.7,658.1 L876.6,658.8 L877.5,659.6 L878.4,660.3 L879.3,661.0 L880.2,661.8 L881.1,662.5 L882.0,663.3 L882.9,664.0 L883.8,664.8 L884.7,665.5 L885.6,666.3 L886.5,667.0 L887.4,667.8 L888.3,668.5 L889.2,669.3 L890.1,670.1 L891.0,670.8 L891.9,671.6 L892.8,672.3 L893.7,673.1 L894.6,673.9 L895.5,674.6 L896.4,675.4 L897.2,676.2 L898.1,676.9 L899.0,677.7 L899.9,678.5 L900.8,679.3 L901.7,680.0 L902.5,680.8 L903.4,681.6 L904.3,682.4 L905.2,683.1 L906.0,683.9 L906.9,684.7" stroke="#3CB371" stroke-width="9.4" stroke-dasharray="34.8 15.0" stroke-dashoffset="15.40"/>
</g>
<rect x="158.5" y="20.0" width="898.0" height="892.0" fill="none" stroke="#000" stroke-width="8.3"/>
<rect x="1056.5" y="20.0" width="897.5" height="892.0" fill="none" stroke="#000" stroke-width="8.3"/>
<line x1="158.5" y1="218.22222222222223" x2="180.5" y2="218.22222222222223" stroke="#000" stroke-width="8.0" stroke-linecap="butt"/>
<line x1="1034.5" y1="218.22222222222223" x2="1078.5" y2="218.22222222222223" stroke="#000" stroke-width="8.0" stroke-linecap="butt"/>
<line x1="1932.0" y1="218.22222222222223" x2="1954.0" y2="218.22222222222223" stroke="#000" stroke-width="8.0" stroke-linecap="butt"/>
<line x1="158.5" y1="416.44444444444446" x2="180.5" y2="416.44444444444446" stroke="#000" stroke-width="8.0" stroke-linecap="butt"/>
<line x1="1034.5" y1="416.44444444444446" x2="1078.5" y2="416.44444444444446" stroke="#000" stroke-width="8.0" stroke-linecap="butt"/>
<line x1="1932.0" y1="416.44444444444446" x2="1954.0" y2="416.44444444444446" stroke="#000" stroke-width="8.0" stroke-linecap="butt"/>
<line x1="158.5" y1="614.6666666666666" x2="180.5" y2="614.6666666666666" stroke="#000" stroke-width="8.0" stroke-linecap="butt"/>
<line x1="1034.5" y1="614.6666666666666" x2="1078.5" y2="614.6666666666666" stroke="#000" stroke-width="8.0" stroke-linecap="butt"/>
<line x1="1932.0" y1="614.6666666666666" x2="1954.0" y2="614.6666666666666" stroke="#000" stroke-width="8.0" stroke-linecap="butt"/>
<line x1="158.5" y1="812.8888888888889" x2="180.5" y2="812.8888888888889" stroke="#000" stroke-width="8.0" stroke-linecap="butt"/>
<line x1="1034.5" y1="812.8888888888889" x2="1078.5" y2="812.8888888888889" stroke="#000" stroke-width="8.0" stroke-linecap="butt"/>
<line x1="1932.0" y1="812.8888888888889" x2="1954.0" y2="812.8888888888889" stroke="#000" stroke-width="8.0" stroke-linecap="butt"/>
<line x1="457.8333333333333" y1="20.0" x2="457.8333333333333" y2="42.0" stroke="#000" stroke-width="8.0" stroke-linecap="butt"/>
<line x1="457.8333333333333" y1="912.0" x2="457.8333333333333" y2="890.0" stroke="#000" stroke-width="8.0" stroke-linecap="butt"/>
<line x1="757.1666666666666" y1="20.0" x2="757.1666666666666" y2="42.0" stroke="#000" stroke-width="8.0" stroke-linecap="butt"/>
<line x1="757.1666666666666" y1="912.0" x2="757.1666666666666" y2="890.0" stroke="#000" stroke-width="8.0" stroke-linecap="butt"/>
<line x1="1193.406779661017" y1="20.0" x2="1193.406779661017" y2="42.0" stroke="#000" stroke-width="8.0" stroke-linecap="butt"/>
<line x1="1193.406779661017" y1="912.0" x2="1193.406779661017" y2="890.0" stroke="#000" stroke-width="8.0" stroke-linecap="butt"/>
<line x1="1345.5254237288136" y1="20.0" x2="1345.5254237288136" y2="42.0" stroke="#000" stroke-width="8.0" stroke-linecap="butt"/>
<line x1="1345.5254237288136" y1="912.0" x2="1345.5254237288136" y2="890.0" stroke="#000" stroke-width="8.0" stroke-linecap="butt"/>
<line x1="1497.6440677966102" y1="20.0" x2="1497.6440677966102" y2="42.0" stroke="#000" stroke-width="8.0" stroke-linecap="butt"/>
<line x1="1497.6440677966102" y1="912.0" x2="1497.6440677966102" y2="890.0" stroke="#000" stroke-width="8.0" stroke-linecap="butt"/>
<line x1="1649.7627118644068" y1="20.0" x2="1649.7627118644068" y2="42.0" stroke="#000" stroke-width="8.0" stroke-linecap="butt"/>
<line x1="1649.7627118644068" y1="912.0" x2="1649.7627118644068" y2="890.0" stroke="#000" stroke-width="8.0" stroke-linecap="butt"/>
<line x1="1801.8813559322034" y1="20.0" x2="1801.8813559322034" y2="42.0" stroke="#000" stroke-width="8.0" stroke-linecap="butt"/>
<line x1="1801.8813559322034" y1="912.0" x2="1801.8813559322034" y2="890.0" stroke="#000" stroke-width="8.0" stroke-linecap="butt"/>
<g clip-path="url(#cr)" fill="none" stroke-linejoin="round">
<path d="M1084.5,5.0 L1084.4,6.6 L1084.3,8.2 L1084.3,9.8 L1084.2,11.5 L1084.1,13.1 L1084.0,14.7 L1083.9,16.3 L1083.8,17.9 L1083.7,19.5 L1083.6,21.2 L1083.5,22.8 L1083.4,24.4 L1083.3,26.0 L1083.2,27.6 L1083.1,29.2 L1083.0,30.8 L1082.9,32.4 L1082.8,34.1 L1082.7,35.7 L1082.5,37.3 L1082.4,38.9 L1082.3,40.5 L1082.1,42.1 L1082.0,43.7 L1081.9,45.3 L1081.7,47.0 L1081.6,48.6 L1081.4,50.2 L1081.3,51.8 L1081.1,53.4 L1080.9,55.0 L1080.8,56.6 L1080.6,58.2 L1080.4,59.8 L1080.2,61.4 L1080.0,63.0 L1079.8,64.7 L1079.6,66.3 L1079.5,67.9 L1079.3,69.5 L1079.1,71.1 L1078.9,72.7 L1078.7,74.3 L1078.5,75.9 L1078.3,77.5 L1078.1,79.1 L1077.9,80.7 L1077.7,82.3 L1077.6,83.9 L1077.4,85.5 L1077.3,87.1 L1077.1,88.8 L1077.0,90.4 L1076.8,92.0 L1076.7,93.6 L1076.5,95.2 L1076.4,96.8 L1076.3,98.4 L1076.2,100.0 L1076.1,101.6 L1075.9,103.3 L1075.8,104.9 L1075.7,106.5 L1075.6,108.1 L1075.5,109.7 L1075.4,111.3 L1075.3,112.9 L1075.3,114.6 L1075.2,116.2 L1075.1,117.8 L1075.0,119.4 L1074.9,121.0 L1074.8,122.6 L1074.7,124.3 L1074.7,125.9 L1074.6,127.5 L1074.5,129.1 L1074.4,130.7 L1074.3,132.3 L1074.2,134.0 L1074.2,135.6 L1074.1,137.2 L1074.0,138.8 L1073.9,140.4 L1073.8,142.0 L1073.8,143.6 L1073.7,145.3 L1073.6,146.9 L1073.6,148.5 L1073.5,150.1 L1073.4,151.7 L1073.4,153.3 L1073.3,155.0 L1073.3,156.6 L1073.3,158.2 L1073.3,159.8 L1073.3,161.4 L1073.3,163.0 L1073.3,164.7 L1073.3,166.3 L1073.3,167.9 L1073.3,169.5 L1073.3,171.1 L1073.3,172.7 L1073.4,174.4 L1073.4,176.0 L1073.4,177.6 L1073.4,179.2 L1073.5,180.8 L1073.5,182.5 L1073.5,184.1 L1073.6,185.7 L1073.6,187.3 L1073.6,188.9 L1073.7,190.5 L1073.7,192.2 L1073.8,193.8 L1073.8,195.4 L1073.8,197.0 L1073.9,198.6 L1073.9,200.2 L1074.0,201.9 L1074.1,203.5 L1074.1,205.1 L1074.2,206.7 L1074.3,208.3 L1074.4,209.9 L1074.5,211.5 L1074.5,213.2 L1074.6,214.8 L1074.7,216.4 L1074.8,218.0 L1074.9,219.6 L1075.0,221.2 L1075.1,222.9 L1075.2,224.5 L1075.3,226.1 L1075.3,227.7 L1075.4,229.3 L1075.5,230.9 L1075.5,232.5 L1075.6,234.2 L1075.7,235.8 L1075.7,237.4 L1075.8,239.0 L1075.8,240.6 L1075.9,242.2 L1075.9,243.9 L1076.0,245.5 L1076.1,247.1 L1076.1,248.7 L1076.2,250.3 L1076.3,251.9 L1076.3,253.6 L1076.4,255.2 L1076.5,256.8 L1076.6,258.4 L1076.6,260.0 L1076.7,261.6 L1076.8,263.2 L1076.9,264.9 L1077.0,266.5 L1077.1,268.1 L1077.1,269.7 L1077.2,271.3 L1077.3,272.9 L1077.4,274.6 L1077.5,276.2 L1077.5,277.8 L1077.6,279.4 L1077.7,281.0 L1077.8,282.6 L1077.8,284.2 L1077.9,285.9 L1078.0,287.5 L1078.0,289.1 L1078.1,290.7 L1078.2,292.3 L1078.2,293.9 L1078.3,295.6 L1078.3,297.2 L1078.4,298.8 L1078.4,300.4 L1078.5,302.0 L1078.5,303.6 L1078.6,305.3 L1078.7,306.9 L1078.7,308.5 L1078.8,310.1 L1078.8,311.7 L1078.9,313.3 L1078.9,315.0 L1079.0,316.6 L1079.0,318.2 L1079.1,319.8 L1079.2,321.4 L1079.2,323.0 L1079.3,324.7 L1079.4,326.3 L1079.5,327.9 L1079.5,329.5 L1079.6,331.1 L1079.7,332.7 L1079.9,334.3 L1080.0,336.0 L1080.1,337.6 L1080.2,339.2 L1080.4,340.8 L1080.5,342.4 L1080.7,344.0 L1080.9,345.6 L1081.1,347.2 L1081.3,348.8 L1081.5,350.4 L1081.7,352.0 L1081.9,353.6 L1082.2,355.2 L1082.5,356.8 L1082.7,358.4 L1083.0,360.0 L1083.3,361.6 L1083.6,363.2 L1083.9,364.8 L1084.3,366.4 L1084.6,368.0 L1085.0,369.5 L1085.4,371.1 L1085.7,372.7 L1086.1,374.2 L1086.6,375.8 L1087.0,377.4 L1087.4,378.9 L1087.9,380.5 L1088.3,382.0 L1088.8,383.6 L1089.2,385.1 L1089.7,386.7 L1090.2,388.2 L1090.7,389.8 L1091.2,391.3 L1091.7,392.8 L1092.2,394.4 L1092.8,395.9 L1093.3,397.4 L1093.8,399.0 L1094.4,400.5 L1094.9,402.0 L1095.5,403.5 L1096.1,405.0 L1096.6,406.6 L1097.2,408.1 L1097.8,409.6 L1098.4,411.1 L1099.0,412.6 L1099.6,414.1 L1100.2,415.6 L1100.9,417.1 L1101.5,418.5 L1102.2,420.0 L1102.8,421.5 L1103.5,423.0 L1104.2,424.4 L1104.9,425.9 L1105.6,427.4 L1106.3,428.8 L1107.0,430.3 L1107.7,431.7 L1108.5,433.1 L1109.2,434.6 L1109.9,436.0 L1110.7,437.5 L1111.4,438.9 L1112.2,440.3 L1112.9,441.8 L1113.7,443.2 L1114.5,444.6 L1115.2,446.0 L1116.0,447.5 L1116.7,448.9 L1117.5,450.3 L1118.2,451.8 L1119.0,453.2 L1119.7,454.6 L1120.5,456.1 L1121.3,457.5 L1122.0,458.9 L1122.8,460.3 L1123.6,461.8 L1124.3,463.2 L1125.1,464.6 L1125.9,466.0 L1126.7,467.4 L1127.5,468.8 L1128.4,470.2 L1129.2,471.6 L1130.0,473.0 L1130.9,474.4 L1131.7,475.7 L1132.5,477.1 L1133.4,478.5 L1134.3,479.8 L1135.1,481.2 L1136.0,482.6 L1136.9,483.9 L1137.8,485.3 L1138.7,486.6 L1139.6,488.0 L1140.5,489.3 L1141.4,490.7 L1142.3,492.0 L1143.2,493.3 L1144.2,494.6 L1145.1,496.0 L1146.0,497.3 L1147.0,498.6 L1147.9,499.9 L1148.9,501.2 L1149.9,502.5 L1150.8,503.8 L1151.8,505.1 L1152.8,506.4 L1153.8,507.7 L1154.8,508.9 L1155.8,510.2 L1156.8,511.5 L1157.8,512.7 L1158.8,514.0 L1159.9,515.2 L1160.9,516.5 L1162.0,517.7 L1163.0,518.9 L1164.1,520.2 L1165.1,521.4 L1166.2,522.6 L1167.3,523.8 L1168.4,525.0 L1169.5,526.2 L1170.6,527.4 L1171.7,528.5 L1172.8,529.7 L1173.9,530.9 L1175.0,532.0 L1176.2,533.2 L1177.3,534.3 L1178.5,535.5 L1179.6,536.6 L1180.8,537.8 L1181.9,538.9 L1183.1,540.0 L1184.2,541.1 L1185.4,542.3 L1186.6,543.4 L1187.8,544.5 L1188.9,545.6 L1190.1,546.7 L1191.3,547.8 L1192.5,548.9 L1193.6,550.0 L1194.8,551.1 L1196.0,552.3 L1197.2,553.4 L1198.4,554.5 L1199.6,555.6 L1200.7,556.7 L1201.9,557.8 L1203.1,558.9 L1204.3,560.0 L1205.5,561.1 L1206.7,562.2 L1207.8,563.3 L1209.0,564.4 L1210.2,565.5 L1211.4,566.6 L1212.6,567.7 L1213.8,568.8 L1215.0,569.9 L1216.2,570.9 L1217.4,572.0 L1218.6,573.1 L1219.8,574.2 L1221.0,575.3 L1222.2,576.4 L1223.4,577.4 L1224.6,578.5 L1225.8,579.6 L1227.0,580.7 L1228.2,581.7 L1229.4,582.8 L1230.6,583.9 L1231.9,584.9 L1233.1,586.0 L1234.3,587.1 L1235.5,588.1 L1236.7,589.2 L1238.0,590.2 L1239.2,591.3 L1240.4,592.3 L1241.7,593.4 L1242.9,594.4 L1244.1,595.5 L1245.3,596.5 L1246.6,597.6 L1247.8,598.6 L1249.0,599.7 L1250.3,600.7 L1251.5,601.8 L1252.7,602.8 L1254.0,603.9 L1255.2,604.9 L1256.4,606.0 L1257.7,607.0 L1258.9,608.1 L1260.1,609.1 L1261.4,610.2 L1262.6,611.2 L1263.8,612.3 L1265.1,613.3 L1266.3,614.4 L1267.5,615.4 L1268.8,616.5 L1270.0,617.5 L1271.2,618.5 L1272.5,619.6 L1273.7,620.6 L1275.0,621.6 L1276.2,622.7 L1277.5,623.7 L1278.7,624.7 L1280.0,625.7 L1281.3,626.7 L1282.5,627.7 L1283.8,628.7 L1285.1,629.7 L1286.4,630.7 L1287.7,631.6 L1289.0,632.6 L1290.3,633.5 L1291.6,634.5 L1292.9,635.4 L1294.2,636.4 L1295.5,637.3 L1296.9,638.2 L1298.2,639.2 L1299.5,640.1 L1300.8,641.0 L1302.2,642.0 L1303.5,642.9 L1304.8,643.8 L1306.1,644.8 L1307.4,645.7 L1308.7,646.7 L1310.0,647.6 L1311.3,648.6 L1312.6,649.6 L1313.9,650.6 L1315.2,651.6 L1316.5,652.6 L1317.7,653.6 L1319.0,654.6 L1320.2,655.6 L1321.4,656.7 L1322.7,657.7 L1323.9,658.8 L1325.2,659.8 L1326.4,660.8 L1327.7,661.8 L1329.0,662.8 L1330.3,663.7 L1331.6,664.7 L1333.0,665.6 L1334.3,666.4 L1335.7,667.3 L1337.1,668.1 L1338.5,668.9 L1339.9,669.7 L1341.3,670.5 L1342.7,671.3 L1344.2,672.0 L1345.6,672.7 L1347.1,673.4 L1348.6,674.1 L1350.0,674.8 L1351.5,675.5 L1353.0,676.1 L1354.5,676.7 L1356.0,677.4 L1357.5,678.0 L1359.0,678.6 L1360.5,679.2 L1362.1,679.8 L1363.6,680.4 L1365.1,681.0 L1366.6,681.6 L1368.1,682.1 L1369.6,682.7 L1371.1,683.2 L1372.7,683.8 L1374.2,684.3 L1375.7,684.9 L1377.2,685.4 L1378.8,685.9 L1380.3,686.4 L1381.8,686.9 L1383.4,687.4 L1384.9,687.9 L1386.5,688.4 L1388.0,688.9 L1389.6,689.3 L1391.1,689.8 L1392.7,690.2 L1394.2,690.7 L1395.8,691.1 L1397.3,691.5 L1398.9,692.0 L1400.5,692.4 L1402.0,692.9 L1403.6,693.3 L1405.1,693.7 L1406.7,694.2 L1408.2,694.6 L1409.8,695.1 L1411.3,695.6 L1412.9,696.1 L1414.4,696.5 L1416.0,697.0 L1417.5,697.6 L1419.0,698.1 L1420.5,698.7 L1422.0,699.2 L1423.5,699.8 L1425.0,700.4 L1426.5,701.0 L1428.0,701.6 L1429.5,702.2 L1431.0,702.9 L1432.5,703.5 L1434.0,704.1 L1435.5,704.8 L1437.0,705.4 L1438.4,706.1 L1439.9,706.8 L1441.4,707.4 L1442.9,708.1 L1444.4,708.7 L1445.8,709.4 L1447.3,710.0 L1448.8,710.6 L1450.3,711.3 L1451.8,711.9 L1453.3,712.5 L1454.8,713.1 L1456.3,713.7 L1457.8,714.3 L1459.3,714.9 L1460.8,715.6 L1462.3,716.2 L1463.8,716.8 L1465.3,717.4 L1466.8,718.0 L1468.3,718.6 L1469.8,719.3 L1471.2,719.9 L1472.7,720.6 L1474.2,721.2 L1475.7,721.9 L1477.1,722.6 L1478.6,723.3 L1480.0,724.0 L1481.5,724.7 L1482.9,725.5 L1484.4,726.2 L1485.8,727.0 L1487.2,727.8 L1488.6,728.6 L1490.0,729.4 L1491.4,730.2 L1492.8,731.1 L1494.1,732.0 L1495.5,732.9 L1496.8,733.8 L1498.2,734.7 L1499.5,735.6 L1500.8,736.6 L1502.1,737.6 L1503.3,738.6 L1504.6,739.6 L1505.9,740.6 L1507.1,741.6 L1508.4,742.6 L1509.6,743.6 L1510.9,744.7 L1512.1,745.7 L1513.4,746.7 L1514.7,747.7 L1515.9,748.7 L1517.2,749.7 L1518.5,750.7 L1519.8,751.7 L1521.1,752.6 L1522.4,753.6 L1523.7,754.5 L1525.0,755.5 L1526.3,756.4 L1527.6,757.4 L1528.9,758.3 L1530.2,759.3 L1531.5,760.3 L1532.8,761.3 L1534.1,762.2 L1535.4,763.2 L1536.6,764.3 L1537.9,765.3 L1539.1,766.4 L1540.3,767.4 L1541.5,768.5 L1542.7,769.6 L1543.9,770.7 L1545.1,771.8 L1546.3,772.9 L1547.4,774.0 L1548.6,775.1 L1549.8,776.2 L1551.0,777.3 L1552.1,778.4 L1553.3,779.5 L1554.5,780.6 L1555.7,781.7 L1556.9,782.8 L1558.2,783.9 L1559.4,784.9 L1560.6,786.0 L1561.9,787.0 L1563.1,788.0 L1564.4,789.0 L1565.6,790.0 L1566.9,791.0 L1568.2,792.0 L1569.5,793.0 L1570.8,793.9 L1572.1,794.9 L1573.4,795.8 L1574.8,796.7 L1576.1,797.6 L1577.5,798.5 L1578.8,799.4 L1580.2,800.3 L1581.6,801.1 L1582.9,802.0 L1584.3,802.8 L1585.7,803.6 L1587.1,804.5 L1588.5,805.3 L1590.0,806.0 L1591.4,806.8 L1592.8,807.6 L1594.2,808.3 L1595.7,809.1 L1597.1,809.8 L1598.6,810.5 L1600.0,811.2 L1601.5,811.9 L1603.0,812.6 L1604.4,813.3 L1605.9,813.9 L1607.4,814.6 L1608.9,815.2 L1610.4,815.9 L1611.9,816.5 L1613.4,817.1 L1614.9,817.7 L1616.4,818.3 L1617.9,818.9 L1619.4,819.5 L1620.9,820.1 L1622.4,820.6 L1623.9,821.2 L1625.4,821.7 L1627.0,822.3 L1628.5,822.8 L1630.0,823.4 L1631.5,823.9 L1633.1,824.4 L1634.6,825.0 L1636.1,825.5 L1637.7,826.0 L1639.2,826.5 L1640.7,827.0 L1642.3,827.6 L1643.8,828.1 L1645.3,828.6 L1646.9,829.1 L1648.4,829.6 L1650.0,830.1 L1651.5,830.6 L1653.0,831.1 L1654.6,831.5 L1656.1,832.0 L1657.7,832.5 L1659.2,833.0 L1660.8,833.5 L1662.3,833.9 L1663.9,834.4 L1665.4,834.9 L1667.0,835.3 L1668.5,835.8 L1670.1,836.2 L1671.6,836.7 L1673.2,837.1 L1674.7,837.6 L1676.3,838.0 L1677.8,838.4 L1679.4,838.9 L1681.0,839.3 L1682.5,839.7 L1684.1,840.1 L1685.6,840.6 L1687.2,841.0 L1688.8,841.4 L1690.3,841.8 L1691.9,842.2 L1693.5,842.6 L1695.0,843.1 L1696.6,843.5 L1698.1,843.9 L1699.7,844.3 L1701.3,844.7 L1702.8,845.1 L1704.4,845.5 L1706.0,845.9 L1707.5,846.3 L1709.1,846.8 L1710.7,847.2 L1712.2,847.6 L1713.8,848.0 L1715.4,848.4 L1716.9,848.8 L1718.5,849.2 L1720.1,849.6 L1721.6,850.0 L1723.2,850.5 L1724.7,850.9 L1726.3,851.3 L1727.9,851.7 L1729.4,852.1 L1731.0,852.5 L1732.6,852.9 L1734.1,853.3 L1735.7,853.8 L1737.3,854.2 L1738.8,854.6 L1740.4,855.0 L1741.9,855.4 L1743.5,855.8 L1745.1,856.2 L1746.6,856.6 L1748.2,857.0 L1749.8,857.4 L1751.3,857.8 L1752.9,858.2 L1754.5,858.6 L1756.0,859.0 L1757.6,859.4 L1759.2,859.8 L1760.7,860.2 L1762.3,860.6 L1763.9,861.0 L1765.5,861.4 L1767.0,861.8 L1768.6,862.2 L1770.2,862.6 L1771.7,863.0 L1773.3,863.3 L1774.9,863.7 L1776.4,864.1 L1778.0,864.5 L1779.6,864.9 L1781.2,865.2 L1782.7,865.6 L1784.3,866.0 L1785.9,866.4 L1787.5,866.7 L1789.0,867.1 L1790.6,867.5 L1792.2,867.9 L1793.8,868.2 L1795.3,868.6 L1796.9,869.0 L1798.5,869.3 L1800.1,869.7 L1801.6,870.0 L1803.2,870.4 L1804.8,870.7 L1806.4,871.1 L1807.9,871.4 L1809.5,871.8 L1811.1,872.1 L1812.7,872.5 L1814.3,872.8 L1815.8,873.2 L1817.4,873.5 L1819.0,873.9 L1820.6,874.2 L1822.2,874.5 L1823.8,874.9 L1825.3,875.2 L1826.9,875.5 L1828.5,875.9 L1830.1,876.2 L1831.7,876.5 L1833.3,876.9 L1834.8,877.2 L1836.4,877.5 L1838.0,877.8 L1839.6,878.2 L1841.2,878.5 L1842.8,878.8 L1844.3,879.1 L1845.9,879.4 L1847.5,879.8 L1849.1,880.1 L1850.7,880.4 L1852.3,880.7 L1853.9,881.0 L1855.4,881.3 L1857.0,881.7 L1858.6,882.0 L1860.2,882.3 L1861.8,882.6 L1863.4,882.9 L1865.0,883.2 L1866.6,883.5 L1868.1,883.8 L1869.7,884.1 L1871.3,884.4 L1872.9,884.8 L1874.5,885.1 L1876.1,885.4 L1877.7,885.7 L1879.3,886.0 L1880.9,886.3 L1882.4,886.6 L1884.0,886.8 L1885.6,887.1 L1887.2,887.4 L1888.8,887.7 L1890.4,888.0 L1892.0,888.3 L1893.6,888.6 L1895.2,888.9 L1896.8,889.2 L1898.4,889.4 L1900.0,889.7 L1901.5,890.0 L1903.1,890.3 L1904.7,890.5 L1906.3,890.8 L1907.9,891.1 L1909.5,891.4 L1911.1,891.6 L1912.7,891.9 L1914.3,892.2 L1915.9,892.4 L1917.5,892.7 L1919.1,893.0 L1920.7,893.2 L1922.3,893.5 L1923.9,893.8 L1925.5,894.0 L1927.1,894.3 L1928.7,894.5 L1930.3,894.8 L1931.9,895.1 L1933.5,895.3 L1935.0,895.6 L1936.6,895.8 L1938.2,896.1 L1939.8,896.3 L1941.4,896.6 L1943.0,896.8 L1944.6,897.1 L1946.2,897.3 L1947.8,897.6 L1949.4,897.8 L1951.0,898.1 L1952.6,898.3 L1954.2,898.6 L1955.8,898.8 L1957.4,899.1 L1959.0,899.3 L1960.6,899.6 L1962.2,899.8 L1963.8,900.1 L1965.4,900.3 L1967.0,900.6 L1968.6,900.8 L1970.2,901.1 L1971.8,901.3 L1973.4,901.6 L1975.0,901.8" stroke="#087EF5" stroke-width="10.8"/>
<path d="M1085.5,5.0 L1085.4,6.5 L1085.3,8.1 L1085.3,9.6 L1085.2,11.2 L1085.1,12.7 L1085.0,14.3 L1084.9,15.8 L1084.9,17.3 L1084.8,18.9 L1084.7,20.4 L1084.6,22.0 L1084.5,23.5 L1084.4,25.0 L1084.3,26.6 L1084.2,28.1 L1084.1,29.7 L1084.0,31.2 L1083.9,32.8 L1083.8,34.3 L1083.6,35.8 L1083.5,37.4 L1083.4,38.9 L1083.3,40.5 L1083.2,42.0 L1083.0,43.5 L1082.9,45.1 L1082.7,46.6 L1082.6,48.2 L1082.5,49.7 L1082.3,51.2 L1082.2,52.8 L1082.0,54.3 L1081.8,55.8 L1081.7,57.4 L1081.5,58.9 L1081.3,60.4 L1081.2,62.0 L1081.0,63.5 L1080.8,65.0 L1080.6,66.6 L1080.4,68.1 L1080.2,69.6 L1080.1,71.2 L1079.9,72.7 L1079.7,74.2 L1079.5,75.8 L1079.3,77.3 L1079.1,78.8 L1079.0,80.4 L1078.8,81.9 L1078.6,83.5 L1078.5,85.0 L1078.3,86.5 L1078.2,88.1 L1078.0,89.6 L1077.9,91.1 L1077.7,92.7 L1077.6,94.2 L1077.5,95.8 L1077.3,97.3 L1077.2,98.8 L1077.1,100.4 L1077.0,101.9 L1076.9,103.5 L1076.8,105.0 L1076.7,106.5 L1076.6,108.1 L1076.5,109.6 L1076.4,111.2 L1076.3,112.7 L1076.2,114.2 L1076.1,115.8 L1076.0,117.3 L1075.9,118.9 L1075.8,120.4 L1075.7,122.0 L1075.6,123.5 L1075.5,125.0 L1075.5,126.6 L1075.4,128.1 L1075.3,129.7 L1075.2,131.2 L1075.1,132.8 L1075.0,134.3 L1074.9,135.8 L1074.8,137.4 L1074.8,138.9 L1074.7,140.5 L1074.6,142.0 L1074.5,143.6 L1074.4,145.1 L1074.4,146.6 L1074.3,148.2 L1074.2,149.7 L1074.2,151.3 L1074.1,152.8 L1074.1,154.4 L1074.0,155.9 L1074.0,157.4 L1074.0,159.0 L1074.0,160.5 L1074.0,162.1 L1074.0,163.6 L1074.0,165.2 L1074.0,166.7 L1074.0,168.3 L1074.0,169.8 L1074.1,171.3 L1074.1,172.9 L1074.1,174.4 L1074.2,176.0 L1074.2,177.5 L1074.2,179.1 L1074.3,180.6 L1074.3,182.2 L1074.3,183.7 L1074.4,185.2 L1074.4,186.8 L1074.4,188.3 L1074.5,189.9 L1074.5,191.4 L1074.6,193.0 L1074.6,194.5 L1074.7,196.1 L1074.7,197.6 L1074.8,199.1 L1074.8,200.7 L1074.9,202.2 L1075.0,203.8 L1075.0,205.3 L1075.1,206.9 L1075.2,208.4 L1075.3,209.9 L1075.4,211.5 L1075.5,213.0 L1075.6,214.6 L1075.8,216.1 L1075.9,217.6 L1076.0,219.2 L1076.2,220.7 L1076.3,222.3 L1076.5,223.8 L1076.6,225.3 L1076.8,226.9 L1077.0,228.4 L1077.1,229.9 L1077.3,231.5 L1077.5,233.0 L1077.7,234.5 L1077.9,236.1 L1078.0,237.6 L1078.2,239.1 L1078.4,240.7 L1078.5,242.2 L1078.7,243.7 L1078.8,245.3 L1079.0,246.8 L1079.1,248.4 L1079.3,249.9 L1079.4,251.4 L1079.5,253.0 L1079.6,254.5 L1079.8,256.1 L1079.9,257.6 L1080.0,259.1 L1080.1,260.7 L1080.2,262.2 L1080.3,263.8 L1080.4,265.3 L1080.4,266.9 L1080.5,268.4 L1080.6,269.9 L1080.7,271.5 L1080.8,273.0 L1080.8,274.6 L1080.9,276.1 L1081.0,277.7 L1081.1,279.2 L1081.2,280.8 L1081.3,282.3 L1081.4,283.8 L1081.6,285.4 L1081.7,286.9 L1081.9,288.4 L1082.0,290.0 L1082.2,291.5 L1082.4,293.0 L1082.6,294.6 L1082.9,296.1 L1083.1,297.6 L1083.4,299.1 L1083.7,300.7 L1084.0,302.2 L1084.3,303.7 L1084.6,305.2 L1084.9,306.7 L1085.3,308.2 L1085.7,309.7 L1086.0,311.2 L1086.4,312.7 L1086.8,314.2 L1087.2,315.7 L1087.6,317.2 L1088.1,318.7 L1088.5,320.2 L1088.9,321.6 L1089.4,323.1 L1089.8,324.6 L1090.3,326.1 L1090.7,327.6 L1091.2,329.0 L1091.7,330.5 L1092.1,332.0 L1092.6,333.5 L1093.1,334.9 L1093.6,336.4 L1094.1,337.8 L1094.6,339.3 L1095.1,340.8 L1095.6,342.2 L1096.1,343.7 L1096.6,345.1 L1097.2,346.6 L1097.7,348.0 L1098.2,349.5 L1098.7,350.9 L1099.3,352.4 L1099.8,353.8 L1100.4,355.3 L1100.9,356.7 L1101.5,358.2 L1102.0,359.6 L1102.6,361.0 L1103.2,362.5 L1103.8,363.9 L1104.3,365.3 L1104.9,366.8 L1105.5,368.2 L1106.1,369.6 L1106.7,371.0 L1107.4,372.5 L1108.0,373.9 L1108.6,375.3 L1109.3,376.7 L1109.9,378.1 L1110.6,379.5 L1111.2,380.9 L1111.9,382.3 L1112.6,383.7 L1113.3,385.0 L1114.0,386.4 L1114.7,387.8 L1115.4,389.2 L1116.1,390.5 L1116.8,391.9 L1117.5,393.3 L1118.2,394.6 L1119.0,396.0 L1119.7,397.4 L1120.4,398.7 L1121.2,400.1 L1121.9,401.5 L1122.6,402.8 L1123.4,404.2 L1124.1,405.5 L1124.8,406.9 L1125.6,408.3 L1126.3,409.6 L1127.1,411.0 L1127.8,412.3 L1128.6,413.7 L1129.3,415.0 L1130.1,416.3 L1130.9,417.7 L1131.7,419.0 L1132.4,420.3 L1133.2,421.7 L1134.0,423.0 L1134.9,424.3 L1135.7,425.6 L1136.5,426.9 L1137.3,428.2 L1138.2,429.5 L1139.0,430.8 L1139.9,432.1 L1140.8,433.3 L1141.7,434.6 L1142.5,435.9 L1143.4,437.1 L1144.4,438.4 L1145.3,439.6 L1146.2,440.8 L1147.2,442.1 L1148.1,443.3 L1149.1,444.5 L1150.0,445.7 L1151.0,446.9 L1152.0,448.1 L1153.0,449.3 L1154.0,450.5 L1155.0,451.7 L1156.0,452.8 L1157.0,454.0 L1158.0,455.2 L1159.0,456.3 L1160.1,457.5 L1161.1,458.6 L1162.1,459.8 L1163.2,460.9 L1164.2,462.1 L1165.3,463.2 L1166.3,464.3 L1167.4,465.5 L1168.5,466.6 L1169.5,467.7 L1170.6,468.8 L1171.7,469.9 L1172.8,471.0 L1173.9,472.1 L1174.9,473.2 L1176.0,474.3 L1177.1,475.4 L1178.2,476.5 L1179.3,477.6 L1180.4,478.6 L1181.5,479.7 L1182.7,480.8 L1183.8,481.9 L1184.9,482.9 L1186.0,484.0 L1187.1,485.0 L1188.3,486.1 L1189.4,487.1 L1190.5,488.2 L1191.7,489.2 L1192.8,490.3 L1194.0,491.3 L1195.1,492.3 L1196.3,493.4 L1197.4,494.4 L1198.6,495.4 L1199.7,496.5 L1200.9,497.5 L1202.0,498.5 L1203.2,499.5 L1204.4,500.5 L1205.5,501.5 L1206.7,502.5 L1207.9,503.5 L1209.1,504.5 L1210.2,505.5 L1211.4,506.5 L1212.6,507.5 L1213.8,508.5 L1215.0,509.5 L1216.1,510.5 L1217.3,511.5 L1218.5,512.5 L1219.7,513.5 L1220.9,514.5 L1222.1,515.5 L1223.3,516.4 L1224.5,517.4 L1225.7,518.4 L1226.9,519.4 L1228.1,520.3 L1229.3,521.3 L1230.5,522.3 L1231.7,523.3 L1232.9,524.2 L1234.1,525.2 L1235.3,526.2 L1236.5,527.2 L1237.7,528.1 L1238.9,529.1 L1240.1,530.1 L1241.3,531.0 L1242.5,532.0 L1243.7,533.0 L1244.9,533.9 L1246.1,534.9 L1247.3,535.9 L1248.5,536.8 L1249.7,537.8 L1251.0,538.7 L1252.2,539.7 L1253.4,540.6 L1254.6,541.6 L1255.8,542.5 L1257.1,543.4 L1258.3,544.4 L1259.5,545.3 L1260.8,546.2 L1262.0,547.2 L1263.2,548.1 L1264.5,549.0 L1265.7,549.9 L1267.0,550.8 L1268.2,551.7 L1269.5,552.6 L1270.7,553.5 L1272.0,554.4 L1273.3,555.3 L1274.5,556.2 L1275.8,557.1 L1277.1,557.9 L1278.4,558.8 L1279.6,559.7 L1280.9,560.5 L1282.2,561.4 L1283.5,562.2 L1284.8,563.1 L1286.1,564.0 L1287.4,564.8 L1288.6,565.6 L1289.9,566.5 L1291.2,567.3 L1292.5,568.2 L1293.8,569.0 L1295.1,569.9 L1296.4,570.7 L1297.7,571.5 L1299.0,572.4 L1300.3,573.2 L1301.6,574.0 L1302.9,574.9 L1304.2,575.7 L1305.5,576.5 L1306.8,577.4 L1308.1,578.2 L1309.4,579.0 L1310.8,579.9 L1312.1,580.7 L1313.4,581.5 L1314.7,582.3 L1316.0,583.2 L1317.3,584.0 L1318.6,584.8 L1319.9,585.6 L1321.2,586.5 L1322.5,587.3 L1323.8,588.1 L1325.1,588.9 L1326.5,589.7 L1327.8,590.5 L1329.1,591.3 L1330.4,592.1 L1331.7,592.9 L1333.1,593.7 L1334.4,594.5 L1335.7,595.3 L1337.0,596.1 L1338.4,596.9 L1339.7,597.7 L1341.0,598.4 L1342.4,599.2 L1343.7,600.0 L1345.1,600.7 L1346.4,601.5 L1347.7,602.3 L1349.1,603.0 L1350.4,603.7 L1351.8,604.5 L1353.2,605.2 L1354.5,605.9 L1355.9,606.7 L1357.3,607.4 L1358.6,608.1 L1360.0,608.8 L1361.4,609.5 L1362.8,610.2 L1364.1,610.9 L1365.5,611.6 L1366.9,612.3 L1368.3,613.0 L1369.7,613.6 L1371.1,614.3 L1372.5,615.0 L1373.9,615.6 L1375.3,616.3 L1376.7,617.0 L1378.1,617.6 L1379.5,618.3 L1380.9,618.9 L1382.3,619.6 L1383.7,620.2 L1385.1,620.8 L1386.5,621.4 L1387.9,622.1 L1389.3,622.7 L1390.7,623.3 L1392.2,623.9 L1393.6,624.5 L1395.0,625.2 L1396.4,625.8 L1397.8,626.4 L1399.3,627.0 L1400.7,627.6 L1402.1,628.1 L1403.6,628.7 L1405.0,629.3 L1406.4,629.9 L1407.8,630.5 L1409.3,631.1 L1410.7,631.7 L1412.1,632.2 L1413.6,632.8 L1415.0,633.4 L1416.4,634.0 L1417.9,634.5 L1419.3,635.1 L1420.7,635.7 L1422.2,636.2 L1423.6,636.8 L1425.1,637.4 L1426.5,637.9 L1427.9,638.5 L1429.4,639.1 L1430.8,639.6 L1432.2,640.2 L1433.7,640.8 L1435.1,641.3 L1436.5,641.9 L1438.0,642.5 L1439.4,643.1 L1440.8,643.6 L1442.3,644.2 L1443.7,644.8 L1445.1,645.4 L1446.6,645.9 L1448.0,646.5 L1449.4,647.1 L1450.9,647.7 L1452.3,648.3 L1453.7,648.8 L1455.2,649.4 L1456.6,650.0 L1458.0,650.6 L1459.5,651.2 L1460.9,651.7 L1462.3,652.3 L1463.8,652.9 L1465.2,653.5 L1466.6,654.1 L1468.1,654.6 L1469.5,655.2 L1470.9,655.8 L1472.4,656.3 L1473.8,656.9 L1475.2,657.5 L1476.7,658.1 L1478.1,658.6 L1479.5,659.2 L1481.0,659.7 L1482.4,660.3 L1483.9,660.9 L1485.3,661.4 L1486.7,662.0 L1488.2,662.5 L1489.6,663.1 L1491.1,663.6 L1492.5,664.1 L1494.0,664.7 L1495.4,665.2 L1496.9,665.7 L1498.3,666.3 L1499.8,666.8 L1501.2,667.3 L1502.7,667.8 L1504.1,668.4 L1505.6,668.9 L1507.1,669.4 L1508.5,669.9 L1510.0,670.4 L1511.4,671.0 L1512.9,671.5 L1514.3,672.0 L1515.8,672.5 L1517.2,673.1 L1518.7,673.6 L1520.1,674.1 L1521.6,674.6 L1523.0,675.2 L1524.5,675.7 L1525.9,676.2 L1527.4,676.8 L1528.8,677.3 L1530.3,677.9 L1531.7,678.4 L1533.1,679.0 L1534.6,679.6 L1536.0,680.1 L1537.5,680.7 L1538.9,681.3 L1540.3,681.9 L1541.7,682.5 L1543.2,683.1 L1544.6,683.7 L1546.0,684.3 L1547.4,684.9 L1548.8,685.5 L1550.2,686.2 L1551.7,686.8 L1553.1,687.4 L1554.5,688.1 L1555.9,688.7 L1557.3,689.4 L1558.7,690.0 L1560.1,690.7 L1561.5,691.3 L1562.9,692.0 L1564.3,692.7 L1565.7,693.3 L1567.0,694.0 L1568.4,694.7 L1569.8,695.4 L1571.2,696.1 L1572.6,696.7 L1574.0,697.4 L1575.3,698.1 L1576.7,698.8 L1578.1,699.5 L1579.5,700.2 L1580.9,700.9 L1582.2,701.6 L1583.6,702.3 L1585.0,703.0 L1586.4,703.7 L1587.7,704.4 L1589.1,705.1 L1590.5,705.8 L1591.9,706.5 L1593.2,707.2 L1594.6,707.9 L1596.0,708.7 L1597.4,709.4 L1598.7,710.1 L1600.1,710.8 L1601.5,711.5 L1602.9,712.2 L1604.3,712.9 L1605.6,713.5 L1607.0,714.2 L1608.4,714.9 L1609.8,715.6 L1611.2,716.3 L1612.5,717.0 L1613.9,717.7 L1615.3,718.5 L1616.7,719.2 L1618.0,719.9 L1619.4,720.6 L1620.8,721.3 L1622.1,722.0 L1623.5,722.7 L1624.9,723.5 L1626.2,724.2 L1627.6,725.0 L1628.9,725.7 L1630.3,726.5 L1631.6,727.2 L1633.0,728.0 L1634.3,728.8 L1635.6,729.5 L1636.9,730.3 L1638.3,731.1 L1639.6,731.9 L1640.9,732.8 L1642.2,733.6 L1643.5,734.4 L1644.8,735.3 L1646.1,736.1 L1647.4,737.0 L1648.6,737.8 L1649.9,738.7 L1651.2,739.6 L1652.5,740.4 L1653.7,741.3 L1655.0,742.2 L1656.3,743.1 L1657.5,744.0 L1658.8,744.9 L1660.1,745.8 L1661.3,746.7 L1662.6,747.6 L1663.8,748.5 L1665.1,749.4 L1666.4,750.3 L1667.6,751.1 L1668.9,752.0 L1670.1,752.9 L1671.4,753.8 L1672.7,754.7 L1673.9,755.6 L1675.2,756.5 L1676.5,757.3 L1677.8,758.2 L1679.0,759.1 L1680.3,760.0 L1681.6,760.8 L1682.9,761.7 L1684.1,762.5 L1685.4,763.4 L1686.7,764.3 L1688.0,765.1 L1689.3,765.9 L1690.6,766.8 L1691.9,767.6 L1693.2,768.5 L1694.5,769.3 L1695.8,770.1 L1697.1,770.9 L1698.4,771.8 L1699.7,772.6 L1701.1,773.4 L1702.4,774.2 L1703.7,774.9 L1705.1,775.7 L1706.4,776.5 L1707.8,777.2 L1709.1,778.0 L1710.5,778.7 L1711.8,779.4 L1713.2,780.1 L1714.6,780.8 L1716.0,781.5 L1717.4,782.2 L1718.8,782.8 L1720.2,783.5 L1721.6,784.1 L1723.0,784.8 L1724.4,785.4 L1725.8,786.0 L1727.2,786.6 L1728.7,787.2 L1730.1,787.8 L1731.5,788.4 L1732.9,789.0 L1734.4,789.6 L1735.8,790.2 L1737.2,790.8 L1738.7,791.3 L1740.1,791.9 L1741.5,792.4 L1743.0,793.0 L1744.4,793.5 L1745.9,794.1 L1747.3,794.6 L1748.8,795.1 L1750.3,795.6 L1751.7,796.1 L1753.2,796.6 L1754.7,797.0 L1756.1,797.5 L1757.6,798.0 L1759.1,798.4 L1760.6,798.9 L1762.0,799.3 L1763.5,799.8 L1765.0,800.2 L1766.5,800.6 L1768.0,801.1 L1769.4,801.5 L1770.9,801.9 L1772.4,802.4 L1773.9,802.8 L1775.4,803.2 L1776.9,803.7 L1778.4,804.1 L1779.8,804.5 L1781.3,804.9 L1782.8,805.3 L1784.3,805.7 L1785.8,806.2 L1787.3,806.6 L1788.8,807.0 L1790.3,807.4 L1791.8,807.7 L1793.3,808.1 L1794.8,808.5 L1796.3,808.9 L1797.8,809.3 L1799.3,809.6 L1800.8,810.0 L1802.3,810.3 L1803.8,810.7 L1805.3,811.0 L1806.8,811.4 L1808.3,811.7 L1809.8,812.0 L1811.3,812.3 L1812.8,812.7 L1814.3,813.0 L1815.8,813.3 L1817.3,813.6 L1818.9,813.9 L1820.4,814.2 L1821.9,814.5 L1823.4,814.8 L1824.9,815.1 L1826.4,815.4 L1828.0,815.7 L1829.5,816.0 L1831.0,816.3 L1832.5,816.5 L1834.0,816.8 L1835.6,817.1 L1837.1,817.4 L1838.6,817.7 L1840.1,818.0 L1841.6,818.2 L1843.2,818.5 L1844.7,818.8 L1846.2,819.1 L1847.7,819.4 L1849.2,819.7 L1850.7,819.9 L1852.3,820.2 L1853.8,820.5 L1855.3,820.8 L1856.8,821.1 L1858.3,821.4 L1859.9,821.7 L1861.4,822.0 L1862.9,822.3 L1864.4,822.6 L1865.9,822.9 L1867.4,823.2 L1868.9,823.5 L1870.5,823.8 L1872.0,824.1 L1873.5,824.4 L1875.0,824.7 L1876.5,825.0 L1878.0,825.3 L1879.5,825.6 L1881.1,825.9 L1882.6,826.2 L1884.1,826.5 L1885.6,826.8 L1887.1,827.1 L1888.6,827.4 L1890.1,827.7 L1891.7,828.0 L1893.2,828.3 L1894.7,828.6 L1896.2,828.9 L1897.7,829.2 L1899.2,829.5 L1900.7,829.8 L1902.3,830.2 L1903.8,830.5 L1905.3,830.8 L1906.8,831.1 L1908.3,831.4 L1909.8,831.7 L1911.3,832.0 L1912.9,832.3 L1914.4,832.6 L1915.9,832.9 L1917.4,833.2 L1918.9,833.5 L1920.4,833.8 L1922.0,834.1 L1923.5,834.4 L1925.0,834.7 L1926.5,835.0 L1928.0,835.3 L1929.5,835.6 L1931.0,835.9 L1932.6,836.2 L1934.1,836.4 L1935.6,836.7 L1937.1,837.0 L1938.6,837.3 L1940.1,837.6 L1941.7,837.9 L1943.2,838.2 L1944.7,838.5 L1946.2,838.8 L1947.7,839.1 L1949.2,839.4 L1950.8,839.7 L1952.3,840.0 L1953.8,840.3 L1955.3,840.6 L1956.8,840.9 L1958.3,841.2 L1959.8,841.5 L1961.4,841.8 L1962.9,842.1 L1964.4,842.4 L1965.9,842.7 L1967.4,843.0 L1968.9,843.3 L1970.5,843.6 L1972.0,843.9 L1973.5,844.2 L1975.0,844.5" stroke="#F2263A" stroke-width="10.8"/>
<path d="M1075.0,5.0 L1075.0,6.8 L1075.0,8.7 L1075.0,10.5 L1075.0,12.4 L1075.0,14.2 L1075.1,16.1 L1075.1,17.9 L1075.1,19.8 L1075.1,21.6 L1075.1,23.4 L1075.1,25.3 L1075.2,27.1 L1075.2,29.0 L1075.2,30.8 L1075.3,32.7 L1075.3,34.5 L1075.3,36.3 L1075.4,38.2 L1075.4,40.0 L1075.5,41.9 L1075.5,43.7 L1075.5,45.6 L1075.6,47.4 L1075.6,49.3 L1075.7,51.1 L1075.7,52.9 L1075.8,54.8 L1075.8,56.6 L1075.9,58.5 L1075.9,60.3 L1076.0,62.2 L1076.0,64.0 L1076.1,65.8 L1076.2,67.7 L1076.2,69.5 L1076.3,71.4 L1076.3,73.2 L1076.4,75.1 L1076.5,76.9 L1076.6,78.7 L1076.6,80.6 L1076.7,82.4 L1076.8,84.3 L1076.9,86.1 L1076.9,88.0 L1077.0,89.8 L1077.1,91.6 L1077.2,93.5 L1077.3,95.3 L1077.4,97.2 L1077.5,99.0 L1077.6,100.8 L1077.7,102.7 L1077.8,104.5 L1077.9,106.4 L1078.0,108.2 L1078.1,110.1 L1078.2,111.9 L1078.4,113.7 L1078.5,115.6 L1078.6,117.4 L1078.7,119.3 L1078.8,121.1 L1078.9,122.9 L1079.0,124.8 L1079.1,126.6 L1079.2,128.5 L1079.3,130.3 L1079.4,132.2 L1079.5,134.0 L1079.6,135.8 L1079.7,137.7 L1079.8,139.5 L1079.9,141.4 L1080.0,143.2 L1080.1,145.1 L1080.2,146.9 L1080.3,148.7 L1080.5,150.6 L1080.6,152.4 L1080.7,154.2 L1080.9,156.1 L1081.0,157.9 L1081.2,159.7 L1081.4,161.6 L1081.6,163.4 L1081.8,165.2 L1082.1,167.1 L1082.3,168.9 L1082.6,170.7 L1082.9,172.6 L1083.2,174.4 L1083.5,176.2 L1083.8,178.0 L1084.1,179.9 L1084.5,181.7 L1084.8,183.5 L1085.2,185.3 L1085.5,187.1 L1085.9,188.9 L1086.3,190.7 L1086.8,192.5 L1087.2,194.2 L1087.7,196.0 L1088.2,197.8 L1088.7,199.6 L1089.3,201.4 L1089.8,203.1 L1090.4,204.9 L1091.0,206.6 L1091.6,208.4 L1092.3,210.1 L1092.9,211.8 L1093.6,213.5 L1094.3,215.2 L1095.1,216.9 L1095.9,218.6 L1096.7,220.2 L1097.6,221.9 L1098.4,223.5 L1099.3,225.1 L1100.2,226.7 L1101.2,228.3 L1102.1,229.9 L1103.1,231.4 L1104.2,232.9 L1105.3,234.4 L1106.4,235.9 L1107.5,237.4 L1108.6,238.8 L1109.7,240.3 L1110.7,241.9 L1111.8,243.4 L1112.8,244.9 L1113.8,246.5 L1114.8,248.0 L1115.8,249.6 L1116.8,251.1 L1117.9,252.6 L1118.9,254.1 L1120.0,255.7 L1121.0,257.2 L1122.1,258.7 L1123.1,260.2 L1124.2,261.7 L1125.3,263.2 L1126.3,264.7 L1127.4,266.2 L1128.5,267.7 L1129.5,269.2 L1130.6,270.7 L1131.7,272.2 L1132.8,273.7 L1133.9,275.2 L1134.9,276.7 L1136.0,278.1 L1137.1,279.6 L1138.2,281.1 L1139.3,282.6 L1140.4,284.1 L1141.5,285.6 L1142.6,287.0 L1143.7,288.5 L1144.8,290.0 L1145.9,291.5 L1147.0,293.0 L1148.1,294.4 L1149.2,295.9 L1150.3,297.4 L1151.4,298.9 L1152.6,300.3 L1153.7,301.8 L1154.8,303.3 L1155.9,304.8 L1157.0,306.2 L1158.1,307.7 L1159.2,309.2 L1160.3,310.6 L1161.5,312.1 L1162.6,313.6 L1163.7,315.0 L1164.8,316.5 L1165.9,318.0 L1167.0,319.5 L1168.2,320.9 L1169.3,322.4 L1170.4,323.9 L1171.5,325.3 L1172.6,326.8 L1173.7,328.3 L1174.8,329.7 L1176.0,331.2 L1177.1,332.7 L1178.2,334.2 L1179.3,335.6 L1180.4,337.1 L1181.5,338.6 L1182.6,340.1 L1183.7,341.5 L1184.8,343.0 L1185.9,344.5 L1187.0,346.0 L1188.1,347.5 L1189.2,348.9 L1190.3,350.4 L1191.4,351.9 L1192.5,353.4 L1193.6,354.9 L1194.7,356.3 L1195.8,357.8 L1196.9,359.3 L1198.0,360.8 L1199.1,362.3 L1200.2,363.7 L1201.3,365.2 L1202.4,366.7 L1203.5,368.2 L1204.6,369.7 L1205.7,371.1 L1206.8,372.6 L1207.9,374.1 L1209.0,375.6 L1210.1,377.1 L1211.2,378.5 L1212.3,380.0 L1213.4,381.5 L1214.5,383.0 L1215.6,384.5 L1216.7,385.9 L1217.8,387.4 L1218.9,388.9 L1220.0,390.4 L1221.1,391.9 L1222.2,393.3 L1223.3,394.8 L1224.4,396.3 L1225.5,397.8 L1226.6,399.3 L1227.7,400.7 L1228.8,402.2 L1229.9,403.7 L1231.0,405.2 L1232.1,406.7 L1233.2,408.1 L1234.3,409.6 L1235.4,411.1 L1236.5,412.6 L1237.6,414.1 L1238.7,415.5 L1239.8,417.0 L1240.9,418.5 L1242.0,420.0 L1243.1,421.5 L1244.2,422.9 L1245.3,424.4 L1246.4,425.9 L1247.5,427.4 L1248.6,428.9 L1249.7,430.3 L1250.8,431.8 L1251.9,433.3 L1253.0,434.8 L1254.1,436.3 L1255.2,437.7 L1256.3,439.2 L1257.4,440.7 L1258.5,442.2 L1259.6,443.7 L1260.7,445.1 L1261.8,446.6 L1262.9,448.1 L1264.0,449.6 L1265.1,451.1 L1266.2,452.5 L1267.3,454.0 L1268.4,455.5 L1269.5,457.0 L1270.6,458.5 L1271.7,460.0 L1272.8,461.4 L1273.9,462.9 L1275.0,464.4 L1276.1,465.9 L1277.2,467.4 L1278.3,468.8 L1279.4,470.3 L1280.5,471.8 L1281.6,473.3 L1282.7,474.8 L1283.8,476.2 L1284.9,477.7 L1286.0,479.2 L1287.1,480.7 L1288.2,482.2 L1289.3,483.7 L1290.4,485.1 L1291.5,486.6 L1292.6,488.1 L1293.7,489.6 L1294.8,491.1 L1295.9,492.5 L1297.0,494.0 L1298.1,495.5 L1299.2,497.0 L1300.3,498.5 L1301.4,500.0 L1302.4,501.4 L1303.5,502.9 L1304.6,504.4 L1305.7,505.9 L1306.8,507.4 L1307.9,508.8 L1309.0,510.3 L1310.1,511.8 L1311.2,513.3 L1312.3,514.8 L1313.4,516.3 L1314.5,517.7 L1315.6,519.2 L1316.7,520.7 L1317.8,522.2 L1318.9,523.7 L1320.0,525.1 L1321.1,526.6 L1322.2,528.1 L1323.3,529.6 L1324.4,531.1 L1325.5,532.6 L1326.6,534.0 L1327.7,535.5 L1328.8,537.0 L1329.9,538.5 L1331.0,540.0 L1332.1,541.4 L1333.2,542.9 L1334.3,544.4 L1335.4,545.9 L1336.5,547.4 L1337.6,548.9 L1338.7,550.3 L1339.8,551.8 L1340.9,553.3 L1342.0,554.8 L1343.1,556.3 L1344.2,557.7 L1345.3,559.2 L1346.4,560.7 L1347.5,562.2 L1348.6,563.7 L1349.7,565.1 L1350.8,566.6 L1351.9,568.1 L1353.0,569.6 L1354.1,571.1 L1355.2,572.5 L1356.3,574.0 L1357.4,575.5 L1358.5,577.0 L1359.6,578.5 L1360.7,580.0 L1361.8,581.4 L1362.8,582.9 L1363.9,584.4 L1365.0,585.9 L1366.1,587.4 L1367.2,588.8 L1368.3,590.3 L1369.4,591.8 L1370.5,593.3 L1371.6,594.8 L1372.7,596.2 L1373.8,597.7 L1374.9,599.2 L1376.0,600.7 L1377.1,602.2 L1378.2,603.7 L1379.3,605.1 L1380.4,606.6 L1381.5,608.1 L1382.6,609.6 L1383.7,611.1 L1384.8,612.5 L1385.9,614.0 L1387.0,615.5 L1388.1,617.0 L1389.2,618.5 L1390.3,619.9 L1391.4,621.4 L1392.5,622.9 L1393.6,624.4 L1394.7,625.9 L1395.8,627.3 L1396.9,628.8 L1398.0,630.3 L1399.1,631.8 L1400.2,633.3 L1401.3,634.7 L1402.4,636.2 L1403.5,637.7 L1404.6,639.2 L1405.7,640.7 L1406.8,642.1 L1407.9,643.6 L1409.0,645.1 L1410.1,646.6 L1411.2,648.1 L1412.3,649.5 L1413.4,651.0 L1414.5,652.5 L1415.6,654.0 L1416.7,655.5 L1417.8,656.9 L1418.9,658.4 L1420.0,659.9 L1421.1,661.4 L1422.2,662.8 L1423.3,664.3 L1424.4,665.8 L1425.5,667.3 L1426.6,668.8 L1427.8,670.2 L1428.9,671.7 L1430.0,673.2 L1431.1,674.7 L1432.2,676.1 L1433.3,677.6 L1434.4,679.1 L1435.5,680.6 L1436.6,682.0 L1437.7,683.5 L1438.8,685.0 L1439.9,686.5 L1441.0,688.0 L1442.1,689.4 L1443.2,690.9 L1444.3,692.4 L1445.4,693.8 L1446.5,695.3 L1447.7,696.8 L1448.8,698.3 L1449.9,699.7 L1451.0,701.2 L1452.1,702.7 L1453.2,704.2 L1454.3,705.6 L1455.4,707.1 L1456.5,708.6 L1457.6,710.1 L1458.7,711.5 L1459.9,713.0 L1461.0,714.5 L1462.1,716.0 L1463.2,717.4 L1464.3,718.9 L1465.4,720.4 L1466.5,721.8 L1467.6,723.3 L1468.7,724.8 L1469.8,726.3 L1471.0,727.7 L1472.1,729.2 L1473.2,730.7 L1474.3,732.1 L1475.4,733.6 L1476.5,735.1 L1477.6,736.6 L1478.7,738.0 L1479.8,739.5 L1481.0,741.0 L1482.1,742.4 L1483.2,743.9 L1484.3,745.4 L1485.4,746.9 L1486.5,748.3 L1487.6,749.8 L1488.7,751.3 L1489.9,752.7 L1491.0,754.2 L1492.1,755.7 L1493.2,757.1 L1494.3,758.6 L1495.4,760.1 L1496.5,761.6 L1497.7,763.0 L1498.8,764.5 L1499.9,766.0 L1501.0,767.4 L1502.1,768.9 L1503.2,770.4 L1504.3,771.8 L1505.5,773.3 L1506.6,774.8 L1507.7,776.2 L1508.8,777.7 L1509.9,779.2 L1511.0,780.7 L1512.1,782.1 L1513.3,783.6 L1514.4,785.1 L1515.5,786.5 L1516.6,788.0 L1517.7,789.5 L1518.8,790.9 L1519.9,792.4 L1521.1,793.9 L1522.2,795.3 L1523.3,796.8 L1524.4,798.3 L1525.5,799.7 L1526.6,801.2 L1527.8,802.7 L1528.9,804.2 L1530.0,805.6 L1531.1,807.1 L1532.2,808.6 L1533.3,810.0 L1534.5,811.5 L1535.6,813.0 L1536.7,814.4 L1537.8,815.9 L1538.9,817.4 L1540.0,818.8 L1541.1,820.3 L1542.3,821.8 L1543.4,823.2 L1544.5,824.7 L1545.6,826.2 L1546.7,827.6 L1547.8,829.1 L1549.0,830.6 L1550.1,832.1 L1551.2,833.5 L1552.3,835.0 L1553.4,836.5 L1554.5,837.9 L1555.6,839.4 L1556.8,840.9 L1557.9,842.3 L1559.0,843.8 L1560.1,845.3 L1561.2,846.7 L1562.3,848.2 L1563.5,849.7 L1564.6,851.1 L1565.7,852.6 L1566.8,854.1 L1567.9,855.5 L1569.0,857.0 L1570.1,858.5 L1571.3,860.0 L1572.4,861.4 L1573.5,862.9 L1574.6,864.4 L1575.7,865.8 L1576.8,867.3 L1578.0,868.8 L1579.1,870.2 L1580.2,871.7 L1581.3,873.2 L1582.4,874.6 L1583.5,876.1 L1584.6,877.6 L1585.8,879.1 L1586.9,880.5 L1588.0,882.0 L1589.1,883.5 L1590.2,884.9 L1591.3,886.4 L1592.4,887.9 L1593.6,889.3 L1594.7,890.8 L1595.8,892.3 L1596.9,893.7 L1598.0,895.2 L1599.1,896.7 L1600.2,898.2 L1601.3,899.6 L1602.5,901.1 L1603.6,902.6 L1604.7,904.0 L1605.8,905.5 L1606.9,907.0 L1608.0,908.5 L1609.1,909.9 L1610.2,911.4 L1611.4,912.9 L1612.5,914.3 L1613.6,915.8 L1614.7,917.3 L1615.8,918.8 L1616.9,920.2 L1618.0,921.7 L1619.1,923.2 L1620.2,924.6 L1621.4,926.1 L1622.5,927.6 L1623.6,929.1 L1624.7,930.5 L1625.8,932.0" stroke="#44484B" stroke-width="10.8"/>
</g>
<rect x="296.6" y="239.6" width="23.4" height="23.4" rx="1" fill="#000"/>
<rect x="446.5" y="338.3" width="23.4" height="23.4" rx="1" fill="#000"/>
<rect x="595.9" y="444.1" width="23.4" height="23.4" rx="1" fill="#000"/>
<rect x="745.5" y="554.1" width="23.4" height="23.4" rx="1" fill="#000"/>
<rect x="895.2" y="673.0" width="23.4" height="23.4" rx="1" fill="#000"/>
<rect x="1104.5" y="238.7" width="23.4" height="23.4" rx="1" fill="#000"/>
<rect x="1178.1" y="338.0" width="23.4" height="23.4" rx="1" fill="#000"/>
<rect x="1256.7" y="443.8" width="23.4" height="23.4" rx="1" fill="#000"/>
<rect x="1338.6" y="554.3" width="23.4" height="23.4" rx="1" fill="#000"/>
<rect x="1426.8" y="672.9" width="23.4" height="23.4" rx="1" fill="#000"/>
<rect x="1065.7" y="239.0" width="23.4" height="23.4" rx="1" fill="#000"/>
<rect x="1069.6" y="335.7" width="23.4" height="23.4" rx="1" fill="#000"/>
<rect x="1104.6" y="436.4" width="23.4" height="23.4" rx="1" fill="#000"/>
<rect x="1183.5" y="539.8" width="23.4" height="23.4" rx="1" fill="#000"/>
<rect x="1318.0" y="651.6" width="23.4" height="23.4" rx="1" fill="#000"/>
<line x1="604.0" y1="74" x2="699.1" y2="74" stroke="#B22222" stroke-width="9.4"/>
<line x1="604.0" y1="134" x2="699.1" y2="134" stroke="#CD853F" stroke-width="9.4"/>
<line x1="604.0" y1="193.7" x2="699.1" y2="193.7" stroke="#228B22" stroke-width="9.4"/>
<line x1="608.2" y1="253.3" x2="694" y2="253.3" stroke="#FF0000" stroke-width="9.4" stroke-dasharray="35.3 14.7"/>
<line x1="608.2" y1="313" x2="694" y2="313" stroke="#FFA500" stroke-width="9.4" stroke-dasharray="35.3 14.7"/>
<line x1="608.2" y1="372.7" x2="694" y2="372.7" stroke="#3CB371" stroke-width="9.4" stroke-dasharray="35.3 14.7"/>
<line x1="1715.1999999999998" y1="74" x2="1811.8000000000002" y2="74" stroke="#087EF5" stroke-width="10.8"/>
<line x1="1715.1999999999998" y1="133.6" x2="1811.8000000000002" y2="133.6" stroke="#F2263A" stroke-width="10.8"/>
<line x1="1715.1999999999998" y1="193.7" x2="1811.8000000000002" y2="193.7" stroke="#44484B" stroke-width="10.8"/>
<text transform="translate(52.83,34.50) scale(1.2201,1)" font-size="39.6" style="font-family:'Liberation Serif',serif;font-weight:normal;stroke:#000;stroke-width:1.2px;stroke-linejoin:miter">10</text>
<text transform="translate(101.77,19.93) scale(1.6189,1)" font-size="27.6" style="font-family:'Liberation Serif',serif;font-weight:normal;stroke:#000;stroke-width:0.85px;stroke-linejoin:miter">−</text>
<text transform="translate(128.09,19.93) scale(1.2814,1)" font-size="27.6" style="font-family:'Liberation Serif',serif;font-weight:normal;stroke:#000;stroke-width:0.85px;stroke-linejoin:miter">2</text>
<text transform="translate(79.59,232.72) scale(1.2343,1)" font-size="39.6" style="font-family:'Liberation Serif',serif;font-weight:normal;stroke:#000;stroke-width:1.2px;stroke-linejoin:miter">10</text>
<text transform="translate(126.99,218.15) scale(1.2187,1)" font-size="27.6" style="font-family:'Liberation Serif',serif;font-weight:normal;stroke:#000;stroke-width:0.85px;stroke-linejoin:miter">0</text>
<text transform="translate(79.59,430.94) scale(1.2343,1)" font-size="39.6" style="font-family:'Liberation Serif',serif;font-weight:normal;stroke:#000;stroke-width:1.2px;stroke-linejoin:miter">10</text>
<text transform="translate(126.56,416.37) scale(1.3079,1)" font-size="27.6" style="font-family:'Liberation Serif',serif;font-weight:normal;stroke:#000;stroke-width:0.85px;stroke-linejoin:miter">2</text>
<text transform="translate(79.59,629.17) scale(1.2343,1)" font-size="39.6" style="font-family:'Liberation Serif',serif;font-weight:normal;stroke:#000;stroke-width:1.2px;stroke-linejoin:miter">10</text>
<text transform="translate(127.37,614.59) scale(1.1409,1)" font-size="27.6" style="font-family:'Liberation Serif',serif;font-weight:normal;stroke:#000;stroke-width:0.85px;stroke-linejoin:miter">4</text>
<text transform="translate(79.59,827.39) scale(1.2343,1)" font-size="39.6" style="font-family:'Liberation Serif',serif;font-weight:normal;stroke:#000;stroke-width:1.2px;stroke-linejoin:miter">10</text>
<text transform="translate(126.62,812.81) scale(1.2471,1)" font-size="27.6" style="font-family:'Liberation Serif',serif;font-weight:normal;stroke:#000;stroke-width:0.85px;stroke-linejoin:miter">6</text>
<text transform="translate(112.37,954.50) scale(1.2087,1)" font-size="39.6" style="font-family:'Liberation Serif',serif;font-weight:normal;stroke:#000;stroke-width:1.2px;stroke-linejoin:miter">10</text>
<text transform="translate(162.43,939.23) scale(1.5032,1)" font-size="27.6" style="font-family:'Liberation Serif',serif;font-weight:normal;stroke:#000;stroke-width:0.85px;stroke-linejoin:miter">−</text>
<text transform="translate(184.21,939.23) scale(1.3803,1)" font-size="27.6" style="font-family:'Liberation Serif',serif;font-weight:normal;stroke:#000;stroke-width:0.85px;stroke-linejoin:miter">7</text>
<text transform="translate(411.70,954.50) scale(1.2087,1)" font-size="39.6" style="font-family:'Liberation Serif',serif;font-weight:normal;stroke:#000;stroke-width:1.2px;stroke-linejoin:miter">10</text>
<text transform="translate(461.76,939.23) scale(1.5032,1)" font-size="27.6" style="font-family:'Liberation Serif',serif;font-weight:normal;stroke:#000;stroke-width:0.85px;stroke-linejoin:miter">−</text>
<text transform="translate(483.93,939.23) scale(1.3803,1)" font-size="27.6" style="font-family:'Liberation Serif',serif;font-weight:normal;stroke:#000;stroke-width:0.85px;stroke-linejoin:miter">5</text>
<text transform="translate(711.04,954.50) scale(1.2087,1)" font-size="39.6" style="font-family:'Liberation Serif',serif;font-weight:normal;stroke:#000;stroke-width:1.2px;stroke-linejoin:miter">10</text>
<text transform="translate(761.09,939.23) scale(1.5032,1)" font-size="27.6" style="font-family:'Liberation Serif',serif;font-weight:normal;stroke:#000;stroke-width:0.85px;stroke-linejoin:miter">−</text>
<text transform="translate(783.68,939.23) scale(1.3482,1)" font-size="27.6" style="font-family:'Liberation Serif',serif;font-weight:normal;stroke:#000;stroke-width:0.85px;stroke-linejoin:miter">3</text>
<text transform="translate(1009.68,954.50) scale(1.2059,1)" font-size="39.6" style="font-family:'Liberation Serif',serif;font-weight:normal;stroke:#000;stroke-width:1.2px;stroke-linejoin:miter">10</text>
<text transform="translate(1057.93,939.23) scale(1.5032,1)" font-size="27.6" style="font-family:'Liberation Serif',serif;font-weight:normal;stroke:#000;stroke-width:0.85px;stroke-linejoin:miter">−</text>
<text transform="translate(1080.08,939.23) scale(1.6405,1)" font-size="27.6" style="font-family:'Liberation Serif',serif;font-weight:normal;stroke:#000;stroke-width:0.85px;stroke-linejoin:miter">1</text>
<text transform="translate(1144.16,954.50) scale(1.2132,1)" font-size="39.6" style="font-family:'Liberation Serif',serif;font-weight:normal;stroke:#000;stroke-width:1.2px;stroke-linejoin:miter">1000</text>
<text transform="translate(1298.24,954.50) scale(1.1880,1)" font-size="39.6" style="font-family:'Liberation Serif',serif;font-weight:normal;stroke:#000;stroke-width:1.2px;stroke-linejoin:miter">2000</text>
<text transform="translate(1450.36,954.50) scale(1.1880,1)" font-size="39.6" style="font-family:'Liberation Serif',serif;font-weight:normal;stroke:#000;stroke-width:1.2px;stroke-linejoin:miter">3000</text>
<text transform="translate(1603.90,954.50) scale(1.1699,1)" font-size="39.6" style="font-family:'Liberation Serif',serif;font-weight:normal;stroke:#000;stroke-width:1.2px;stroke-linejoin:miter">4000</text>
<text transform="translate(1754.12,954.50) scale(1.1942,1)" font-size="39.6" style="font-family:'Liberation Serif',serif;font-weight:normal;stroke:#000;stroke-width:1.2px;stroke-linejoin:miter">5000</text>
<text transform="translate(1906.72,954.50) scale(1.1880,1)" font-size="39.6" style="font-family:'Liberation Serif',serif;font-weight:normal;stroke:#000;stroke-width:1.2px;stroke-linejoin:miter">6000</text>
<text transform="translate(552.57,996.10) scale(1.2532,1)" font-size="42.5" style="font-family:'Liberation Serif',serif;font-weight:normal;stroke:#000;stroke-width:1.2px;stroke-linejoin:miter;font-style:italic">x</text>
<text transform="translate(1841.00,89.00) scale(1.1737,1)" font-size="42.6" style="font-family:'Liberation Serif',serif;font-weight:normal;stroke:#000;stroke-width:1.2px;stroke-linejoin:miter">C2</text>
<text transform="translate(1841.00,148.80) scale(1.1716,1)" font-size="42.6" style="font-family:'Liberation Serif',serif;font-weight:normal;stroke:#000;stroke-width:1.2px;stroke-linejoin:miter">C3</text>
<text transform="translate(1840.15,208.60) scale(1.1154,1)" font-size="42.6" style="font-family:'Liberation Serif',serif;font-weight:normal;stroke:#000;stroke-width:1.2px;stroke-linejoin:miter">S24</text>
<text transform="translate(1573.97,614.12) scale(1.1500,1)" font-size="31.8" letter-spacing="0.253" style="font-family:'Liberation Serif',serif;font-weight:normal;stroke:#000;stroke-width:0.85px;stroke-linejoin:miter">Liquid</text>
<text transform="translate(1268.41,797.33) scale(1.1500,1)" font-size="31.8" letter-spacing="0.304" style="font-family:'Liberation Serif',serif;font-weight:normal;stroke:#000;stroke-width:0.85px;stroke-linejoin:miter">Solid</text>
<text transform="translate(0,1005.80) scale(1.15,1)" font-size="42.6" style="font-family:'Liberation Serif',serif;font-weight:normal;stroke:#000;stroke-width:1.2px;stroke-linejoin:miter"><tspan x="1153.49" letter-spacing="2.004">Temperature </tspan><tspan x="1401.77" letter-spacing="1.227">(K)</tspan></text>
<text transform="translate(32.50,0) rotate(-90) scale(1.15,1)" font-size="42.6" style="font-family:'Liberation Serif',serif;font-weight:normal;stroke:#000;stroke-width:1.2px;stroke-linejoin:miter"><tspan x="-536.50" letter-spacing="1.487">Pressure </tspan><tspan x="-368.66" letter-spacing="2.713">(bar)</tspan></text>
<text transform="translate(0,89.00) scale(1.15,1)" font-size="42.6" style="font-family:'Liberation Serif',serif;font-weight:normal;stroke:#000;stroke-width:1.2px;stroke-linejoin:miter"><tspan x="633.43" letter-spacing="1.797">C2, </tspan><tspan x="704.19" letter-spacing="-0.644">Fe</tspan></text>
<text transform="translate(0,148.90) scale(1.15,1)" font-size="42.6" style="font-family:'Liberation Serif',serif;font-weight:normal;stroke:#000;stroke-width:1.2px;stroke-linejoin:miter"><tspan x="633.43" letter-spacing="1.797">C2, </tspan><tspan x="704.19" letter-spacing="1.430">Earthlike</tspan></text>
<text transform="translate(0,208.50) scale(1.15,1)" font-size="42.6" style="font-family:'Liberation Serif',serif;font-weight:normal;stroke:#000;stroke-width:1.2px;stroke-linejoin:miter"><tspan x="633.43" letter-spacing="1.797">C2, </tspan><tspan x="702.49" letter-spacing="0.837">Silicate</tspan></text>
<text transform="translate(0,268.40) scale(1.15,1)" font-size="42.6" style="font-family:'Liberation Serif',serif;font-weight:normal;stroke:#000;stroke-width:1.2px;stroke-linejoin:miter"><tspan x="632.57" letter-spacing="0.147">S24, </tspan><tspan x="717.76" letter-spacing="-0.470">Fe</tspan></text>
<text transform="translate(0,328.40) scale(1.15,1)" font-size="42.6" style="font-family:'Liberation Serif',serif;font-weight:normal;stroke:#000;stroke-width:1.2px;stroke-linejoin:miter"><tspan x="632.57" letter-spacing="0.147">S24, </tspan><tspan x="717.76" letter-spacing="1.430">Earthlike</tspan></text>
<text transform="translate(0,388.20) scale(1.15,1)" font-size="42.6" style="font-family:'Liberation Serif',serif;font-weight:normal;stroke:#000;stroke-width:1.2px;stroke-linejoin:miter"><tspan x="632.57" letter-spacing="0.147">S24, </tspan><tspan x="716.05" letter-spacing="0.924">Silicate</tspan></text>
<text transform="translate(0,1003.50) scale(1.1765,1)" font-size="31.0" style="font-family:'Liberation Serif',serif;font-weight:normal;stroke:#000;stroke-width:0.85px;stroke-linejoin:miter"><tspan x="491.70">H</tspan><tspan x="515.95" dy="6.70" font-size="44.8">/</tspan><tspan x="529.18" dy="-6.70" letter-spacing="0.385">He</tspan></text>
</svg>
</body></html>
